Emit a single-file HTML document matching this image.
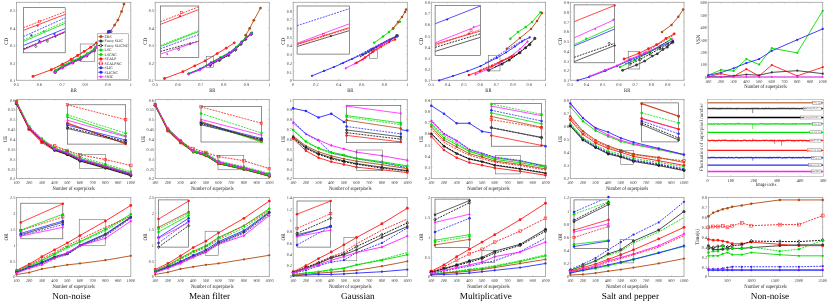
<!DOCTYPE html>
<html><head><meta charset="utf-8"><style>html,body{margin:0;padding:0;background:#fff;width:830px;height:303px;overflow:hidden}svg{display:block;will-change:transform;text-rendering:geometricPrecision}</style></head>
<body><svg width="830" height="303" viewBox="0 0 830 303">
<rect width="830" height="303" fill="#fff"/>
<rect x="16.50" y="2.30" width="114.30" height="78.00" fill="none" stroke="#a4a4a4" stroke-width="0.85"/>
<path d="M16.50 80.30v-1.2M16.50 2.30v1.2" stroke="#a4a4a4" stroke-width="0.5"/>
<text x="16.50" y="86.00" font-size="4.3" text-anchor="middle" font-family="Liberation Serif, serif" fill="#3a3a3a">0.5</text>
<path d="M39.36 80.30v-1.2M39.36 2.30v1.2" stroke="#a4a4a4" stroke-width="0.5"/>
<text x="39.36" y="86.00" font-size="4.3" text-anchor="middle" font-family="Liberation Serif, serif" fill="#3a3a3a">0.6</text>
<path d="M62.22 80.30v-1.2M62.22 2.30v1.2" stroke="#a4a4a4" stroke-width="0.5"/>
<text x="62.22" y="86.00" font-size="4.3" text-anchor="middle" font-family="Liberation Serif, serif" fill="#3a3a3a">0.7</text>
<path d="M85.08 80.30v-1.2M85.08 2.30v1.2" stroke="#a4a4a4" stroke-width="0.5"/>
<text x="85.08" y="86.00" font-size="4.3" text-anchor="middle" font-family="Liberation Serif, serif" fill="#3a3a3a">0.8</text>
<path d="M107.94 80.30v-1.2M107.94 2.30v1.2" stroke="#a4a4a4" stroke-width="0.5"/>
<text x="107.94" y="86.00" font-size="4.3" text-anchor="middle" font-family="Liberation Serif, serif" fill="#3a3a3a">0.9</text>
<path d="M130.80 80.30v-1.2M130.80 2.30v1.2" stroke="#a4a4a4" stroke-width="0.5"/>
<text x="130.80" y="86.00" font-size="4.3" text-anchor="middle" font-family="Liberation Serif, serif" fill="#3a3a3a">1</text>
<path d="M16.50 80.30h1.2M130.80 80.30h-1.2" stroke="#a4a4a4" stroke-width="0.5"/>
<text x="15.30" y="82.20" font-size="4.3" text-anchor="end" font-family="Liberation Serif, serif" fill="#3a3a3a">0.1</text>
<path d="M16.50 62.77h1.2M130.80 62.77h-1.2" stroke="#a4a4a4" stroke-width="0.5"/>
<text x="15.30" y="64.67" font-size="4.3" text-anchor="end" font-family="Liberation Serif, serif" fill="#3a3a3a">0.2</text>
<path d="M16.50 45.25h1.2M130.80 45.25h-1.2" stroke="#a4a4a4" stroke-width="0.5"/>
<text x="15.30" y="47.15" font-size="4.3" text-anchor="end" font-family="Liberation Serif, serif" fill="#3a3a3a">0.3</text>
<path d="M16.50 27.72h1.2M130.80 27.72h-1.2" stroke="#a4a4a4" stroke-width="0.5"/>
<text x="15.30" y="29.62" font-size="4.3" text-anchor="end" font-family="Liberation Serif, serif" fill="#3a3a3a">0.4</text>
<path d="M16.50 10.20h1.2M130.80 10.20h-1.2" stroke="#a4a4a4" stroke-width="0.5"/>
<text x="15.30" y="12.10" font-size="4.3" text-anchor="end" font-family="Liberation Serif, serif" fill="#3a3a3a">0.5</text>
<text x="0" y="0" transform="translate(73.65,91.60) scale(0.86,1)" font-size="5.40" text-anchor="middle" font-family="Liberation Serif, serif" fill="#222">BR</text>
<text x="0" y="0" transform="translate(8.00,41.30) rotate(-90) scale(0.92,1)" font-size="5.40" text-anchor="middle" font-family="Liberation Serif, serif" fill="#222">CD</text>
<path d="M55.20 71.80 L62.30 67.30 L72.70 62.30 L80.20 59.00 L86.80 55.30 L94.30 50.30 L97.10 46.50" fill="none" stroke="#000000" stroke-width="0.9" stroke-dasharray="1.9 1.1" stroke-linejoin="round"/>
<path d="M55.20 70.17L56.50 71.80L55.20 73.43L53.90 71.80Z" fill="none" stroke="#000000" stroke-width="0.6"/>
<path d="M62.30 65.67L63.60 67.30L62.30 68.93L61.00 67.30Z" fill="none" stroke="#000000" stroke-width="0.6"/>
<path d="M72.70 60.67L74.00 62.30L72.70 63.93L71.40 62.30Z" fill="none" stroke="#000000" stroke-width="0.6"/>
<path d="M80.20 57.37L81.50 59.00L80.20 60.63L78.90 59.00Z" fill="none" stroke="#000000" stroke-width="0.6"/>
<path d="M86.80 53.67L88.10 55.30L86.80 56.93L85.50 55.30Z" fill="none" stroke="#000000" stroke-width="0.6"/>
<path d="M94.30 48.67L95.60 50.30L94.30 51.93L93.00 50.30Z" fill="none" stroke="#000000" stroke-width="0.6"/>
<path d="M97.10 44.87L98.40 46.50L97.10 48.13L95.80 46.50Z" fill="none" stroke="#000000" stroke-width="0.6"/>
<path d="M55.08 72.20 L62.18 67.70 L72.58 62.70 L80.08 59.40 L86.68 55.70 L94.18 50.70 L96.98 46.90" fill="none" stroke="#3a3a3a" stroke-width="0.9" stroke-linejoin="round"/>
<circle cx="55.08" cy="72.20" r="1.53" fill="#3a3a3a"/>
<circle cx="62.18" cy="67.70" r="1.53" fill="#3a3a3a"/>
<circle cx="72.58" cy="62.70" r="1.53" fill="#3a3a3a"/>
<circle cx="80.08" cy="59.40" r="1.53" fill="#3a3a3a"/>
<circle cx="86.68" cy="55.70" r="1.53" fill="#3a3a3a"/>
<circle cx="94.18" cy="50.70" r="1.53" fill="#3a3a3a"/>
<circle cx="96.98" cy="46.90" r="1.53" fill="#3a3a3a"/>
<path d="M55.41 71.10 L62.51 66.60 L72.91 61.60 L80.41 58.30 L87.01 54.60 L94.51 49.60 L97.31 45.80" fill="none" stroke="#2a2aff" stroke-width="0.9" stroke-linejoin="round"/>
<circle cx="55.41" cy="71.10" r="1.26" fill="#2a2aff"/>
<circle cx="62.51" cy="66.60" r="1.26" fill="#2a2aff"/>
<circle cx="72.91" cy="61.60" r="1.26" fill="#2a2aff"/>
<circle cx="80.41" cy="58.30" r="1.26" fill="#2a2aff"/>
<circle cx="87.01" cy="54.60" r="1.26" fill="#2a2aff"/>
<circle cx="94.51" cy="49.60" r="1.26" fill="#2a2aff"/>
<circle cx="97.31" cy="45.80" r="1.26" fill="#2a2aff"/>
<path d="M55.50 70.80 L62.60 66.30 L73.00 61.30 L80.50 58.00 L87.10 54.30 L94.60 49.30 L97.40 45.50" fill="none" stroke="#2a2aff" stroke-width="0.9" stroke-dasharray="1.9 1.1" stroke-linejoin="round"/>
<circle cx="55.50" cy="70.80" r="1.12" fill="#2a2aff"/>
<circle cx="62.60" cy="66.30" r="1.12" fill="#2a2aff"/>
<circle cx="73.00" cy="61.30" r="1.12" fill="#2a2aff"/>
<circle cx="80.50" cy="58.00" r="1.12" fill="#2a2aff"/>
<circle cx="87.10" cy="54.30" r="1.12" fill="#2a2aff"/>
<circle cx="94.60" cy="49.30" r="1.12" fill="#2a2aff"/>
<circle cx="97.40" cy="45.50" r="1.12" fill="#2a2aff"/>
<path d="M55.65 70.30 L62.75 65.80 L73.15 60.80 L80.65 57.50 L87.25 53.80 L94.75 48.80 L97.55 45.00" fill="none" stroke="#00e000" stroke-width="0.9" stroke-dasharray="1.9 1.1" stroke-linejoin="round"/>
<circle cx="55.65" cy="70.30" r="1.12" fill="#00e000"/>
<circle cx="62.75" cy="65.80" r="1.12" fill="#00e000"/>
<circle cx="73.15" cy="60.80" r="1.12" fill="#00e000"/>
<circle cx="80.65" cy="57.50" r="1.12" fill="#00e000"/>
<circle cx="87.25" cy="53.80" r="1.12" fill="#00e000"/>
<circle cx="94.75" cy="48.80" r="1.12" fill="#00e000"/>
<circle cx="97.55" cy="45.00" r="1.12" fill="#00e000"/>
<path d="M55.77 69.90 L62.87 65.40 L73.27 60.40 L80.77 57.10 L87.37 53.40 L94.87 48.40 L97.67 44.60" fill="none" stroke="#00e000" stroke-width="0.9" stroke-linejoin="round"/>
<circle cx="55.77" cy="69.90" r="1.26" fill="#00e000"/>
<circle cx="62.87" cy="65.40" r="1.26" fill="#00e000"/>
<circle cx="73.27" cy="60.40" r="1.26" fill="#00e000"/>
<circle cx="80.77" cy="57.10" r="1.26" fill="#00e000"/>
<circle cx="87.37" cy="53.40" r="1.26" fill="#00e000"/>
<circle cx="94.87" cy="48.40" r="1.26" fill="#00e000"/>
<circle cx="97.67" cy="44.60" r="1.26" fill="#00e000"/>
<path d="M55.05 72.30 L62.15 67.80 L72.55 62.80 L80.05 59.50 L86.65 55.80 L94.15 50.80 L96.95 47.00" fill="none" stroke="#ff20ff" stroke-width="0.9" stroke-linejoin="round"/>
<path d="M55.05 70.67L56.35 72.30L55.05 73.93L53.75 72.30Z" fill="#ff20ff"/>
<path d="M62.15 66.17L63.45 67.80L62.15 69.43L60.85 67.80Z" fill="#ff20ff"/>
<path d="M72.55 61.17L73.85 62.80L72.55 64.43L71.25 62.80Z" fill="#ff20ff"/>
<path d="M80.05 57.87L81.35 59.50L80.05 61.13L78.75 59.50Z" fill="#ff20ff"/>
<path d="M86.65 54.17L87.95 55.80L86.65 57.43L85.35 55.80Z" fill="#ff20ff"/>
<path d="M94.15 49.17L95.45 50.80L94.15 52.43L92.85 50.80Z" fill="#ff20ff"/>
<path d="M96.95 45.37L98.25 47.00L96.95 48.63L95.65 47.00Z" fill="#ff20ff"/>
<path d="M51.50 69.50 L62.80 63.90 L71.30 59.20 L77.90 55.20 L84.50 51.10 L91.00 46.90 L96.70 42.60" fill="none" stroke="#ff1a1a" stroke-width="0.9" stroke-dasharray="1.9 1.1" stroke-linejoin="round"/>
<path d="M33.00 76.40 L51.30 69.80 L62.60 64.20 L71.10 59.50 L77.70 55.50 L84.30 51.40 L90.80 47.20 L96.50 42.90" fill="none" stroke="#ff1a1a" stroke-width="0.9" stroke-linejoin="round"/>
<circle cx="33.00" cy="76.40" r="1.46" fill="#ff1a1a"/>
<circle cx="51.30" cy="69.80" r="1.46" fill="#ff1a1a"/>
<circle cx="62.60" cy="64.20" r="1.46" fill="#ff1a1a"/>
<circle cx="71.10" cy="59.50" r="1.46" fill="#ff1a1a"/>
<circle cx="77.70" cy="55.50" r="1.46" fill="#ff1a1a"/>
<circle cx="84.30" cy="51.40" r="1.46" fill="#ff1a1a"/>
<circle cx="90.80" cy="47.20" r="1.46" fill="#ff1a1a"/>
<circle cx="96.50" cy="42.90" r="1.46" fill="#ff1a1a"/>
<path d="M108.00 33.00 L110.40 31.40 L114.60 25.10 L117.90 20.10 L121.60 11.60 L124.00 4.10" fill="none" stroke="#b04c14" stroke-width="0.9" stroke-linejoin="round"/>
<circle cx="108.00" cy="33.00" r="1.40" fill="#b04c14"/>
<circle cx="110.40" cy="31.40" r="1.40" fill="#b04c14"/>
<circle cx="114.60" cy="25.10" r="1.40" fill="#b04c14"/>
<circle cx="117.90" cy="20.10" r="1.40" fill="#b04c14"/>
<circle cx="121.60" cy="11.60" r="1.40" fill="#b04c14"/>
<circle cx="124.00" cy="4.10" r="1.40" fill="#b04c14"/>
<circle cx="108.50" cy="31.50" r="1.40" fill="#2a2aff"/>
<circle cx="109.50" cy="31.50" r="1.40" fill="#2a2aff"/>
<circle cx="110.50" cy="31.50" r="1.40" fill="#3a3a3a"/>
<path d="M111.50 29.87L112.80 31.50L111.50 33.13L110.20 31.50Z" fill="#ff20ff"/>
<rect x="80.20" y="44.00" width="14.60" height="17.40" fill="none" stroke="#555" stroke-width="0.5"/>
<rect x="23.30" y="7.70" width="41.90" height="45.10" fill="#fff" stroke="#444" stroke-width="0.6"/>
<clipPath id="c104"><rect x="23.30" y="7.70" width="41.90" height="45.10"/></clipPath>
<g clip-path="url(#c104)">
<path d="M23.30 27.70 L65.20 11.70" fill="none" stroke="#ff1a1a" stroke-width="0.8" stroke-dasharray="1.9 1.1" stroke-linejoin="round"/>
<rect x="38.35" y="20.45" width="2.11" height="2.11" fill="none" stroke="#ff1a1a" stroke-width="0.55"/>
<path d="M23.30 30.40 L65.20 14.40" fill="none" stroke="#ff1a1a" stroke-width="0.8" stroke-linejoin="round"/>
<circle cx="37.60" cy="25.60" r="1.12" fill="#ff1a1a"/>
<path d="M23.30 36.60 L65.20 17.90" fill="none" stroke="#2a2aff" stroke-width="0.8" stroke-dasharray="1.9 1.1" stroke-linejoin="round"/>
<circle cx="31.40" cy="35.40" r="1.12" fill="#2a2aff"/>
<path d="M23.30 40.20 L65.20 21.50" fill="none" stroke="#00e000" stroke-width="0.8" stroke-dasharray="1.9 1.1" stroke-linejoin="round"/>
<path d="M23.30 41.60 L65.20 23.30" fill="none" stroke="#00e000" stroke-width="0.8" stroke-linejoin="round"/>
<circle cx="43.80" cy="31.30" r="1.12" fill="#00e000"/>
<path d="M23.30 45.50 L65.20 28.60" fill="none" stroke="#2a2aff" stroke-width="0.8" stroke-linejoin="round"/>
<circle cx="54.50" cy="34.00" r="1.12" fill="#2a2aff"/>
<circle cx="39.40" cy="41.10" r="1.12" fill="#2a2aff"/>
<path d="M23.30 48.80 L65.20 32.20" fill="none" stroke="#000000" stroke-width="0.8" stroke-dasharray="1.9 1.1" stroke-linejoin="round"/>
<path d="M35.80 45.10L36.84 46.40L35.80 47.70L34.76 46.40Z" fill="none" stroke="#000000" stroke-width="0.6"/>
<path d="M47.40 39.80L48.44 41.10L47.40 42.40L46.36 41.10Z" fill="none" stroke="#000000" stroke-width="0.6"/>
<path d="M23.30 49.50 L65.20 31.80" fill="none" stroke="#3a3a3a" stroke-width="0.8" stroke-linejoin="round"/>
<circle cx="55.40" cy="36.60" r="1.12" fill="#3a3a3a"/>
<path d="M23.30 50.00 L65.20 31.30" fill="none" stroke="#ff20ff" stroke-width="0.8" stroke-linejoin="round"/>
<path d="M40.30 41.50L41.34 42.80L40.30 44.10L39.26 42.80Z" fill="#ff20ff"/>
</g>
<rect x="97.4" y="33.8" width="31.20" height="45.60" fill="#fff" stroke="#777" stroke-width="0.5"/>
<path d="M98.30 36.60 L103.70 36.60" fill="none" stroke="#b04c14" stroke-width="0.8" stroke-linejoin="round"/>
<circle cx="100.90" cy="36.60" r="1.53" fill="#b04c14"/>
<text x="104.6" y="38.00" font-size="3.8" font-family="Liberation Serif, serif" fill="#222">ERS</text>
<path d="M98.30 41.06 L103.70 41.06" fill="none" stroke="#3a3a3a" stroke-width="0.8" stroke-linejoin="round"/>
<circle cx="100.90" cy="41.06" r="1.53" fill="#3a3a3a"/>
<text x="104.6" y="42.46" font-size="3.8" font-family="Liberation Serif, serif" fill="#222">Fuzzy SLIC</text>
<path d="M98.30 45.52 L103.70 45.52" fill="none" stroke="#000000" stroke-width="0.8" stroke-dasharray="1.9 1.1" stroke-linejoin="round"/>
<path d="M100.90 43.73L102.33 45.52L100.90 47.31L99.47 45.52Z" fill="none" stroke="#000000" stroke-width="0.6"/>
<text x="104.6" y="46.92" font-size="3.8" font-family="Liberation Serif, serif" fill="#222">Fuzzy SLICNC</text>
<path d="M98.30 49.98 L103.70 49.98" fill="none" stroke="#00e000" stroke-width="0.8" stroke-linejoin="round"/>
<circle cx="100.90" cy="49.98" r="1.53" fill="#00e000"/>
<text x="104.6" y="51.38" font-size="3.8" font-family="Liberation Serif, serif" fill="#222">LSC</text>
<path d="M98.30 54.44 L103.70 54.44" fill="none" stroke="#00e000" stroke-width="0.8" stroke-dasharray="1.9 1.1" stroke-linejoin="round"/>
<circle cx="100.90" cy="54.44" r="1.53" fill="#00e000"/>
<text x="104.6" y="55.84" font-size="3.8" font-family="Liberation Serif, serif" fill="#222">LSCNC</text>
<path d="M98.30 58.90 L103.70 58.90" fill="none" stroke="#ff1a1a" stroke-width="0.8" stroke-linejoin="round"/>
<circle cx="100.90" cy="58.90" r="1.53" fill="#ff1a1a"/>
<text x="104.6" y="60.30" font-size="3.8" font-family="Liberation Serif, serif" fill="#222">SCALP</text>
<path d="M98.30 63.36 L103.70 63.36" fill="none" stroke="#ff1a1a" stroke-width="0.8" stroke-dasharray="1.9 1.1" stroke-linejoin="round"/>
<rect x="99.45" y="61.91" width="2.90" height="2.90" fill="none" stroke="#ff1a1a" stroke-width="0.55"/>
<text x="104.6" y="64.76" font-size="3.8" font-family="Liberation Serif, serif" fill="#222">SCALPNC</text>
<path d="M98.30 67.82 L103.70 67.82" fill="none" stroke="#2a2aff" stroke-width="0.8" stroke-linejoin="round"/>
<circle cx="100.90" cy="67.82" r="1.53" fill="#2a2aff"/>
<text x="104.6" y="69.22" font-size="3.8" font-family="Liberation Serif, serif" fill="#222">SLIC</text>
<path d="M98.30 72.28 L103.70 72.28" fill="none" stroke="#2a2aff" stroke-width="0.8" stroke-dasharray="1.9 1.1" stroke-linejoin="round"/>
<circle cx="100.90" cy="72.28" r="1.53" fill="#2a2aff"/>
<text x="104.6" y="73.68" font-size="3.8" font-family="Liberation Serif, serif" fill="#222">SLICNC</text>
<path d="M98.30 76.74 L103.70 76.74" fill="none" stroke="#ff20ff" stroke-width="0.8" stroke-linejoin="round"/>
<path d="M100.90 74.95L102.33 76.74L100.90 78.53L99.47 76.74Z" fill="#ff20ff"/>
<text x="104.6" y="78.14" font-size="3.8" font-family="Liberation Serif, serif" fill="#222">SNIC</text>
<rect x="155.20" y="2.30" width="114.10" height="78.00" fill="none" stroke="#a4a4a4" stroke-width="0.85"/>
<path d="M155.20 80.30v-1.2M155.20 2.30v1.2" stroke="#a4a4a4" stroke-width="0.5"/>
<text x="155.20" y="86.00" font-size="4.3" text-anchor="middle" font-family="Liberation Serif, serif" fill="#3a3a3a">0.5</text>
<path d="M178.02 80.30v-1.2M178.02 2.30v1.2" stroke="#a4a4a4" stroke-width="0.5"/>
<text x="178.02" y="86.00" font-size="4.3" text-anchor="middle" font-family="Liberation Serif, serif" fill="#3a3a3a">0.6</text>
<path d="M200.84 80.30v-1.2M200.84 2.30v1.2" stroke="#a4a4a4" stroke-width="0.5"/>
<text x="200.84" y="86.00" font-size="4.3" text-anchor="middle" font-family="Liberation Serif, serif" fill="#3a3a3a">0.7</text>
<path d="M223.66 80.30v-1.2M223.66 2.30v1.2" stroke="#a4a4a4" stroke-width="0.5"/>
<text x="223.66" y="86.00" font-size="4.3" text-anchor="middle" font-family="Liberation Serif, serif" fill="#3a3a3a">0.8</text>
<path d="M246.48 80.30v-1.2M246.48 2.30v1.2" stroke="#a4a4a4" stroke-width="0.5"/>
<text x="246.48" y="86.00" font-size="4.3" text-anchor="middle" font-family="Liberation Serif, serif" fill="#3a3a3a">0.9</text>
<path d="M269.30 80.30v-1.2M269.30 2.30v1.2" stroke="#a4a4a4" stroke-width="0.5"/>
<text x="269.30" y="86.00" font-size="4.3" text-anchor="middle" font-family="Liberation Serif, serif" fill="#3a3a3a">1</text>
<path d="M155.20 80.30h1.2M269.30 80.30h-1.2" stroke="#a4a4a4" stroke-width="0.5"/>
<text x="154.00" y="82.20" font-size="4.3" text-anchor="end" font-family="Liberation Serif, serif" fill="#3a3a3a">0.1</text>
<path d="M155.20 62.77h1.2M269.30 62.77h-1.2" stroke="#a4a4a4" stroke-width="0.5"/>
<text x="154.00" y="64.67" font-size="4.3" text-anchor="end" font-family="Liberation Serif, serif" fill="#3a3a3a">0.2</text>
<path d="M155.20 45.25h1.2M269.30 45.25h-1.2" stroke="#a4a4a4" stroke-width="0.5"/>
<text x="154.00" y="47.15" font-size="4.3" text-anchor="end" font-family="Liberation Serif, serif" fill="#3a3a3a">0.3</text>
<path d="M155.20 27.72h1.2M269.30 27.72h-1.2" stroke="#a4a4a4" stroke-width="0.5"/>
<text x="154.00" y="29.62" font-size="4.3" text-anchor="end" font-family="Liberation Serif, serif" fill="#3a3a3a">0.4</text>
<path d="M155.20 10.20h1.2M269.30 10.20h-1.2" stroke="#a4a4a4" stroke-width="0.5"/>
<text x="154.00" y="12.10" font-size="4.3" text-anchor="end" font-family="Liberation Serif, serif" fill="#3a3a3a">0.5</text>
<text x="0" y="0" transform="translate(212.25,91.60) scale(0.86,1)" font-size="5.40" text-anchor="middle" font-family="Liberation Serif, serif" fill="#222">BR</text>
<text x="0" y="0" transform="translate(146.70,41.30) rotate(-90) scale(0.92,1)" font-size="5.40" text-anchor="middle" font-family="Liberation Serif, serif" fill="#222">CD</text>
<path d="M164.50 78.50 L182.90 71.70 L194.80 65.80 L205.10 60.90 L217.20 53.60 L226.20 48.20 L234.30 42.80" fill="none" stroke="#ff1a1a" stroke-width="0.9" stroke-linejoin="round"/>
<circle cx="164.50" cy="78.50" r="1.40" fill="#ff1a1a"/>
<circle cx="182.90" cy="71.70" r="1.40" fill="#ff1a1a"/>
<circle cx="194.80" cy="65.80" r="1.40" fill="#ff1a1a"/>
<circle cx="205.10" cy="60.90" r="1.40" fill="#ff1a1a"/>
<circle cx="217.20" cy="53.60" r="1.40" fill="#ff1a1a"/>
<circle cx="226.20" cy="48.20" r="1.40" fill="#ff1a1a"/>
<circle cx="234.30" cy="42.80" r="1.40" fill="#ff1a1a"/>
<path d="M210.19 65.20 L219.49 60.20 L228.59 55.20 L235.49 49.70 L240.89 44.03 L245.49 39.19 L251.09 34.15" fill="none" stroke="#000000" stroke-width="0.9" stroke-dasharray="1.9 1.1" stroke-linejoin="round"/>
<path d="M210.19 63.41L211.62 65.20L210.19 66.99L208.76 65.20Z" fill="none" stroke="#000000" stroke-width="0.6"/>
<path d="M219.49 58.41L220.92 60.20L219.49 61.99L218.06 60.20Z" fill="none" stroke="#000000" stroke-width="0.6"/>
<path d="M228.59 53.41L230.02 55.20L228.59 56.99L227.16 55.20Z" fill="none" stroke="#000000" stroke-width="0.6"/>
<path d="M235.49 47.91L236.92 49.70L235.49 51.49L234.06 49.70Z" fill="none" stroke="#000000" stroke-width="0.6"/>
<path d="M240.89 42.24L242.32 44.03L240.89 45.82L239.46 44.03Z" fill="none" stroke="#000000" stroke-width="0.6"/>
<path d="M245.49 37.40L246.92 39.19L245.49 40.98L244.06 39.19Z" fill="none" stroke="#000000" stroke-width="0.6"/>
<path d="M251.09 32.36L252.52 34.15L251.09 35.94L249.66 34.15Z" fill="none" stroke="#000000" stroke-width="0.6"/>
<path d="M210.31 64.80 L219.61 59.80 L228.71 54.80 L235.61 49.30 L241.01 43.67 L245.61 38.91 L251.21 33.95" fill="none" stroke="#3a3a3a" stroke-width="0.9" stroke-linejoin="round"/>
<circle cx="210.31" cy="64.80" r="1.40" fill="#3a3a3a"/>
<circle cx="219.61" cy="59.80" r="1.40" fill="#3a3a3a"/>
<circle cx="228.71" cy="54.80" r="1.40" fill="#3a3a3a"/>
<circle cx="235.61" cy="49.30" r="1.40" fill="#3a3a3a"/>
<circle cx="241.01" cy="43.67" r="1.40" fill="#3a3a3a"/>
<circle cx="245.61" cy="38.91" r="1.40" fill="#3a3a3a"/>
<circle cx="251.21" cy="33.95" r="1.40" fill="#3a3a3a"/>
<path d="M188.86 73.40 L200.36 68.54 L211.06 62.30 L220.36 57.30 L229.46 52.30 L236.36 46.80 L241.76 41.42 L246.36 37.16 L251.96 32.70" fill="none" stroke="#00e000" stroke-width="0.9" stroke-linejoin="round"/>
<circle cx="188.86" cy="73.40" r="1.12" fill="#00e000"/>
<circle cx="200.36" cy="68.54" r="1.12" fill="#00e000"/>
<circle cx="211.06" cy="62.30" r="1.12" fill="#00e000"/>
<circle cx="220.36" cy="57.30" r="1.12" fill="#00e000"/>
<circle cx="229.46" cy="52.30" r="1.12" fill="#00e000"/>
<circle cx="236.36" cy="46.80" r="1.12" fill="#00e000"/>
<circle cx="241.76" cy="41.42" r="1.12" fill="#00e000"/>
<circle cx="246.36" cy="37.16" r="1.12" fill="#00e000"/>
<circle cx="251.96" cy="32.70" r="1.12" fill="#00e000"/>
<path d="M188.74 73.60 L200.24 68.86 L210.94 62.70 L220.24 57.70 L229.34 52.70 L236.24 47.20 L241.64 41.78 L246.24 37.44 L251.84 32.90" fill="none" stroke="#00e000" stroke-width="0.9" stroke-dasharray="1.9 1.1" stroke-linejoin="round"/>
<circle cx="188.74" cy="73.60" r="1.12" fill="#00e000"/>
<circle cx="200.24" cy="68.86" r="1.12" fill="#00e000"/>
<circle cx="210.94" cy="62.70" r="1.12" fill="#00e000"/>
<circle cx="220.24" cy="57.70" r="1.12" fill="#00e000"/>
<circle cx="229.34" cy="52.70" r="1.12" fill="#00e000"/>
<circle cx="236.24" cy="47.20" r="1.12" fill="#00e000"/>
<circle cx="241.64" cy="41.78" r="1.12" fill="#00e000"/>
<circle cx="246.24" cy="37.44" r="1.12" fill="#00e000"/>
<circle cx="251.84" cy="32.90" r="1.12" fill="#00e000"/>
<path d="M188.59 73.85 L200.09 69.26 L210.79 63.20 L220.09 58.20 L229.19 53.20 L236.09 47.70 L241.49 42.23 L246.09 37.79 L251.69 33.15" fill="none" stroke="#2a2aff" stroke-width="0.9" stroke-dasharray="1.9 1.1" stroke-linejoin="round"/>
<circle cx="188.59" cy="73.85" r="0.98" fill="#2a2aff"/>
<circle cx="200.09" cy="69.26" r="0.98" fill="#2a2aff"/>
<circle cx="210.79" cy="63.20" r="0.98" fill="#2a2aff"/>
<circle cx="220.09" cy="58.20" r="0.98" fill="#2a2aff"/>
<circle cx="229.19" cy="53.20" r="0.98" fill="#2a2aff"/>
<circle cx="236.09" cy="47.70" r="0.98" fill="#2a2aff"/>
<circle cx="241.49" cy="42.23" r="0.98" fill="#2a2aff"/>
<circle cx="246.09" cy="37.79" r="0.98" fill="#2a2aff"/>
<circle cx="251.69" cy="33.15" r="0.98" fill="#2a2aff"/>
<path d="M188.47 74.05 L199.97 69.58 L210.67 63.60 L219.97 58.60 L229.07 53.60 L235.97 48.10 L241.37 42.59 L245.97 38.07 L251.57 33.35" fill="none" stroke="#2a2aff" stroke-width="0.9" stroke-linejoin="round"/>
<circle cx="188.47" cy="74.05" r="1.12" fill="#2a2aff"/>
<circle cx="199.97" cy="69.58" r="1.12" fill="#2a2aff"/>
<circle cx="210.67" cy="63.60" r="1.12" fill="#2a2aff"/>
<circle cx="219.97" cy="58.60" r="1.12" fill="#2a2aff"/>
<circle cx="229.07" cy="53.60" r="1.12" fill="#2a2aff"/>
<circle cx="235.97" cy="48.10" r="1.12" fill="#2a2aff"/>
<circle cx="241.37" cy="42.59" r="1.12" fill="#2a2aff"/>
<circle cx="245.97" cy="38.07" r="1.12" fill="#2a2aff"/>
<circle cx="251.57" cy="33.35" r="1.12" fill="#2a2aff"/>
<path d="M188.35 74.25 L199.85 69.90 L210.55 64.00 L219.85 59.00 L228.95 54.00 L235.85 48.50 L241.25 42.95 L245.85 38.35 L251.45 33.55" fill="none" stroke="#ff20ff" stroke-width="0.9" stroke-linejoin="round"/>
<path d="M188.35 72.79L189.52 74.25L188.35 75.71L187.18 74.25Z" fill="#ff20ff"/>
<path d="M199.85 68.44L201.02 69.90L199.85 71.36L198.68 69.90Z" fill="#ff20ff"/>
<path d="M210.55 62.54L211.72 64.00L210.55 65.46L209.38 64.00Z" fill="#ff20ff"/>
<path d="M219.85 57.54L221.02 59.00L219.85 60.46L218.68 59.00Z" fill="#ff20ff"/>
<path d="M228.95 52.54L230.12 54.00L228.95 55.46L227.78 54.00Z" fill="#ff20ff"/>
<path d="M235.85 47.04L237.02 48.50L235.85 49.96L234.68 48.50Z" fill="#ff20ff"/>
<path d="M241.25 41.49L242.42 42.95L241.25 44.41L240.08 42.95Z" fill="#ff20ff"/>
<path d="M245.85 36.89L247.02 38.35L245.85 39.81L244.68 38.35Z" fill="#ff20ff"/>
<path d="M251.45 32.09L252.62 33.55L251.45 35.01L250.28 33.55Z" fill="#ff20ff"/>
<path d="M245.70 35.20 L249.70 28.40 L253.80 20.30 L260.50 8.10" fill="none" stroke="#b04c14" stroke-width="0.9" stroke-linejoin="round"/>
<circle cx="245.70" cy="35.20" r="1.40" fill="#b04c14"/>
<circle cx="249.70" cy="28.40" r="1.40" fill="#b04c14"/>
<circle cx="253.80" cy="20.30" r="1.40" fill="#b04c14"/>
<circle cx="260.50" cy="8.10" r="1.40" fill="#b04c14"/>
<rect x="206.40" y="56.30" width="7.10" height="11.40" fill="none" stroke="#555" stroke-width="0.5"/>
<rect x="160.40" y="6.00" width="38.40" height="51.40" fill="#fff" stroke="#444" stroke-width="0.6"/>
<clipPath id="c263"><rect x="160.40" y="6.00" width="38.40" height="51.40"/></clipPath>
<g clip-path="url(#c263)">
<path d="M160.40 21.70 L198.80 6.80" fill="none" stroke="#ff1a1a" stroke-width="0.8" stroke-dasharray="1.9 1.1" stroke-linejoin="round"/>
<rect x="180.25" y="11.65" width="2.11" height="2.11" fill="none" stroke="#ff1a1a" stroke-width="0.55"/>
<path d="M160.40 24.40 L198.80 9.50" fill="none" stroke="#ff1a1a" stroke-width="0.8" stroke-linejoin="round"/>
<circle cx="179.90" cy="16.20" r="1.12" fill="#ff1a1a"/>
<path d="M160.40 45.50 L198.80 30.50" fill="none" stroke="#00e000" stroke-width="0.8" stroke-dasharray="1.9 1.1" stroke-linejoin="round"/>
<path d="M160.40 46.50 L198.80 31.50" fill="none" stroke="#00e000" stroke-width="0.8" stroke-linejoin="round"/>
<path d="M160.40 48.70 L198.80 34.60" fill="none" stroke="#2a2aff" stroke-width="0.8" stroke-dasharray="1.9 1.1" stroke-linejoin="round"/>
<path d="M160.40 51.40 L198.80 41.10" fill="none" stroke="#000000" stroke-width="0.8" stroke-dasharray="1.9 1.1" stroke-linejoin="round"/>
<path d="M178.80 48.00L179.84 49.30L178.80 50.60L177.76 49.30Z" fill="none" stroke="#000000" stroke-width="0.6"/>
<path d="M190.20 42.50L191.24 43.80L190.20 45.10L189.16 43.80Z" fill="none" stroke="#000000" stroke-width="0.6"/>
<path d="M160.40 54.10 L198.80 41.10" fill="none" stroke="#ff20ff" stroke-width="0.8" stroke-linejoin="round"/>
<path d="M167.20 52.80L168.24 54.10L167.20 55.40L166.16 54.10Z" fill="#ff20ff"/>
</g>
<rect x="293.20" y="2.30" width="114.10" height="78.00" fill="none" stroke="#a4a4a4" stroke-width="0.85"/>
<path d="M293.20 80.30v-1.2M293.20 2.30v1.2" stroke="#a4a4a4" stroke-width="0.5"/>
<text x="293.20" y="86.00" font-size="4.3" text-anchor="middle" font-family="Liberation Serif, serif" fill="#3a3a3a">0</text>
<path d="M316.02 80.30v-1.2M316.02 2.30v1.2" stroke="#a4a4a4" stroke-width="0.5"/>
<text x="316.02" y="86.00" font-size="4.3" text-anchor="middle" font-family="Liberation Serif, serif" fill="#3a3a3a">0.2</text>
<path d="M338.84 80.30v-1.2M338.84 2.30v1.2" stroke="#a4a4a4" stroke-width="0.5"/>
<text x="338.84" y="86.00" font-size="4.3" text-anchor="middle" font-family="Liberation Serif, serif" fill="#3a3a3a">0.4</text>
<path d="M361.66 80.30v-1.2M361.66 2.30v1.2" stroke="#a4a4a4" stroke-width="0.5"/>
<text x="361.66" y="86.00" font-size="4.3" text-anchor="middle" font-family="Liberation Serif, serif" fill="#3a3a3a">0.6</text>
<path d="M384.48 80.30v-1.2M384.48 2.30v1.2" stroke="#a4a4a4" stroke-width="0.5"/>
<text x="384.48" y="86.00" font-size="4.3" text-anchor="middle" font-family="Liberation Serif, serif" fill="#3a3a3a">0.8</text>
<path d="M407.30 80.30v-1.2M407.30 2.30v1.2" stroke="#a4a4a4" stroke-width="0.5"/>
<text x="407.30" y="86.00" font-size="4.3" text-anchor="middle" font-family="Liberation Serif, serif" fill="#3a3a3a">1</text>
<path d="M293.20 80.30h1.2M407.30 80.30h-1.2" stroke="#a4a4a4" stroke-width="0.5"/>
<text x="292.00" y="82.20" font-size="4.3" text-anchor="end" font-family="Liberation Serif, serif" fill="#3a3a3a">0</text>
<path d="M293.20 71.61h1.2M407.30 71.61h-1.2" stroke="#a4a4a4" stroke-width="0.5"/>
<text x="292.00" y="73.51" font-size="4.3" text-anchor="end" font-family="Liberation Serif, serif" fill="#3a3a3a">0.1</text>
<path d="M293.20 62.93h1.2M407.30 62.93h-1.2" stroke="#a4a4a4" stroke-width="0.5"/>
<text x="292.00" y="64.83" font-size="4.3" text-anchor="end" font-family="Liberation Serif, serif" fill="#3a3a3a">0.2</text>
<path d="M293.20 54.24h1.2M407.30 54.24h-1.2" stroke="#a4a4a4" stroke-width="0.5"/>
<text x="292.00" y="56.14" font-size="4.3" text-anchor="end" font-family="Liberation Serif, serif" fill="#3a3a3a">0.3</text>
<path d="M293.20 45.56h1.2M407.30 45.56h-1.2" stroke="#a4a4a4" stroke-width="0.5"/>
<text x="292.00" y="47.46" font-size="4.3" text-anchor="end" font-family="Liberation Serif, serif" fill="#3a3a3a">0.4</text>
<path d="M293.20 36.87h1.2M407.30 36.87h-1.2" stroke="#a4a4a4" stroke-width="0.5"/>
<text x="292.00" y="38.77" font-size="4.3" text-anchor="end" font-family="Liberation Serif, serif" fill="#3a3a3a">0.5</text>
<path d="M293.20 28.18h1.2M407.30 28.18h-1.2" stroke="#a4a4a4" stroke-width="0.5"/>
<text x="292.00" y="30.08" font-size="4.3" text-anchor="end" font-family="Liberation Serif, serif" fill="#3a3a3a">0.6</text>
<path d="M293.20 19.50h1.2M407.30 19.50h-1.2" stroke="#a4a4a4" stroke-width="0.5"/>
<text x="292.00" y="21.40" font-size="4.3" text-anchor="end" font-family="Liberation Serif, serif" fill="#3a3a3a">0.7</text>
<path d="M293.20 10.81h1.2M407.30 10.81h-1.2" stroke="#a4a4a4" stroke-width="0.5"/>
<text x="292.00" y="12.71" font-size="4.3" text-anchor="end" font-family="Liberation Serif, serif" fill="#3a3a3a">0.8</text>
<text x="0" y="0" transform="translate(350.25,91.60) scale(0.86,1)" font-size="5.40" text-anchor="middle" font-family="Liberation Serif, serif" fill="#222">BR</text>
<text x="0" y="0" transform="translate(284.70,41.30) rotate(-90) scale(0.92,1)" font-size="5.40" text-anchor="middle" font-family="Liberation Serif, serif" fill="#222">CD</text>
<path d="M362.00 55.50 L371.00 50.00 L380.00 44.50 L389.00 39.50 L397.00 35.80" fill="none" stroke="#3a3a3a" stroke-width="0.9" stroke-linejoin="round"/>
<path d="M360.00 57.00 L369.00 52.00 L378.00 46.50 L387.00 41.50 L397.00 36.50" fill="none" stroke="#000000" stroke-width="0.9" stroke-dasharray="1.9 1.1" stroke-linejoin="round"/>
<circle cx="397.00" cy="35.80" r="1.81" fill="#3a3a3a"/>
<path d="M312.00 75.80 L324.10 70.90 L334.00 67.00 L343.00 63.00 L352.00 59.00 L362.00 54.50 L372.00 49.00 L382.00 44.00 L390.00 40.00 L397.20 36.50" fill="none" stroke="#2a2aff" stroke-width="0.9" stroke-linejoin="round"/>
<circle cx="312.00" cy="75.80" r="1.12" fill="#2a2aff"/>
<circle cx="324.10" cy="70.90" r="1.12" fill="#2a2aff"/>
<circle cx="334.00" cy="67.00" r="1.12" fill="#2a2aff"/>
<circle cx="343.00" cy="63.00" r="1.12" fill="#2a2aff"/>
<circle cx="352.00" cy="59.00" r="1.12" fill="#2a2aff"/>
<circle cx="362.00" cy="54.50" r="1.12" fill="#2a2aff"/>
<circle cx="372.00" cy="49.00" r="1.12" fill="#2a2aff"/>
<circle cx="382.00" cy="44.00" r="1.12" fill="#2a2aff"/>
<circle cx="390.00" cy="40.00" r="1.12" fill="#2a2aff"/>
<circle cx="397.20" cy="36.50" r="1.12" fill="#2a2aff"/>
<path d="M340.00 64.00 L352.00 58.50 L362.00 53.50 L372.00 48.00 L382.00 43.00 L391.00 38.50" fill="none" stroke="#2a2aff" stroke-width="0.9" stroke-dasharray="1.9 1.1" stroke-linejoin="round"/>
<path d="M345.80 68.20 L355.00 63.50 L363.00 59.50 L372.00 52.00 L380.00 45.50 L388.00 41.00" fill="none" stroke="#ff20ff" stroke-width="0.9" stroke-linejoin="round"/>
<path d="M345.80 66.74L346.97 68.20L345.80 69.66L344.63 68.20Z" fill="#ff20ff"/>
<path d="M355.00 62.04L356.17 63.50L355.00 64.96L353.83 63.50Z" fill="#ff20ff"/>
<path d="M363.00 58.04L364.17 59.50L363.00 60.96L361.83 59.50Z" fill="#ff20ff"/>
<path d="M372.00 50.54L373.17 52.00L372.00 53.46L370.83 52.00Z" fill="#ff20ff"/>
<path d="M380.00 44.04L381.17 45.50L380.00 46.96L378.83 45.50Z" fill="#ff20ff"/>
<path d="M388.00 39.54L389.17 41.00L388.00 42.46L386.83 41.00Z" fill="#ff20ff"/>
<path d="M358.00 62.00 L367.00 56.50 L375.00 51.00 L383.00 46.00 L391.00 41.50" fill="none" stroke="#ff1a1a" stroke-width="0.9" stroke-dasharray="1.9 1.1" stroke-linejoin="round"/>
<path d="M356.60 62.80 L365.00 57.50 L373.00 51.50 L381.00 46.50 L389.00 42.00 L395.00 39.50" fill="none" stroke="#ff1a1a" stroke-width="0.9" stroke-linejoin="round"/>
<circle cx="356.60" cy="62.80" r="1.26" fill="#ff1a1a"/>
<circle cx="365.00" cy="57.50" r="1.26" fill="#ff1a1a"/>
<circle cx="373.00" cy="51.50" r="1.26" fill="#ff1a1a"/>
<circle cx="381.00" cy="46.50" r="1.26" fill="#ff1a1a"/>
<circle cx="389.00" cy="42.00" r="1.26" fill="#ff1a1a"/>
<circle cx="395.00" cy="39.50" r="1.26" fill="#ff1a1a"/>
<path d="M374.20 42.80 L383.00 36.50 L389.00 32.00 L393.10 28.40 L399.90 21.70" fill="none" stroke="#00e000" stroke-width="0.9" stroke-linejoin="round"/>
<circle cx="374.20" cy="42.80" r="1.26" fill="#00e000"/>
<circle cx="383.00" cy="36.50" r="1.26" fill="#00e000"/>
<circle cx="389.00" cy="32.00" r="1.26" fill="#00e000"/>
<circle cx="393.10" cy="28.40" r="1.26" fill="#00e000"/>
<circle cx="399.90" cy="21.70" r="1.26" fill="#00e000"/>
<path d="M393.10 28.40 L398.00 22.00 L402.00 17.00 L405.00 12.00 L406.10 9.50" fill="none" stroke="#b04c14" stroke-width="0.9" stroke-linejoin="round"/>
<circle cx="393.10" cy="28.40" r="1.26" fill="#b04c14"/>
<circle cx="398.00" cy="22.00" r="1.26" fill="#b04c14"/>
<circle cx="402.00" cy="17.00" r="1.26" fill="#b04c14"/>
<circle cx="405.00" cy="12.00" r="1.26" fill="#b04c14"/>
<circle cx="406.10" cy="9.50" r="1.26" fill="#b04c14"/>
<rect x="369.60" y="49.50" width="7.80" height="9.20" fill="none" stroke="#555" stroke-width="0.5"/>
<rect x="297.10" y="6.00" width="52.20" height="48.10" fill="#fff" stroke="#444" stroke-width="0.6"/>
<clipPath id="c355"><rect x="297.10" y="6.00" width="52.20" height="48.10"/></clipPath>
<g clip-path="url(#c355)">
<path d="M297.10 25.70 L349.30 8.70" fill="none" stroke="#2a2aff" stroke-width="0.8" stroke-dasharray="1.9 1.1" stroke-linejoin="round"/>
<path d="M297.10 43.30 L349.30 23.80" fill="none" stroke="#ff20ff" stroke-width="0.8" stroke-linejoin="round"/>
<path d="M297.10 44.10 L349.30 27.60" fill="none" stroke="#ff1a1a" stroke-width="0.8" stroke-linejoin="round"/>
<path d="M297.10 44.70 L349.30 28.40" fill="none" stroke="#ff1a1a" stroke-width="0.8" stroke-dasharray="1.9 1.1" stroke-linejoin="round"/>
<rect x="322.55" y="33.55" width="2.11" height="2.11" fill="none" stroke="#ff1a1a" stroke-width="0.55"/>
<path d="M297.10 46.50 L349.30 30.60" fill="none" stroke="#3a3a3a" stroke-width="0.8" stroke-linejoin="round"/>
<circle cx="330.90" cy="36.00" r="1.12" fill="#3a3a3a"/>
</g>
<rect x="431.30" y="2.30" width="114.20" height="78.00" fill="none" stroke="#a4a4a4" stroke-width="0.85"/>
<path d="M431.30 80.30v-1.2M431.30 2.30v1.2" stroke="#a4a4a4" stroke-width="0.5"/>
<text x="431.30" y="86.00" font-size="4.3" text-anchor="middle" font-family="Liberation Serif, serif" fill="#3a3a3a">0.3</text>
<path d="M447.61 80.30v-1.2M447.61 2.30v1.2" stroke="#a4a4a4" stroke-width="0.5"/>
<text x="447.61" y="86.00" font-size="4.3" text-anchor="middle" font-family="Liberation Serif, serif" fill="#3a3a3a">0.4</text>
<path d="M463.93 80.30v-1.2M463.93 2.30v1.2" stroke="#a4a4a4" stroke-width="0.5"/>
<text x="463.93" y="86.00" font-size="4.3" text-anchor="middle" font-family="Liberation Serif, serif" fill="#3a3a3a">0.5</text>
<path d="M480.24 80.30v-1.2M480.24 2.30v1.2" stroke="#a4a4a4" stroke-width="0.5"/>
<text x="480.24" y="86.00" font-size="4.3" text-anchor="middle" font-family="Liberation Serif, serif" fill="#3a3a3a">0.6</text>
<path d="M496.56 80.30v-1.2M496.56 2.30v1.2" stroke="#a4a4a4" stroke-width="0.5"/>
<text x="496.56" y="86.00" font-size="4.3" text-anchor="middle" font-family="Liberation Serif, serif" fill="#3a3a3a">0.7</text>
<path d="M512.87 80.30v-1.2M512.87 2.30v1.2" stroke="#a4a4a4" stroke-width="0.5"/>
<text x="512.87" y="86.00" font-size="4.3" text-anchor="middle" font-family="Liberation Serif, serif" fill="#3a3a3a">0.8</text>
<path d="M529.19 80.30v-1.2M529.19 2.30v1.2" stroke="#a4a4a4" stroke-width="0.5"/>
<text x="529.19" y="86.00" font-size="4.3" text-anchor="middle" font-family="Liberation Serif, serif" fill="#3a3a3a">0.9</text>
<path d="M545.50 80.30v-1.2M545.50 2.30v1.2" stroke="#a4a4a4" stroke-width="0.5"/>
<text x="545.50" y="86.00" font-size="4.3" text-anchor="middle" font-family="Liberation Serif, serif" fill="#3a3a3a">1</text>
<path d="M431.30 80.30h1.2M545.50 80.30h-1.2" stroke="#a4a4a4" stroke-width="0.5"/>
<text x="430.10" y="82.20" font-size="4.3" text-anchor="end" font-family="Liberation Serif, serif" fill="#3a3a3a">0.1</text>
<path d="M431.30 69.16h1.2M545.50 69.16h-1.2" stroke="#a4a4a4" stroke-width="0.5"/>
<text x="430.10" y="71.06" font-size="4.3" text-anchor="end" font-family="Liberation Serif, serif" fill="#3a3a3a">0.2</text>
<path d="M431.30 58.01h1.2M545.50 58.01h-1.2" stroke="#a4a4a4" stroke-width="0.5"/>
<text x="430.10" y="59.91" font-size="4.3" text-anchor="end" font-family="Liberation Serif, serif" fill="#3a3a3a">0.3</text>
<path d="M431.30 46.87h1.2M545.50 46.87h-1.2" stroke="#a4a4a4" stroke-width="0.5"/>
<text x="430.10" y="48.77" font-size="4.3" text-anchor="end" font-family="Liberation Serif, serif" fill="#3a3a3a">0.4</text>
<path d="M431.30 35.73h1.2M545.50 35.73h-1.2" stroke="#a4a4a4" stroke-width="0.5"/>
<text x="430.10" y="37.63" font-size="4.3" text-anchor="end" font-family="Liberation Serif, serif" fill="#3a3a3a">0.5</text>
<path d="M431.30 24.59h1.2M545.50 24.59h-1.2" stroke="#a4a4a4" stroke-width="0.5"/>
<text x="430.10" y="26.49" font-size="4.3" text-anchor="end" font-family="Liberation Serif, serif" fill="#3a3a3a">0.6</text>
<path d="M431.30 13.44h1.2M545.50 13.44h-1.2" stroke="#a4a4a4" stroke-width="0.5"/>
<text x="430.10" y="15.34" font-size="4.3" text-anchor="end" font-family="Liberation Serif, serif" fill="#3a3a3a">0.7</text>
<path d="M431.30 2.30h1.2M545.50 2.30h-1.2" stroke="#a4a4a4" stroke-width="0.5"/>
<text x="430.10" y="4.20" font-size="4.3" text-anchor="end" font-family="Liberation Serif, serif" fill="#3a3a3a">0.8</text>
<text x="0" y="0" transform="translate(488.40,91.60) scale(0.86,1)" font-size="5.40" text-anchor="middle" font-family="Liberation Serif, serif" fill="#222">BR</text>
<text x="0" y="0" transform="translate(422.80,41.30) rotate(-90) scale(0.92,1)" font-size="5.40" text-anchor="middle" font-family="Liberation Serif, serif" fill="#222">CD</text>
<path d="M439.10 80.40 L453.00 76.00 L467.50 71.20 L480.50 66.10 L496.90 57.90 L506.00 52.50 L515.00 46.50 L522.00 41.50 L529.70 37.40" fill="none" stroke="#2a2aff" stroke-width="0.9" stroke-linejoin="round"/>
<circle cx="439.10" cy="80.40" r="1.12" fill="#2a2aff"/>
<circle cx="453.00" cy="76.00" r="1.12" fill="#2a2aff"/>
<circle cx="467.50" cy="71.20" r="1.12" fill="#2a2aff"/>
<circle cx="480.50" cy="66.10" r="1.12" fill="#2a2aff"/>
<circle cx="496.90" cy="57.90" r="1.12" fill="#2a2aff"/>
<circle cx="506.00" cy="52.50" r="1.12" fill="#2a2aff"/>
<circle cx="515.00" cy="46.50" r="1.12" fill="#2a2aff"/>
<circle cx="522.00" cy="41.50" r="1.12" fill="#2a2aff"/>
<circle cx="529.70" cy="37.40" r="1.12" fill="#2a2aff"/>
<path d="M485.00 63.00 L495.00 57.50 L505.00 51.00 L515.00 45.00 L525.00 39.00" fill="none" stroke="#2a2aff" stroke-width="0.9" stroke-dasharray="1.9 1.1" stroke-linejoin="round"/>
<path d="M475.40 74.30 L487.00 69.50 L498.90 63.00 L510.00 57.00 L520.00 49.00 L527.60 41.50" fill="none" stroke="#ff20ff" stroke-width="0.9" stroke-linejoin="round"/>
<path d="M475.40 72.84L476.57 74.30L475.40 75.76L474.23 74.30Z" fill="#ff20ff"/>
<path d="M487.00 68.04L488.17 69.50L487.00 70.96L485.83 69.50Z" fill="#ff20ff"/>
<path d="M498.90 61.54L500.07 63.00L498.90 64.46L497.73 63.00Z" fill="#ff20ff"/>
<path d="M510.00 55.54L511.17 57.00L510.00 58.46L508.83 57.00Z" fill="#ff20ff"/>
<path d="M520.00 47.54L521.17 49.00L520.00 50.46L518.83 49.00Z" fill="#ff20ff"/>
<path d="M527.60 40.04L528.77 41.50L527.60 42.96L526.43 41.50Z" fill="#ff20ff"/>
<path d="M468.90 75.00 L480.00 71.00 L492.00 66.00 L502.00 61.00 L512.00 56.50 L520.30 52.80" fill="none" stroke="#ff1a1a" stroke-width="0.9" stroke-linejoin="round"/>
<circle cx="468.90" cy="75.00" r="1.26" fill="#ff1a1a"/>
<circle cx="480.00" cy="71.00" r="1.26" fill="#ff1a1a"/>
<circle cx="492.00" cy="66.00" r="1.26" fill="#ff1a1a"/>
<circle cx="502.00" cy="61.00" r="1.26" fill="#ff1a1a"/>
<circle cx="512.00" cy="56.50" r="1.26" fill="#ff1a1a"/>
<circle cx="520.30" cy="52.80" r="1.26" fill="#ff1a1a"/>
<path d="M480.00 70.00 L492.00 65.00 L503.00 60.00 L515.00 54.00" fill="none" stroke="#ff1a1a" stroke-width="0.9" stroke-dasharray="1.9 1.1" stroke-linejoin="round"/>
<path d="M488.70 70.20 L502.00 64.00 L509.20 60.00 L519.40 52.80 L525.60 47.70 L529.70 44.60 L534.80 38.40" fill="none" stroke="#3a3a3a" stroke-width="0.9" stroke-linejoin="round"/>
<circle cx="488.70" cy="70.20" r="1.53" fill="#3a3a3a"/>
<circle cx="502.00" cy="64.00" r="1.53" fill="#3a3a3a"/>
<circle cx="509.20" cy="60.00" r="1.53" fill="#3a3a3a"/>
<circle cx="519.40" cy="52.80" r="1.53" fill="#3a3a3a"/>
<circle cx="525.60" cy="47.70" r="1.53" fill="#3a3a3a"/>
<circle cx="529.70" cy="44.60" r="1.53" fill="#3a3a3a"/>
<circle cx="534.80" cy="38.40" r="1.53" fill="#3a3a3a"/>
<path d="M495.00 67.00 L505.00 62.00 L515.00 56.00 L525.00 48.00 L532.00 41.00" fill="none" stroke="#000000" stroke-width="0.9" stroke-dasharray="1.9 1.1" stroke-linejoin="round"/>
<path d="M510.30 38.70 L518.00 32.00 L525.70 27.10 L532.00 22.00 L540.60 12.20" fill="none" stroke="#00e000" stroke-width="0.9" stroke-linejoin="round"/>
<circle cx="510.30" cy="38.70" r="1.26" fill="#00e000"/>
<circle cx="518.00" cy="32.00" r="1.26" fill="#00e000"/>
<circle cx="525.70" cy="27.10" r="1.26" fill="#00e000"/>
<circle cx="532.00" cy="22.00" r="1.26" fill="#00e000"/>
<circle cx="540.60" cy="12.20" r="1.26" fill="#00e000"/>
<path d="M506.80 48.70 L520.00 38.00 L531.00 29.00 L537.00 21.00 L542.00 13.00" fill="none" stroke="#b04c14" stroke-width="0.9" stroke-linejoin="round"/>
<circle cx="506.80" cy="48.70" r="1.26" fill="#b04c14"/>
<circle cx="520.00" cy="38.00" r="1.26" fill="#b04c14"/>
<circle cx="531.00" cy="29.00" r="1.26" fill="#b04c14"/>
<circle cx="537.00" cy="21.00" r="1.26" fill="#b04c14"/>
<circle cx="542.00" cy="13.00" r="1.26" fill="#b04c14"/>
<rect x="488.60" y="55.50" width="11.40" height="15.40" fill="none" stroke="#555" stroke-width="0.5"/>
<rect x="435.10" y="5.40" width="45.20" height="50.10" fill="#fff" stroke="#444" stroke-width="0.6"/>
<clipPath id="c449"><rect x="435.10" y="5.40" width="45.20" height="50.10"/></clipPath>
<g clip-path="url(#c449)">
<path d="M435.10 23.80 L480.30 6.00" fill="none" stroke="#2a2aff" stroke-width="0.8" stroke-linejoin="round"/>
<circle cx="447.20" cy="19.50" r="1.12" fill="#2a2aff"/>
<path d="M435.10 42.80 L480.30 24.90" fill="none" stroke="#ff20ff" stroke-width="0.8" stroke-linejoin="round"/>
<path d="M473.80 25.80L474.84 27.10L473.80 28.40L472.76 27.10Z" fill="#ff20ff"/>
<path d="M435.10 44.10 L480.30 31.10" fill="none" stroke="#ff1a1a" stroke-width="0.8" stroke-linejoin="round"/>
<circle cx="469.00" cy="33.50" r="1.12" fill="#ff1a1a"/>
<path d="M435.10 45.50 L480.30 29.50" fill="none" stroke="#ff1a1a" stroke-width="0.8" stroke-dasharray="1.9 1.1" stroke-linejoin="round"/>
<rect x="469.95" y="29.45" width="2.11" height="2.11" fill="none" stroke="#ff1a1a" stroke-width="0.55"/>
<path d="M435.10 47.40 L480.30 33.80" fill="none" stroke="#000000" stroke-width="0.8" stroke-dasharray="1.9 1.1" stroke-linejoin="round"/>
<path d="M435.10 51.40 L480.30 37.30" fill="none" stroke="#3a3a3a" stroke-width="0.8" stroke-linejoin="round"/>
</g>
<rect x="570.30" y="2.30" width="113.70" height="78.00" fill="none" stroke="#a4a4a4" stroke-width="0.85"/>
<path d="M570.30 80.30v-1.2M570.30 2.30v1.2" stroke="#a4a4a4" stroke-width="0.5"/>
<text x="570.30" y="86.00" font-size="4.3" text-anchor="middle" font-family="Liberation Serif, serif" fill="#3a3a3a">0.3</text>
<path d="M586.54 80.30v-1.2M586.54 2.30v1.2" stroke="#a4a4a4" stroke-width="0.5"/>
<text x="586.54" y="86.00" font-size="4.3" text-anchor="middle" font-family="Liberation Serif, serif" fill="#3a3a3a">0.4</text>
<path d="M602.79 80.30v-1.2M602.79 2.30v1.2" stroke="#a4a4a4" stroke-width="0.5"/>
<text x="602.79" y="86.00" font-size="4.3" text-anchor="middle" font-family="Liberation Serif, serif" fill="#3a3a3a">0.5</text>
<path d="M619.03 80.30v-1.2M619.03 2.30v1.2" stroke="#a4a4a4" stroke-width="0.5"/>
<text x="619.03" y="86.00" font-size="4.3" text-anchor="middle" font-family="Liberation Serif, serif" fill="#3a3a3a">0.6</text>
<path d="M635.27 80.30v-1.2M635.27 2.30v1.2" stroke="#a4a4a4" stroke-width="0.5"/>
<text x="635.27" y="86.00" font-size="4.3" text-anchor="middle" font-family="Liberation Serif, serif" fill="#3a3a3a">0.7</text>
<path d="M651.51 80.30v-1.2M651.51 2.30v1.2" stroke="#a4a4a4" stroke-width="0.5"/>
<text x="651.51" y="86.00" font-size="4.3" text-anchor="middle" font-family="Liberation Serif, serif" fill="#3a3a3a">0.8</text>
<path d="M667.76 80.30v-1.2M667.76 2.30v1.2" stroke="#a4a4a4" stroke-width="0.5"/>
<text x="667.76" y="86.00" font-size="4.3" text-anchor="middle" font-family="Liberation Serif, serif" fill="#3a3a3a">0.9</text>
<path d="M684.00 80.30v-1.2M684.00 2.30v1.2" stroke="#a4a4a4" stroke-width="0.5"/>
<text x="684.00" y="86.00" font-size="4.3" text-anchor="middle" font-family="Liberation Serif, serif" fill="#3a3a3a">1</text>
<path d="M570.30 80.30h1.2M684.00 80.30h-1.2" stroke="#a4a4a4" stroke-width="0.5"/>
<text x="569.10" y="82.20" font-size="4.3" text-anchor="end" font-family="Liberation Serif, serif" fill="#3a3a3a">0.1</text>
<path d="M570.30 70.55h1.2M684.00 70.55h-1.2" stroke="#a4a4a4" stroke-width="0.5"/>
<text x="569.10" y="72.45" font-size="4.3" text-anchor="end" font-family="Liberation Serif, serif" fill="#3a3a3a">0.2</text>
<path d="M570.30 60.80h1.2M684.00 60.80h-1.2" stroke="#a4a4a4" stroke-width="0.5"/>
<text x="569.10" y="62.70" font-size="4.3" text-anchor="end" font-family="Liberation Serif, serif" fill="#3a3a3a">0.3</text>
<path d="M570.30 51.05h1.2M684.00 51.05h-1.2" stroke="#a4a4a4" stroke-width="0.5"/>
<text x="569.10" y="52.95" font-size="4.3" text-anchor="end" font-family="Liberation Serif, serif" fill="#3a3a3a">0.4</text>
<path d="M570.30 41.30h1.2M684.00 41.30h-1.2" stroke="#a4a4a4" stroke-width="0.5"/>
<text x="569.10" y="43.20" font-size="4.3" text-anchor="end" font-family="Liberation Serif, serif" fill="#3a3a3a">0.5</text>
<path d="M570.30 31.55h1.2M684.00 31.55h-1.2" stroke="#a4a4a4" stroke-width="0.5"/>
<text x="569.10" y="33.45" font-size="4.3" text-anchor="end" font-family="Liberation Serif, serif" fill="#3a3a3a">0.6</text>
<path d="M570.30 21.80h1.2M684.00 21.80h-1.2" stroke="#a4a4a4" stroke-width="0.5"/>
<text x="569.10" y="23.70" font-size="4.3" text-anchor="end" font-family="Liberation Serif, serif" fill="#3a3a3a">0.7</text>
<path d="M570.30 12.05h1.2M684.00 12.05h-1.2" stroke="#a4a4a4" stroke-width="0.5"/>
<text x="569.10" y="13.95" font-size="4.3" text-anchor="end" font-family="Liberation Serif, serif" fill="#3a3a3a">0.8</text>
<path d="M570.30 2.30h1.2M684.00 2.30h-1.2" stroke="#a4a4a4" stroke-width="0.5"/>
<text x="569.10" y="4.20" font-size="4.3" text-anchor="end" font-family="Liberation Serif, serif" fill="#3a3a3a">0.9</text>
<text x="0" y="0" transform="translate(627.15,91.60) scale(0.86,1)" font-size="5.40" text-anchor="middle" font-family="Liberation Serif, serif" fill="#222">BR</text>
<text x="0" y="0" transform="translate(561.80,41.30) rotate(-90) scale(0.92,1)" font-size="5.40" text-anchor="middle" font-family="Liberation Serif, serif" fill="#222">CD</text>
<path d="M577.60 80.40 L589.00 77.00 L605.20 70.90 L617.00 66.00 L630.00 60.00 L645.00 54.00 L660.00 47.00 L672.80 40.60" fill="none" stroke="#2a2aff" stroke-width="0.9" stroke-linejoin="round"/>
<circle cx="577.60" cy="80.40" r="1.12" fill="#2a2aff"/>
<circle cx="589.00" cy="77.00" r="1.12" fill="#2a2aff"/>
<circle cx="605.20" cy="70.90" r="1.12" fill="#2a2aff"/>
<circle cx="617.00" cy="66.00" r="1.12" fill="#2a2aff"/>
<circle cx="630.00" cy="60.00" r="1.12" fill="#2a2aff"/>
<circle cx="645.00" cy="54.00" r="1.12" fill="#2a2aff"/>
<circle cx="660.00" cy="47.00" r="1.12" fill="#2a2aff"/>
<circle cx="672.80" cy="40.60" r="1.12" fill="#2a2aff"/>
<path d="M590.00 76.00 L605.00 70.00 L617.00 65.50 L630.00 59.00 L645.00 53.00 L660.00 46.00 L672.00 39.00" fill="none" stroke="#ff20ff" stroke-width="0.9" stroke-linejoin="round"/>
<path d="M590.00 74.54L591.17 76.00L590.00 77.46L588.83 76.00Z" fill="#ff20ff"/>
<path d="M605.00 68.54L606.17 70.00L605.00 71.46L603.83 70.00Z" fill="#ff20ff"/>
<path d="M617.00 64.04L618.17 65.50L617.00 66.96L615.83 65.50Z" fill="#ff20ff"/>
<path d="M630.00 57.54L631.17 59.00L630.00 60.46L628.83 59.00Z" fill="#ff20ff"/>
<path d="M645.00 51.54L646.17 53.00L645.00 54.46L643.83 53.00Z" fill="#ff20ff"/>
<path d="M660.00 44.54L661.17 46.00L660.00 47.46L658.83 46.00Z" fill="#ff20ff"/>
<path d="M672.00 37.54L673.17 39.00L672.00 40.46L670.83 39.00Z" fill="#ff20ff"/>
<path d="M620.00 67.00 L635.00 60.00 L650.00 52.00 L662.00 45.00 L671.00 39.00" fill="none" stroke="#00e000" stroke-width="0.9" stroke-linejoin="round"/>
<circle cx="620.00" cy="67.00" r="1.26" fill="#00e000"/>
<circle cx="635.00" cy="60.00" r="1.26" fill="#00e000"/>
<circle cx="650.00" cy="52.00" r="1.26" fill="#00e000"/>
<circle cx="662.00" cy="45.00" r="1.26" fill="#00e000"/>
<circle cx="671.00" cy="39.00" r="1.26" fill="#00e000"/>
<path d="M625.00 64.00 L640.00 57.00 L655.00 49.00 L668.00 41.00" fill="none" stroke="#2a2aff" stroke-width="0.9" stroke-dasharray="1.9 1.1" stroke-linejoin="round"/>
<path d="M624.10 59.00 L639.00 53.30 L648.50 48.70 L656.60 44.70 L666.00 38.40 L674.20 33.80" fill="none" stroke="#ff1a1a" stroke-width="0.9" stroke-linejoin="round"/>
<circle cx="624.10" cy="59.00" r="1.40" fill="#ff1a1a"/>
<circle cx="639.00" cy="53.30" r="1.40" fill="#ff1a1a"/>
<circle cx="648.50" cy="48.70" r="1.40" fill="#ff1a1a"/>
<circle cx="656.60" cy="44.70" r="1.40" fill="#ff1a1a"/>
<circle cx="666.00" cy="38.40" r="1.40" fill="#ff1a1a"/>
<circle cx="674.20" cy="33.80" r="1.40" fill="#ff1a1a"/>
<path d="M640.00 55.00 L652.00 48.00 L664.00 41.00 L674.00 35.00" fill="none" stroke="#ff1a1a" stroke-width="0.9" stroke-dasharray="1.9 1.1" stroke-linejoin="round"/>
<path d="M622.60 70.30 L636.50 65.00 L644.70 61.10 L652.30 56.10 L657.30 53.80 L662.90 49.50 L667.20 47.20 L672.80 41.90" fill="none" stroke="#3a3a3a" stroke-width="0.9" stroke-linejoin="round"/>
<circle cx="622.60" cy="70.30" r="1.40" fill="#3a3a3a"/>
<circle cx="636.50" cy="65.00" r="1.40" fill="#3a3a3a"/>
<circle cx="644.70" cy="61.10" r="1.40" fill="#3a3a3a"/>
<circle cx="652.30" cy="56.10" r="1.40" fill="#3a3a3a"/>
<circle cx="657.30" cy="53.80" r="1.40" fill="#3a3a3a"/>
<circle cx="662.90" cy="49.50" r="1.40" fill="#3a3a3a"/>
<circle cx="667.20" cy="47.20" r="1.40" fill="#3a3a3a"/>
<circle cx="672.80" cy="41.90" r="1.40" fill="#3a3a3a"/>
<path d="M630.00 64.00 L640.00 59.50 L650.00 54.00 L660.00 48.50 L668.00 44.50 L672.50 42.50" fill="none" stroke="#000000" stroke-width="0.9" stroke-dasharray="1.9 1.1" stroke-linejoin="round"/>
<path d="M630.00 62.37L631.30 64.00L630.00 65.63L628.70 64.00Z" fill="none" stroke="#000000" stroke-width="0.6"/>
<path d="M640.00 57.87L641.30 59.50L640.00 61.13L638.70 59.50Z" fill="none" stroke="#000000" stroke-width="0.6"/>
<path d="M650.00 52.37L651.30 54.00L650.00 55.63L648.70 54.00Z" fill="none" stroke="#000000" stroke-width="0.6"/>
<path d="M660.00 46.87L661.30 48.50L660.00 50.13L658.70 48.50Z" fill="none" stroke="#000000" stroke-width="0.6"/>
<path d="M668.00 42.87L669.30 44.50L668.00 46.13L666.70 44.50Z" fill="none" stroke="#000000" stroke-width="0.6"/>
<path d="M672.50 40.87L673.80 42.50L672.50 44.13L671.20 42.50Z" fill="none" stroke="#000000" stroke-width="0.6"/>
<path d="M662.00 31.90 L671.50 24.90 L678.30 16.80 L683.10 9.50" fill="none" stroke="#b04c14" stroke-width="0.9" stroke-linejoin="round"/>
<circle cx="662.00" cy="31.90" r="1.26" fill="#b04c14"/>
<circle cx="671.50" cy="24.90" r="1.26" fill="#b04c14"/>
<circle cx="678.30" cy="16.80" r="1.26" fill="#b04c14"/>
<circle cx="683.10" cy="9.50" r="1.26" fill="#b04c14"/>
<rect x="628.20" y="51.40" width="11.60" height="17.60" fill="none" stroke="#555" stroke-width="0.5"/>
<rect x="574.10" y="4.90" width="40.60" height="57.90" fill="#fff" stroke="#444" stroke-width="0.6"/>
<clipPath id="c554"><rect x="574.10" y="4.90" width="40.60" height="57.90"/></clipPath>
<g clip-path="url(#c554)">
<path d="M574.10 21.70 L614.70 5.40" fill="none" stroke="#ff1a1a" stroke-width="0.8" stroke-linejoin="round"/>
<path d="M574.10 37.90 L614.70 19.50" fill="none" stroke="#ff20ff" stroke-width="0.8" stroke-linejoin="round"/>
<path d="M595.20 27.70L596.24 29.00L595.20 30.30L594.16 29.00Z" fill="#ff20ff"/>
<path d="M574.10 44.70 L614.70 26.30" fill="none" stroke="#00e000" stroke-width="0.8" stroke-linejoin="round"/>
<circle cx="586.20" cy="38.70" r="1.12" fill="#00e000"/>
<path d="M574.10 46.00 L614.70 29.00" fill="none" stroke="#2a2aff" stroke-width="0.8" stroke-linejoin="round"/>
<path d="M574.10 57.40 L614.70 43.30" fill="none" stroke="#000000" stroke-width="0.8" stroke-dasharray="1.9 1.1" stroke-linejoin="round"/>
<path d="M609.20 42.00L610.24 43.30L609.20 44.60L608.16 43.30Z" fill="none" stroke="#000000" stroke-width="0.6"/>
<path d="M574.10 61.70 L614.70 45.50" fill="none" stroke="#3a3a3a" stroke-width="0.8" stroke-linejoin="round"/>
</g>
<circle cx="614.70" cy="5.40" r="1.12" fill="#ff1a1a"/>
<path d="M613.30 18.20L614.34 19.50L613.30 20.80L612.26 19.50Z" fill="#ff20ff"/>
<circle cx="614.70" cy="45.50" r="1.12" fill="#3a3a3a"/>
<rect x="708.20" y="2.30" width="114.50" height="74.70" fill="none" stroke="#a4a4a4" stroke-width="0.85"/>
<path d="M708.20 77.00v-1.2M708.20 2.30v1.2" stroke="#a4a4a4" stroke-width="0.5"/>
<text x="708.20" y="82.70" font-size="4.3" text-anchor="middle" font-family="Liberation Serif, serif" fill="#3a3a3a">100</text>
<path d="M720.92 77.00v-1.2M720.92 2.30v1.2" stroke="#a4a4a4" stroke-width="0.5"/>
<text x="720.92" y="82.70" font-size="4.3" text-anchor="middle" font-family="Liberation Serif, serif" fill="#3a3a3a">200</text>
<path d="M733.64 77.00v-1.2M733.64 2.30v1.2" stroke="#a4a4a4" stroke-width="0.5"/>
<text x="733.64" y="82.70" font-size="4.3" text-anchor="middle" font-family="Liberation Serif, serif" fill="#3a3a3a">300</text>
<path d="M746.37 77.00v-1.2M746.37 2.30v1.2" stroke="#a4a4a4" stroke-width="0.5"/>
<text x="746.37" y="82.70" font-size="4.3" text-anchor="middle" font-family="Liberation Serif, serif" fill="#3a3a3a">400</text>
<path d="M759.09 77.00v-1.2M759.09 2.30v1.2" stroke="#a4a4a4" stroke-width="0.5"/>
<text x="759.09" y="82.70" font-size="4.3" text-anchor="middle" font-family="Liberation Serif, serif" fill="#3a3a3a">500</text>
<path d="M771.81 77.00v-1.2M771.81 2.30v1.2" stroke="#a4a4a4" stroke-width="0.5"/>
<text x="771.81" y="82.70" font-size="4.3" text-anchor="middle" font-family="Liberation Serif, serif" fill="#3a3a3a">600</text>
<path d="M784.53 77.00v-1.2M784.53 2.30v1.2" stroke="#a4a4a4" stroke-width="0.5"/>
<text x="784.53" y="82.70" font-size="4.3" text-anchor="middle" font-family="Liberation Serif, serif" fill="#3a3a3a">700</text>
<path d="M797.26 77.00v-1.2M797.26 2.30v1.2" stroke="#a4a4a4" stroke-width="0.5"/>
<text x="797.26" y="82.70" font-size="4.3" text-anchor="middle" font-family="Liberation Serif, serif" fill="#3a3a3a">800</text>
<path d="M809.98 77.00v-1.2M809.98 2.30v1.2" stroke="#a4a4a4" stroke-width="0.5"/>
<text x="809.98" y="82.70" font-size="4.3" text-anchor="middle" font-family="Liberation Serif, serif" fill="#3a3a3a">900</text>
<path d="M822.70 77.00v-1.2M822.70 2.30v1.2" stroke="#a4a4a4" stroke-width="0.5"/>
<text x="822.70" y="82.70" font-size="4.3" text-anchor="middle" font-family="Liberation Serif, serif" fill="#3a3a3a">1000</text>
<path d="M708.20 77.00h1.2M822.70 77.00h-1.2" stroke="#a4a4a4" stroke-width="0.5"/>
<text x="707.00" y="78.90" font-size="4.3" text-anchor="end" font-family="Liberation Serif, serif" fill="#3a3a3a">0</text>
<path d="M708.20 64.55h1.2M822.70 64.55h-1.2" stroke="#a4a4a4" stroke-width="0.5"/>
<text x="707.00" y="66.45" font-size="4.3" text-anchor="end" font-family="Liberation Serif, serif" fill="#3a3a3a">100</text>
<path d="M708.20 52.10h1.2M822.70 52.10h-1.2" stroke="#a4a4a4" stroke-width="0.5"/>
<text x="707.00" y="54.00" font-size="4.3" text-anchor="end" font-family="Liberation Serif, serif" fill="#3a3a3a">200</text>
<path d="M708.20 39.65h1.2M822.70 39.65h-1.2" stroke="#a4a4a4" stroke-width="0.5"/>
<text x="707.00" y="41.55" font-size="4.3" text-anchor="end" font-family="Liberation Serif, serif" fill="#3a3a3a">300</text>
<path d="M708.20 27.20h1.2M822.70 27.20h-1.2" stroke="#a4a4a4" stroke-width="0.5"/>
<text x="707.00" y="29.10" font-size="4.3" text-anchor="end" font-family="Liberation Serif, serif" fill="#3a3a3a">400</text>
<path d="M708.20 14.75h1.2M822.70 14.75h-1.2" stroke="#a4a4a4" stroke-width="0.5"/>
<text x="707.00" y="16.65" font-size="4.3" text-anchor="end" font-family="Liberation Serif, serif" fill="#3a3a3a">500</text>
<path d="M708.20 2.30h1.2M822.70 2.30h-1.2" stroke="#a4a4a4" stroke-width="0.5"/>
<text x="707.00" y="4.20" font-size="4.3" text-anchor="end" font-family="Liberation Serif, serif" fill="#3a3a3a">600</text>
<text x="0" y="0" transform="translate(765.45,88.30) scale(0.86,1)" font-size="5.40" text-anchor="middle" font-family="Liberation Serif, serif" fill="#222">Number of superpixels</text>
<text x="0" y="0" transform="translate(700.40,39.65) rotate(-90) scale(0.92,1)" font-size="5.40" text-anchor="middle" font-family="Liberation Serif, serif" fill="#222">VSN</text>
<path d="M708.20 75.26 L720.92 69.90 L733.64 71.02 L746.37 59.07 L759.09 64.55 L771.81 48.24 L797.26 52.85 L822.70 10.77" fill="none" stroke="#00e000" stroke-width="0.9" stroke-linejoin="round"/>
<circle cx="708.20" cy="75.26" r="1.12" fill="#00e000"/>
<circle cx="720.92" cy="69.90" r="1.12" fill="#00e000"/>
<circle cx="733.64" cy="71.02" r="1.12" fill="#00e000"/>
<circle cx="746.37" cy="59.07" r="1.12" fill="#00e000"/>
<circle cx="759.09" cy="64.55" r="1.12" fill="#00e000"/>
<circle cx="771.81" cy="48.24" r="1.12" fill="#00e000"/>
<circle cx="797.26" cy="52.85" r="1.12" fill="#00e000"/>
<circle cx="822.70" cy="10.77" r="1.12" fill="#00e000"/>
<path d="M708.20 75.26 L720.92 72.64 L733.64 68.28 L746.37 63.06 L759.09 59.07 L771.81 50.86 L797.26 39.77 L822.70 28.94" fill="none" stroke="#2a2aff" stroke-width="0.9" stroke-linejoin="round"/>
<circle cx="708.20" cy="75.26" r="1.12" fill="#2a2aff"/>
<circle cx="720.92" cy="72.64" r="1.12" fill="#2a2aff"/>
<circle cx="733.64" cy="68.28" r="1.12" fill="#2a2aff"/>
<circle cx="746.37" cy="63.06" r="1.12" fill="#2a2aff"/>
<circle cx="759.09" cy="59.07" r="1.12" fill="#2a2aff"/>
<circle cx="771.81" cy="50.86" r="1.12" fill="#2a2aff"/>
<circle cx="797.26" cy="39.77" r="1.12" fill="#2a2aff"/>
<circle cx="822.70" cy="28.94" r="1.12" fill="#2a2aff"/>
<path d="M708.20 76.75 L720.92 73.64 L733.64 76.38 L746.37 69.16 L759.09 75.88 L771.81 65.05 L797.26 75.88 L822.70 67.16" fill="none" stroke="#ff1a1a" stroke-width="0.9" stroke-linejoin="round"/>
<circle cx="708.20" cy="76.75" r="1.12" fill="#ff1a1a"/>
<circle cx="720.92" cy="73.64" r="1.12" fill="#ff1a1a"/>
<circle cx="733.64" cy="76.38" r="1.12" fill="#ff1a1a"/>
<circle cx="746.37" cy="69.16" r="1.12" fill="#ff1a1a"/>
<circle cx="759.09" cy="75.88" r="1.12" fill="#ff1a1a"/>
<circle cx="771.81" cy="65.05" r="1.12" fill="#ff1a1a"/>
<circle cx="797.26" cy="75.88" r="1.12" fill="#ff1a1a"/>
<circle cx="822.70" cy="67.16" r="1.12" fill="#ff1a1a"/>
<path d="M708.20 76.75 L720.92 77.00 L733.64 75.88 L746.37 74.51 L759.09 75.26 L771.81 72.39 L797.26 70.65 L822.70 73.64" fill="none" stroke="#3a3a3a" stroke-width="0.9" stroke-linejoin="round"/>
<circle cx="708.20" cy="76.75" r="1.12" fill="#3a3a3a"/>
<circle cx="720.92" cy="77.00" r="1.12" fill="#3a3a3a"/>
<circle cx="733.64" cy="75.88" r="1.12" fill="#3a3a3a"/>
<circle cx="746.37" cy="74.51" r="1.12" fill="#3a3a3a"/>
<circle cx="759.09" cy="75.26" r="1.12" fill="#3a3a3a"/>
<circle cx="771.81" cy="72.39" r="1.12" fill="#3a3a3a"/>
<circle cx="797.26" cy="70.65" r="1.12" fill="#3a3a3a"/>
<circle cx="822.70" cy="73.64" r="1.12" fill="#3a3a3a"/>
<path d="M708.20 77.00 L720.92 77.00 L733.64 77.00 L746.37 77.00 L759.09 77.00 L771.81 77.00 L797.26 77.00 L822.70 77.00" fill="none" stroke="#ff20ff" stroke-width="0.9" stroke-linejoin="round"/>
<path d="M708.20 75.70L709.24 77.00L708.20 78.30L707.16 77.00Z" fill="#ff20ff"/>
<path d="M720.92 75.70L721.96 77.00L720.92 78.30L719.88 77.00Z" fill="#ff20ff"/>
<path d="M733.64 75.70L734.69 77.00L733.64 78.30L732.60 77.00Z" fill="#ff20ff"/>
<path d="M746.37 75.70L747.41 77.00L746.37 78.30L745.33 77.00Z" fill="#ff20ff"/>
<path d="M759.09 75.70L760.13 77.00L759.09 78.30L758.05 77.00Z" fill="#ff20ff"/>
<path d="M771.81 75.70L772.85 77.00L771.81 78.30L770.77 77.00Z" fill="#ff20ff"/>
<path d="M797.26 75.70L798.30 77.00L797.26 78.30L796.21 77.00Z" fill="#ff20ff"/>
<path d="M822.70 75.70L823.74 77.00L822.70 78.30L821.66 77.00Z" fill="#ff20ff"/>
<rect x="16.50" y="99.60" width="114.30" height="78.90" fill="none" stroke="#a4a4a4" stroke-width="0.85"/>
<path d="M16.50 178.50v-1.2M16.50 99.60v1.2" stroke="#a4a4a4" stroke-width="0.5"/>
<text x="16.50" y="184.20" font-size="4.3" text-anchor="middle" font-family="Liberation Serif, serif" fill="#3a3a3a">100</text>
<path d="M29.20 178.50v-1.2M29.20 99.60v1.2" stroke="#a4a4a4" stroke-width="0.5"/>
<text x="29.20" y="184.20" font-size="4.3" text-anchor="middle" font-family="Liberation Serif, serif" fill="#3a3a3a">200</text>
<path d="M41.90 178.50v-1.2M41.90 99.60v1.2" stroke="#a4a4a4" stroke-width="0.5"/>
<text x="41.90" y="184.20" font-size="4.3" text-anchor="middle" font-family="Liberation Serif, serif" fill="#3a3a3a">300</text>
<path d="M54.60 178.50v-1.2M54.60 99.60v1.2" stroke="#a4a4a4" stroke-width="0.5"/>
<text x="54.60" y="184.20" font-size="4.3" text-anchor="middle" font-family="Liberation Serif, serif" fill="#3a3a3a">400</text>
<path d="M67.30 178.50v-1.2M67.30 99.60v1.2" stroke="#a4a4a4" stroke-width="0.5"/>
<text x="67.30" y="184.20" font-size="4.3" text-anchor="middle" font-family="Liberation Serif, serif" fill="#3a3a3a">500</text>
<path d="M80.00 178.50v-1.2M80.00 99.60v1.2" stroke="#a4a4a4" stroke-width="0.5"/>
<text x="80.00" y="184.20" font-size="4.3" text-anchor="middle" font-family="Liberation Serif, serif" fill="#3a3a3a">600</text>
<path d="M92.70 178.50v-1.2M92.70 99.60v1.2" stroke="#a4a4a4" stroke-width="0.5"/>
<text x="92.70" y="184.20" font-size="4.3" text-anchor="middle" font-family="Liberation Serif, serif" fill="#3a3a3a">700</text>
<path d="M105.40 178.50v-1.2M105.40 99.60v1.2" stroke="#a4a4a4" stroke-width="0.5"/>
<text x="105.40" y="184.20" font-size="4.3" text-anchor="middle" font-family="Liberation Serif, serif" fill="#3a3a3a">800</text>
<path d="M118.10 178.50v-1.2M118.10 99.60v1.2" stroke="#a4a4a4" stroke-width="0.5"/>
<text x="118.10" y="184.20" font-size="4.3" text-anchor="middle" font-family="Liberation Serif, serif" fill="#3a3a3a">900</text>
<path d="M130.80 178.50v-1.2M130.80 99.60v1.2" stroke="#a4a4a4" stroke-width="0.5"/>
<text x="130.80" y="184.20" font-size="4.3" text-anchor="middle" font-family="Liberation Serif, serif" fill="#3a3a3a">1000</text>
<path d="M16.50 178.50h1.2M130.80 178.50h-1.2" stroke="#a4a4a4" stroke-width="0.5"/>
<text x="15.30" y="180.40" font-size="4.3" text-anchor="end" font-family="Liberation Serif, serif" fill="#3a3a3a">0.2</text>
<path d="M16.50 168.64h1.2M130.80 168.64h-1.2" stroke="#a4a4a4" stroke-width="0.5"/>
<text x="15.30" y="170.54" font-size="4.3" text-anchor="end" font-family="Liberation Serif, serif" fill="#3a3a3a">0.25</text>
<path d="M16.50 158.78h1.2M130.80 158.78h-1.2" stroke="#a4a4a4" stroke-width="0.5"/>
<text x="15.30" y="160.68" font-size="4.3" text-anchor="end" font-family="Liberation Serif, serif" fill="#3a3a3a">0.3</text>
<path d="M16.50 148.91h1.2M130.80 148.91h-1.2" stroke="#a4a4a4" stroke-width="0.5"/>
<text x="15.30" y="150.81" font-size="4.3" text-anchor="end" font-family="Liberation Serif, serif" fill="#3a3a3a">0.35</text>
<path d="M16.50 139.05h1.2M130.80 139.05h-1.2" stroke="#a4a4a4" stroke-width="0.5"/>
<text x="15.30" y="140.95" font-size="4.3" text-anchor="end" font-family="Liberation Serif, serif" fill="#3a3a3a">0.4</text>
<path d="M16.50 129.19h1.2M130.80 129.19h-1.2" stroke="#a4a4a4" stroke-width="0.5"/>
<text x="15.30" y="131.09" font-size="4.3" text-anchor="end" font-family="Liberation Serif, serif" fill="#3a3a3a">0.45</text>
<path d="M16.50 119.32h1.2M130.80 119.32h-1.2" stroke="#a4a4a4" stroke-width="0.5"/>
<text x="15.30" y="121.22" font-size="4.3" text-anchor="end" font-family="Liberation Serif, serif" fill="#3a3a3a">0.5</text>
<path d="M16.50 109.46h1.2M130.80 109.46h-1.2" stroke="#a4a4a4" stroke-width="0.5"/>
<text x="15.30" y="111.36" font-size="4.3" text-anchor="end" font-family="Liberation Serif, serif" fill="#3a3a3a">0.55</text>
<path d="M16.50 99.60h1.2M130.80 99.60h-1.2" stroke="#a4a4a4" stroke-width="0.5"/>
<text x="15.30" y="101.50" font-size="4.3" text-anchor="end" font-family="Liberation Serif, serif" fill="#3a3a3a">0.6</text>
<text x="0" y="0" transform="translate(73.65,189.80) scale(0.86,1)" font-size="5.40" text-anchor="middle" font-family="Liberation Serif, serif" fill="#222">Number of superpixels</text>
<text x="0" y="0" transform="translate(6.70,139.05) rotate(-90) scale(0.92,1)" font-size="5.40" text-anchor="middle" font-family="Liberation Serif, serif" fill="#222">UE</text>
<path d="M16.50 103.94 L29.20 129.58 L41.90 142.60 L54.60 150.49 L67.30 154.44 L80.00 160.35 L105.40 167.85 L130.80 174.56" fill="none" stroke="#ff1a1a" stroke-width="0.9" stroke-linejoin="round"/>
<circle cx="16.50" cy="103.94" r="1.40" fill="#ff1a1a"/>
<circle cx="29.20" cy="129.58" r="1.40" fill="#ff1a1a"/>
<circle cx="41.90" cy="142.60" r="1.40" fill="#ff1a1a"/>
<circle cx="54.60" cy="150.49" r="1.40" fill="#ff1a1a"/>
<circle cx="67.30" cy="154.44" r="1.40" fill="#ff1a1a"/>
<circle cx="80.00" cy="160.35" r="1.40" fill="#ff1a1a"/>
<circle cx="105.40" cy="167.85" r="1.40" fill="#ff1a1a"/>
<circle cx="130.80" cy="174.56" r="1.40" fill="#ff1a1a"/>
<path d="M16.50 103.74 L29.20 128.79 L41.90 141.02 L54.60 150.10 L67.30 154.83 L80.00 161.14 L105.40 168.24 L130.80 175.74" fill="none" stroke="#3a3a3a" stroke-width="0.9" stroke-linejoin="round"/>
<circle cx="16.50" cy="103.74" r="1.26" fill="#3a3a3a"/>
<circle cx="29.20" cy="128.79" r="1.26" fill="#3a3a3a"/>
<circle cx="41.90" cy="141.02" r="1.26" fill="#3a3a3a"/>
<circle cx="54.60" cy="150.10" r="1.26" fill="#3a3a3a"/>
<circle cx="67.30" cy="154.83" r="1.26" fill="#3a3a3a"/>
<circle cx="80.00" cy="161.14" r="1.26" fill="#3a3a3a"/>
<circle cx="105.40" cy="168.24" r="1.26" fill="#3a3a3a"/>
<circle cx="130.80" cy="175.74" r="1.26" fill="#3a3a3a"/>
<path d="M16.50 103.51 L29.20 128.56 L41.90 140.79 L54.60 149.86 L67.30 154.44 L80.00 160.75 L105.40 167.85 L130.80 175.34" fill="none" stroke="#000000" stroke-width="0.9" stroke-dasharray="1.9 1.1" stroke-linejoin="round"/>
<path d="M16.50 102.04L17.67 103.51L16.50 104.97L15.33 103.51Z" fill="none" stroke="#000000" stroke-width="0.6"/>
<path d="M29.20 127.09L30.37 128.56L29.20 130.02L28.03 128.56Z" fill="none" stroke="#000000" stroke-width="0.6"/>
<path d="M41.90 139.32L43.07 140.79L41.90 142.25L40.73 140.79Z" fill="none" stroke="#000000" stroke-width="0.6"/>
<path d="M54.60 148.39L55.77 149.86L54.60 151.32L53.43 149.86Z" fill="none" stroke="#000000" stroke-width="0.6"/>
<path d="M67.30 152.97L68.47 154.44L67.30 155.90L66.13 154.44Z" fill="none" stroke="#000000" stroke-width="0.6"/>
<path d="M80.00 159.28L81.17 160.75L80.00 162.21L78.83 160.75Z" fill="none" stroke="#000000" stroke-width="0.6"/>
<path d="M105.40 166.38L106.57 167.85L105.40 169.31L104.23 167.85Z" fill="none" stroke="#000000" stroke-width="0.6"/>
<path d="M130.80 173.88L131.97 175.34L130.80 176.81L129.63 175.34Z" fill="none" stroke="#000000" stroke-width="0.6"/>
<path d="M16.50 103.03 L29.20 128.08 L41.90 140.31 L54.60 149.39 L67.30 153.65 L80.00 159.96 L105.40 167.06 L130.80 174.56" fill="none" stroke="#b04c14" stroke-width="0.9" stroke-linejoin="round"/>
<circle cx="16.50" cy="103.03" r="1.26" fill="#b04c14"/>
<circle cx="29.20" cy="128.08" r="1.26" fill="#b04c14"/>
<circle cx="41.90" cy="140.31" r="1.26" fill="#b04c14"/>
<circle cx="54.60" cy="149.39" r="1.26" fill="#b04c14"/>
<circle cx="67.30" cy="153.65" r="1.26" fill="#b04c14"/>
<circle cx="80.00" cy="159.96" r="1.26" fill="#b04c14"/>
<circle cx="105.40" cy="167.06" r="1.26" fill="#b04c14"/>
<circle cx="130.80" cy="174.56" r="1.26" fill="#b04c14"/>
<path d="M16.50 102.80 L29.20 127.85 L41.90 140.08 L54.60 149.15 L67.30 153.25 L80.00 159.56 L105.40 166.66 L130.80 174.16" fill="none" stroke="#2a2aff" stroke-width="0.9" stroke-linejoin="round"/>
<circle cx="16.50" cy="102.80" r="1.26" fill="#2a2aff"/>
<circle cx="29.20" cy="127.85" r="1.26" fill="#2a2aff"/>
<circle cx="41.90" cy="140.08" r="1.26" fill="#2a2aff"/>
<circle cx="54.60" cy="149.15" r="1.26" fill="#2a2aff"/>
<circle cx="67.30" cy="153.25" r="1.26" fill="#2a2aff"/>
<circle cx="80.00" cy="159.56" r="1.26" fill="#2a2aff"/>
<circle cx="105.40" cy="166.66" r="1.26" fill="#2a2aff"/>
<circle cx="130.80" cy="174.16" r="1.26" fill="#2a2aff"/>
<path d="M16.50 102.56 L29.20 127.61 L41.90 139.84 L54.60 148.91 L67.30 152.86 L80.00 159.17 L105.40 166.27 L130.80 173.77" fill="none" stroke="#2a2aff" stroke-width="0.9" stroke-dasharray="1.9 1.1" stroke-linejoin="round"/>
<circle cx="16.50" cy="102.56" r="1.26" fill="#2a2aff"/>
<circle cx="29.20" cy="127.61" r="1.26" fill="#2a2aff"/>
<circle cx="41.90" cy="139.84" r="1.26" fill="#2a2aff"/>
<circle cx="54.60" cy="148.91" r="1.26" fill="#2a2aff"/>
<circle cx="67.30" cy="152.86" r="1.26" fill="#2a2aff"/>
<circle cx="80.00" cy="159.17" r="1.26" fill="#2a2aff"/>
<circle cx="105.40" cy="166.27" r="1.26" fill="#2a2aff"/>
<circle cx="130.80" cy="173.77" r="1.26" fill="#2a2aff"/>
<path d="M16.50 102.09 L29.20 127.14 L41.90 139.37 L54.60 148.44 L67.30 152.07 L80.00 158.38 L105.40 165.48 L130.80 172.98" fill="none" stroke="#00e000" stroke-width="0.9" stroke-linejoin="round"/>
<circle cx="16.50" cy="102.09" r="1.26" fill="#00e000"/>
<circle cx="29.20" cy="127.14" r="1.26" fill="#00e000"/>
<circle cx="41.90" cy="139.37" r="1.26" fill="#00e000"/>
<circle cx="54.60" cy="148.44" r="1.26" fill="#00e000"/>
<circle cx="67.30" cy="152.07" r="1.26" fill="#00e000"/>
<circle cx="80.00" cy="158.38" r="1.26" fill="#00e000"/>
<circle cx="105.40" cy="165.48" r="1.26" fill="#00e000"/>
<circle cx="130.80" cy="172.98" r="1.26" fill="#00e000"/>
<path d="M16.50 101.26 L29.20 126.31 L41.90 138.54 L54.60 147.61 L67.30 150.69 L80.00 157.00 L105.40 164.10 L130.80 171.60" fill="none" stroke="#00e000" stroke-width="0.9" stroke-dasharray="1.9 1.1" stroke-linejoin="round"/>
<circle cx="16.50" cy="101.26" r="1.26" fill="#00e000"/>
<circle cx="29.20" cy="126.31" r="1.26" fill="#00e000"/>
<circle cx="41.90" cy="138.54" r="1.26" fill="#00e000"/>
<circle cx="54.60" cy="147.61" r="1.26" fill="#00e000"/>
<circle cx="67.30" cy="150.69" r="1.26" fill="#00e000"/>
<circle cx="80.00" cy="157.00" r="1.26" fill="#00e000"/>
<circle cx="105.40" cy="164.10" r="1.26" fill="#00e000"/>
<circle cx="130.80" cy="171.60" r="1.26" fill="#00e000"/>
<path d="M16.50 102.44 L29.20 127.49 L41.90 139.72 L54.60 148.79 L67.30 152.66 L80.00 158.97 L105.40 166.07 L130.80 173.57" fill="none" stroke="#ff20ff" stroke-width="0.9" stroke-linejoin="round"/>
<path d="M16.50 100.98L17.67 102.44L16.50 103.91L15.33 102.44Z" fill="#ff20ff"/>
<path d="M29.20 126.03L30.37 127.49L29.20 128.96L28.03 127.49Z" fill="#ff20ff"/>
<path d="M41.90 138.26L43.07 139.72L41.90 141.19L40.73 139.72Z" fill="#ff20ff"/>
<path d="M54.60 147.33L55.77 148.79L54.60 150.26L53.43 148.79Z" fill="#ff20ff"/>
<path d="M67.30 151.20L68.47 152.66L67.30 154.12L66.13 152.66Z" fill="#ff20ff"/>
<path d="M80.00 157.51L81.17 158.97L80.00 160.44L78.83 158.97Z" fill="#ff20ff"/>
<path d="M105.40 164.61L106.57 166.07L105.40 167.54L104.23 166.07Z" fill="#ff20ff"/>
<path d="M130.80 172.10L131.97 173.57L130.80 175.03L129.63 173.57Z" fill="#ff20ff"/>
<path d="M16.50 101.57 L29.20 129.19 L41.90 142.01 L54.60 145.95 L67.30 150.49 L80.00 154.83 L105.40 159.56 L130.80 165.48" fill="none" stroke="#ff1a1a" stroke-width="0.9" stroke-dasharray="1.9 1.1" stroke-linejoin="round"/>
<rect x="15.18" y="100.25" width="2.63" height="2.63" fill="none" stroke="#ff1a1a" stroke-width="0.55"/>
<rect x="27.88" y="127.87" width="2.63" height="2.63" fill="none" stroke="#ff1a1a" stroke-width="0.55"/>
<rect x="40.58" y="140.69" width="2.63" height="2.63" fill="none" stroke="#ff1a1a" stroke-width="0.55"/>
<rect x="53.28" y="144.64" width="2.63" height="2.63" fill="none" stroke="#ff1a1a" stroke-width="0.55"/>
<rect x="65.98" y="149.17" width="2.63" height="2.63" fill="none" stroke="#ff1a1a" stroke-width="0.55"/>
<rect x="78.68" y="153.51" width="2.63" height="2.63" fill="none" stroke="#ff1a1a" stroke-width="0.55"/>
<rect x="104.08" y="158.25" width="2.63" height="2.63" fill="none" stroke="#ff1a1a" stroke-width="0.55"/>
<rect x="129.48" y="164.16" width="2.63" height="2.63" fill="none" stroke="#ff1a1a" stroke-width="0.55"/>
<rect x="79.60" y="154.40" width="25.70" height="14.10" fill="none" stroke="#555" stroke-width="0.5"/>
<rect x="67.40" y="104.80" width="58.30" height="39.30" fill="#fff" stroke="#444" stroke-width="0.6"/>
<clipPath id="c784"><rect x="67.40" y="104.80" width="58.30" height="39.30"/></clipPath>
<g clip-path="url(#c784)">
<path d="M67.40 104.80 L125.70 119.70" fill="none" stroke="#ff1a1a" stroke-width="0.8" stroke-dasharray="1.9 1.1" stroke-linejoin="round"/>
<path d="M67.40 114.80 L125.70 133.20" fill="none" stroke="#00e000" stroke-width="0.8" stroke-dasharray="1.9 1.1" stroke-linejoin="round"/>
<path d="M67.40 117.00 L125.70 136.00" fill="none" stroke="#00e000" stroke-width="0.8" stroke-linejoin="round"/>
<path d="M67.40 120.20 L125.70 136.80" fill="none" stroke="#ff20ff" stroke-width="0.8" stroke-linejoin="round"/>
<path d="M67.40 122.90 L125.70 144.10" fill="none" stroke="#b04c14" stroke-width="0.8" stroke-linejoin="round"/>
<path d="M67.40 123.50 L125.70 143.50" fill="none" stroke="#ff1a1a" stroke-width="0.8" stroke-linejoin="round"/>
<path d="M67.40 125.10 L125.70 140.00" fill="none" stroke="#2a2aff" stroke-width="0.8" stroke-linejoin="round"/>
<path d="M67.40 127.30 L125.70 141.40" fill="none" stroke="#000000" stroke-width="0.8" stroke-dasharray="1.9 1.1" stroke-linejoin="round"/>
<path d="M67.40 128.40 L125.70 142.70" fill="none" stroke="#3a3a3a" stroke-width="0.8" stroke-linejoin="round"/>
</g>
<rect x="66.21" y="103.61" width="2.37" height="2.37" fill="none" stroke="#ff1a1a" stroke-width="0.55"/>
<rect x="124.51" y="118.51" width="2.37" height="2.37" fill="none" stroke="#ff1a1a" stroke-width="0.55"/>
<circle cx="67.40" cy="114.80" r="1.26" fill="#00e000"/>
<circle cx="125.70" cy="133.20" r="1.26" fill="#00e000"/>
<circle cx="67.40" cy="117.00" r="1.26" fill="#00e000"/>
<circle cx="125.70" cy="136.00" r="1.26" fill="#00e000"/>
<path d="M67.40 118.74L68.57 120.20L67.40 121.66L66.23 120.20Z" fill="#ff20ff"/>
<path d="M125.70 135.34L126.87 136.80L125.70 138.26L124.53 136.80Z" fill="#ff20ff"/>
<circle cx="67.40" cy="122.90" r="1.26" fill="#b04c14"/>
<circle cx="125.70" cy="144.10" r="1.26" fill="#b04c14"/>
<circle cx="67.40" cy="123.50" r="1.26" fill="#ff1a1a"/>
<circle cx="125.70" cy="143.50" r="1.26" fill="#ff1a1a"/>
<circle cx="67.40" cy="125.10" r="1.26" fill="#2a2aff"/>
<circle cx="125.70" cy="140.00" r="1.26" fill="#2a2aff"/>
<path d="M67.40 125.84L68.57 127.30L67.40 128.76L66.23 127.30Z" fill="none" stroke="#000000" stroke-width="0.6"/>
<path d="M125.70 139.94L126.87 141.40L125.70 142.86L124.53 141.40Z" fill="none" stroke="#000000" stroke-width="0.6"/>
<circle cx="67.40" cy="128.40" r="1.26" fill="#3a3a3a"/>
<circle cx="125.70" cy="142.70" r="1.26" fill="#3a3a3a"/>
<rect x="155.20" y="99.60" width="114.10" height="78.90" fill="none" stroke="#a4a4a4" stroke-width="0.85"/>
<path d="M155.20 178.50v-1.2M155.20 99.60v1.2" stroke="#a4a4a4" stroke-width="0.5"/>
<text x="155.20" y="184.20" font-size="4.3" text-anchor="middle" font-family="Liberation Serif, serif" fill="#3a3a3a">100</text>
<path d="M167.88 178.50v-1.2M167.88 99.60v1.2" stroke="#a4a4a4" stroke-width="0.5"/>
<text x="167.88" y="184.20" font-size="4.3" text-anchor="middle" font-family="Liberation Serif, serif" fill="#3a3a3a">200</text>
<path d="M180.56 178.50v-1.2M180.56 99.60v1.2" stroke="#a4a4a4" stroke-width="0.5"/>
<text x="180.56" y="184.20" font-size="4.3" text-anchor="middle" font-family="Liberation Serif, serif" fill="#3a3a3a">300</text>
<path d="M193.23 178.50v-1.2M193.23 99.60v1.2" stroke="#a4a4a4" stroke-width="0.5"/>
<text x="193.23" y="184.20" font-size="4.3" text-anchor="middle" font-family="Liberation Serif, serif" fill="#3a3a3a">400</text>
<path d="M205.91 178.50v-1.2M205.91 99.60v1.2" stroke="#a4a4a4" stroke-width="0.5"/>
<text x="205.91" y="184.20" font-size="4.3" text-anchor="middle" font-family="Liberation Serif, serif" fill="#3a3a3a">500</text>
<path d="M218.59 178.50v-1.2M218.59 99.60v1.2" stroke="#a4a4a4" stroke-width="0.5"/>
<text x="218.59" y="184.20" font-size="4.3" text-anchor="middle" font-family="Liberation Serif, serif" fill="#3a3a3a">600</text>
<path d="M231.27 178.50v-1.2M231.27 99.60v1.2" stroke="#a4a4a4" stroke-width="0.5"/>
<text x="231.27" y="184.20" font-size="4.3" text-anchor="middle" font-family="Liberation Serif, serif" fill="#3a3a3a">700</text>
<path d="M243.94 178.50v-1.2M243.94 99.60v1.2" stroke="#a4a4a4" stroke-width="0.5"/>
<text x="243.94" y="184.20" font-size="4.3" text-anchor="middle" font-family="Liberation Serif, serif" fill="#3a3a3a">800</text>
<path d="M256.62 178.50v-1.2M256.62 99.60v1.2" stroke="#a4a4a4" stroke-width="0.5"/>
<text x="256.62" y="184.20" font-size="4.3" text-anchor="middle" font-family="Liberation Serif, serif" fill="#3a3a3a">900</text>
<path d="M269.30 178.50v-1.2M269.30 99.60v1.2" stroke="#a4a4a4" stroke-width="0.5"/>
<text x="269.30" y="184.20" font-size="4.3" text-anchor="middle" font-family="Liberation Serif, serif" fill="#3a3a3a">1000</text>
<path d="M155.20 178.50h1.2M269.30 178.50h-1.2" stroke="#a4a4a4" stroke-width="0.5"/>
<text x="154.00" y="180.40" font-size="4.3" text-anchor="end" font-family="Liberation Serif, serif" fill="#3a3a3a">0.2</text>
<path d="M155.20 168.64h1.2M269.30 168.64h-1.2" stroke="#a4a4a4" stroke-width="0.5"/>
<text x="154.00" y="170.54" font-size="4.3" text-anchor="end" font-family="Liberation Serif, serif" fill="#3a3a3a">0.25</text>
<path d="M155.20 158.78h1.2M269.30 158.78h-1.2" stroke="#a4a4a4" stroke-width="0.5"/>
<text x="154.00" y="160.68" font-size="4.3" text-anchor="end" font-family="Liberation Serif, serif" fill="#3a3a3a">0.3</text>
<path d="M155.20 148.91h1.2M269.30 148.91h-1.2" stroke="#a4a4a4" stroke-width="0.5"/>
<text x="154.00" y="150.81" font-size="4.3" text-anchor="end" font-family="Liberation Serif, serif" fill="#3a3a3a">0.35</text>
<path d="M155.20 139.05h1.2M269.30 139.05h-1.2" stroke="#a4a4a4" stroke-width="0.5"/>
<text x="154.00" y="140.95" font-size="4.3" text-anchor="end" font-family="Liberation Serif, serif" fill="#3a3a3a">0.4</text>
<path d="M155.20 129.19h1.2M269.30 129.19h-1.2" stroke="#a4a4a4" stroke-width="0.5"/>
<text x="154.00" y="131.09" font-size="4.3" text-anchor="end" font-family="Liberation Serif, serif" fill="#3a3a3a">0.45</text>
<path d="M155.20 119.32h1.2M269.30 119.32h-1.2" stroke="#a4a4a4" stroke-width="0.5"/>
<text x="154.00" y="121.22" font-size="4.3" text-anchor="end" font-family="Liberation Serif, serif" fill="#3a3a3a">0.5</text>
<path d="M155.20 109.46h1.2M269.30 109.46h-1.2" stroke="#a4a4a4" stroke-width="0.5"/>
<text x="154.00" y="111.36" font-size="4.3" text-anchor="end" font-family="Liberation Serif, serif" fill="#3a3a3a">0.55</text>
<path d="M155.20 99.60h1.2M269.30 99.60h-1.2" stroke="#a4a4a4" stroke-width="0.5"/>
<text x="154.00" y="101.50" font-size="4.3" text-anchor="end" font-family="Liberation Serif, serif" fill="#3a3a3a">0.6</text>
<text x="0" y="0" transform="translate(212.25,189.80) scale(0.86,1)" font-size="5.40" text-anchor="middle" font-family="Liberation Serif, serif" fill="#222">Number of superpixels</text>
<text x="0" y="0" transform="translate(145.40,139.05) rotate(-90) scale(0.92,1)" font-size="5.40" text-anchor="middle" font-family="Liberation Serif, serif" fill="#222">UE</text>
<path d="M155.20 105.52 L167.88 131.16 L180.56 143.00 L193.23 151.87 L205.91 155.82 L218.59 163.51 L243.94 169.23 L269.30 176.13" fill="none" stroke="#ff1a1a" stroke-width="0.9" stroke-linejoin="round"/>
<circle cx="155.20" cy="105.52" r="1.40" fill="#ff1a1a"/>
<circle cx="167.88" cy="131.16" r="1.40" fill="#ff1a1a"/>
<circle cx="180.56" cy="143.00" r="1.40" fill="#ff1a1a"/>
<circle cx="193.23" cy="151.87" r="1.40" fill="#ff1a1a"/>
<circle cx="205.91" cy="155.82" r="1.40" fill="#ff1a1a"/>
<circle cx="218.59" cy="163.51" r="1.40" fill="#ff1a1a"/>
<circle cx="243.94" cy="169.23" r="1.40" fill="#ff1a1a"/>
<circle cx="269.30" cy="176.13" r="1.40" fill="#ff1a1a"/>
<path d="M155.20 105.64 L167.88 129.90 L180.56 141.73 L193.23 151.99 L205.91 155.62 L218.59 163.71 L243.94 169.43 L269.30 176.13" fill="none" stroke="#3a3a3a" stroke-width="0.9" stroke-linejoin="round"/>
<circle cx="155.20" cy="105.64" r="1.26" fill="#3a3a3a"/>
<circle cx="167.88" cy="129.90" r="1.26" fill="#3a3a3a"/>
<circle cx="180.56" cy="141.73" r="1.26" fill="#3a3a3a"/>
<circle cx="193.23" cy="151.99" r="1.26" fill="#3a3a3a"/>
<circle cx="205.91" cy="155.62" r="1.26" fill="#3a3a3a"/>
<circle cx="218.59" cy="163.71" r="1.26" fill="#3a3a3a"/>
<circle cx="243.94" cy="169.43" r="1.26" fill="#3a3a3a"/>
<circle cx="269.30" cy="176.13" r="1.26" fill="#3a3a3a"/>
<path d="M155.20 105.40 L167.88 129.66 L180.56 141.50 L193.23 151.75 L205.91 155.22 L218.59 163.31 L243.94 169.03 L269.30 175.74" fill="none" stroke="#000000" stroke-width="0.9" stroke-dasharray="1.9 1.1" stroke-linejoin="round"/>
<path d="M155.20 103.93L156.37 105.40L155.20 106.86L154.03 105.40Z" fill="none" stroke="#000000" stroke-width="0.6"/>
<path d="M167.88 128.20L169.05 129.66L167.88 131.13L166.71 129.66Z" fill="none" stroke="#000000" stroke-width="0.6"/>
<path d="M180.56 140.03L181.73 141.50L180.56 142.96L179.38 141.50Z" fill="none" stroke="#000000" stroke-width="0.6"/>
<path d="M193.23 150.29L194.41 151.75L193.23 153.22L192.06 151.75Z" fill="none" stroke="#000000" stroke-width="0.6"/>
<path d="M205.91 153.76L207.08 155.22L205.91 156.69L204.74 155.22Z" fill="none" stroke="#000000" stroke-width="0.6"/>
<path d="M218.59 161.85L219.76 163.31L218.59 164.78L217.42 163.31Z" fill="none" stroke="#000000" stroke-width="0.6"/>
<path d="M243.94 167.57L245.12 169.03L243.94 170.50L242.77 169.03Z" fill="none" stroke="#000000" stroke-width="0.6"/>
<path d="M269.30 174.27L270.47 175.74L269.30 177.20L268.13 175.74Z" fill="none" stroke="#000000" stroke-width="0.6"/>
<path d="M155.20 105.64 L167.88 129.90 L180.56 141.73 L193.23 151.99 L205.91 155.62 L218.59 163.71 L243.94 169.43 L269.30 176.13" fill="none" stroke="#b04c14" stroke-width="0.9" stroke-linejoin="round"/>
<circle cx="155.20" cy="105.64" r="1.26" fill="#b04c14"/>
<circle cx="167.88" cy="129.90" r="1.26" fill="#b04c14"/>
<circle cx="180.56" cy="141.73" r="1.26" fill="#b04c14"/>
<circle cx="193.23" cy="151.99" r="1.26" fill="#b04c14"/>
<circle cx="205.91" cy="155.62" r="1.26" fill="#b04c14"/>
<circle cx="218.59" cy="163.71" r="1.26" fill="#b04c14"/>
<circle cx="243.94" cy="169.43" r="1.26" fill="#b04c14"/>
<circle cx="269.30" cy="176.13" r="1.26" fill="#b04c14"/>
<path d="M155.20 104.69 L167.88 128.95 L180.56 140.79 L193.23 151.04 L205.91 154.04 L218.59 162.13 L243.94 167.85 L269.30 174.56" fill="none" stroke="#2a2aff" stroke-width="0.9" stroke-linejoin="round"/>
<circle cx="155.20" cy="104.69" r="1.26" fill="#2a2aff"/>
<circle cx="167.88" cy="128.95" r="1.26" fill="#2a2aff"/>
<circle cx="180.56" cy="140.79" r="1.26" fill="#2a2aff"/>
<circle cx="193.23" cy="151.04" r="1.26" fill="#2a2aff"/>
<circle cx="205.91" cy="154.04" r="1.26" fill="#2a2aff"/>
<circle cx="218.59" cy="162.13" r="1.26" fill="#2a2aff"/>
<circle cx="243.94" cy="167.85" r="1.26" fill="#2a2aff"/>
<circle cx="269.30" cy="174.56" r="1.26" fill="#2a2aff"/>
<path d="M155.20 104.93 L167.88 129.19 L180.56 141.02 L193.23 151.28 L205.91 154.44 L218.59 162.52 L243.94 168.24 L269.30 174.95" fill="none" stroke="#2a2aff" stroke-width="0.9" stroke-dasharray="1.9 1.1" stroke-linejoin="round"/>
<circle cx="155.20" cy="104.93" r="1.26" fill="#2a2aff"/>
<circle cx="167.88" cy="129.19" r="1.26" fill="#2a2aff"/>
<circle cx="180.56" cy="141.02" r="1.26" fill="#2a2aff"/>
<circle cx="193.23" cy="151.28" r="1.26" fill="#2a2aff"/>
<circle cx="205.91" cy="154.44" r="1.26" fill="#2a2aff"/>
<circle cx="218.59" cy="162.52" r="1.26" fill="#2a2aff"/>
<circle cx="243.94" cy="168.24" r="1.26" fill="#2a2aff"/>
<circle cx="269.30" cy="174.95" r="1.26" fill="#2a2aff"/>
<path d="M155.20 105.16 L167.88 129.42 L180.56 141.26 L193.23 151.52 L205.91 154.83 L218.59 162.92 L243.94 168.64 L269.30 175.34" fill="none" stroke="#00e000" stroke-width="0.9" stroke-linejoin="round"/>
<circle cx="155.20" cy="105.16" r="1.26" fill="#00e000"/>
<circle cx="167.88" cy="129.42" r="1.26" fill="#00e000"/>
<circle cx="180.56" cy="141.26" r="1.26" fill="#00e000"/>
<circle cx="193.23" cy="151.52" r="1.26" fill="#00e000"/>
<circle cx="205.91" cy="154.83" r="1.26" fill="#00e000"/>
<circle cx="218.59" cy="162.92" r="1.26" fill="#00e000"/>
<circle cx="243.94" cy="168.64" r="1.26" fill="#00e000"/>
<circle cx="269.30" cy="175.34" r="1.26" fill="#00e000"/>
<path d="M155.20 103.98 L167.88 128.24 L180.56 140.08 L193.23 150.33 L205.91 152.86 L218.59 160.94 L243.94 166.66 L269.30 173.37" fill="none" stroke="#00e000" stroke-width="0.9" stroke-dasharray="1.9 1.1" stroke-linejoin="round"/>
<circle cx="155.20" cy="103.98" r="1.26" fill="#00e000"/>
<circle cx="167.88" cy="128.24" r="1.26" fill="#00e000"/>
<circle cx="180.56" cy="140.08" r="1.26" fill="#00e000"/>
<circle cx="193.23" cy="150.33" r="1.26" fill="#00e000"/>
<circle cx="205.91" cy="152.86" r="1.26" fill="#00e000"/>
<circle cx="218.59" cy="160.94" r="1.26" fill="#00e000"/>
<circle cx="243.94" cy="166.66" r="1.26" fill="#00e000"/>
<circle cx="269.30" cy="173.37" r="1.26" fill="#00e000"/>
<path d="M155.20 104.45 L167.88 128.71 L180.56 140.55 L193.23 150.81 L205.91 153.65 L218.59 161.73 L243.94 167.45 L269.30 174.16" fill="none" stroke="#ff20ff" stroke-width="0.9" stroke-linejoin="round"/>
<path d="M155.20 102.99L156.37 104.45L155.20 105.92L154.03 104.45Z" fill="#ff20ff"/>
<path d="M167.88 127.25L169.05 128.71L167.88 130.18L166.71 128.71Z" fill="#ff20ff"/>
<path d="M180.56 139.08L181.73 140.55L180.56 142.01L179.38 140.55Z" fill="#ff20ff"/>
<path d="M193.23 149.34L194.41 150.81L193.23 152.27L192.06 150.81Z" fill="#ff20ff"/>
<path d="M205.91 152.18L207.08 153.65L205.91 155.11L204.74 153.65Z" fill="#ff20ff"/>
<path d="M218.59 160.27L219.76 161.73L218.59 163.20L217.42 161.73Z" fill="#ff20ff"/>
<path d="M243.94 165.99L245.12 167.45L243.94 168.92L242.77 167.45Z" fill="#ff20ff"/>
<path d="M269.30 172.70L270.47 174.16L269.30 175.63L268.13 174.16Z" fill="#ff20ff"/>
<path d="M155.20 104.53 L167.88 130.17 L180.56 142.01 L193.23 148.52 L205.91 152.46 L218.59 156.61 L243.94 160.75 L269.30 168.64" fill="none" stroke="#ff1a1a" stroke-width="0.9" stroke-dasharray="1.9 1.1" stroke-linejoin="round"/>
<rect x="153.88" y="103.21" width="2.63" height="2.63" fill="none" stroke="#ff1a1a" stroke-width="0.55"/>
<rect x="166.56" y="128.86" width="2.63" height="2.63" fill="none" stroke="#ff1a1a" stroke-width="0.55"/>
<rect x="179.24" y="140.69" width="2.63" height="2.63" fill="none" stroke="#ff1a1a" stroke-width="0.55"/>
<rect x="191.92" y="147.20" width="2.63" height="2.63" fill="none" stroke="#ff1a1a" stroke-width="0.55"/>
<rect x="204.59" y="151.15" width="2.63" height="2.63" fill="none" stroke="#ff1a1a" stroke-width="0.55"/>
<rect x="217.27" y="155.29" width="2.63" height="2.63" fill="none" stroke="#ff1a1a" stroke-width="0.55"/>
<rect x="242.63" y="159.43" width="2.63" height="2.63" fill="none" stroke="#ff1a1a" stroke-width="0.55"/>
<rect x="267.98" y="167.32" width="2.63" height="2.63" fill="none" stroke="#ff1a1a" stroke-width="0.55"/>
<rect x="218.00" y="155.50" width="25.80" height="14.30" fill="none" stroke="#555" stroke-width="0.5"/>
<rect x="201.00" y="106.30" width="60.50" height="35.70" fill="#fff" stroke="#444" stroke-width="0.6"/>
<clipPath id="c947"><rect x="201.00" y="106.30" width="60.50" height="35.70"/></clipPath>
<g clip-path="url(#c947)">
<path d="M201.00 106.90 L261.50 123.20" fill="none" stroke="#ff1a1a" stroke-width="0.8" stroke-dasharray="1.9 1.1" stroke-linejoin="round"/>
<path d="M201.00 113.40 L261.50 133.00" fill="none" stroke="#00e000" stroke-width="0.8" stroke-dasharray="1.9 1.1" stroke-linejoin="round"/>
<path d="M201.00 121.50 L261.50 141.40" fill="none" stroke="#b04c14" stroke-width="0.8" stroke-linejoin="round"/>
<path d="M201.00 122.00 L261.50 141.00" fill="none" stroke="#ff1a1a" stroke-width="0.8" stroke-linejoin="round"/>
<path d="M201.00 122.30 L261.50 141.90" fill="none" stroke="#00e000" stroke-width="0.8" stroke-linejoin="round"/>
<path d="M201.00 123.00 L261.50 138.50" fill="none" stroke="#2a2aff" stroke-width="0.8" stroke-linejoin="round"/>
<path d="M201.00 123.80 L261.50 139.50" fill="none" stroke="#000000" stroke-width="0.8" stroke-dasharray="1.9 1.1" stroke-linejoin="round"/>
<path d="M201.00 124.70 L261.50 139.80" fill="none" stroke="#3a3a3a" stroke-width="0.8" stroke-linejoin="round"/>
<path d="M201.00 119.40 L261.50 135.10" fill="none" stroke="#ff20ff" stroke-width="0.8" stroke-linejoin="round"/>
</g>
<rect x="199.81" y="105.71" width="2.37" height="2.37" fill="none" stroke="#ff1a1a" stroke-width="0.55"/>
<rect x="260.31" y="122.01" width="2.37" height="2.37" fill="none" stroke="#ff1a1a" stroke-width="0.55"/>
<circle cx="201.00" cy="113.40" r="1.26" fill="#00e000"/>
<circle cx="261.50" cy="133.00" r="1.26" fill="#00e000"/>
<circle cx="201.00" cy="121.50" r="1.26" fill="#b04c14"/>
<circle cx="261.50" cy="141.40" r="1.26" fill="#b04c14"/>
<circle cx="201.00" cy="122.00" r="1.26" fill="#ff1a1a"/>
<circle cx="261.50" cy="141.00" r="1.26" fill="#ff1a1a"/>
<circle cx="201.00" cy="122.30" r="1.26" fill="#00e000"/>
<circle cx="261.50" cy="141.90" r="1.26" fill="#00e000"/>
<circle cx="201.00" cy="123.00" r="1.26" fill="#2a2aff"/>
<circle cx="261.50" cy="138.50" r="1.26" fill="#2a2aff"/>
<path d="M201.00 122.34L202.17 123.80L201.00 125.26L199.83 123.80Z" fill="none" stroke="#000000" stroke-width="0.6"/>
<path d="M261.50 138.04L262.67 139.50L261.50 140.96L260.33 139.50Z" fill="none" stroke="#000000" stroke-width="0.6"/>
<circle cx="201.00" cy="124.70" r="1.26" fill="#3a3a3a"/>
<circle cx="261.50" cy="139.80" r="1.26" fill="#3a3a3a"/>
<path d="M201.00 117.94L202.17 119.40L201.00 120.86L199.83 119.40Z" fill="#ff20ff"/>
<path d="M261.50 133.64L262.67 135.10L261.50 136.56L260.33 135.10Z" fill="#ff20ff"/>
<rect x="293.20" y="99.60" width="114.10" height="78.90" fill="none" stroke="#a4a4a4" stroke-width="0.85"/>
<path d="M293.20 178.50v-1.2M293.20 99.60v1.2" stroke="#a4a4a4" stroke-width="0.5"/>
<text x="293.20" y="184.20" font-size="4.3" text-anchor="middle" font-family="Liberation Serif, serif" fill="#3a3a3a">100</text>
<path d="M305.88 178.50v-1.2M305.88 99.60v1.2" stroke="#a4a4a4" stroke-width="0.5"/>
<text x="305.88" y="184.20" font-size="4.3" text-anchor="middle" font-family="Liberation Serif, serif" fill="#3a3a3a">200</text>
<path d="M318.56 178.50v-1.2M318.56 99.60v1.2" stroke="#a4a4a4" stroke-width="0.5"/>
<text x="318.56" y="184.20" font-size="4.3" text-anchor="middle" font-family="Liberation Serif, serif" fill="#3a3a3a">300</text>
<path d="M331.23 178.50v-1.2M331.23 99.60v1.2" stroke="#a4a4a4" stroke-width="0.5"/>
<text x="331.23" y="184.20" font-size="4.3" text-anchor="middle" font-family="Liberation Serif, serif" fill="#3a3a3a">400</text>
<path d="M343.91 178.50v-1.2M343.91 99.60v1.2" stroke="#a4a4a4" stroke-width="0.5"/>
<text x="343.91" y="184.20" font-size="4.3" text-anchor="middle" font-family="Liberation Serif, serif" fill="#3a3a3a">500</text>
<path d="M356.59 178.50v-1.2M356.59 99.60v1.2" stroke="#a4a4a4" stroke-width="0.5"/>
<text x="356.59" y="184.20" font-size="4.3" text-anchor="middle" font-family="Liberation Serif, serif" fill="#3a3a3a">600</text>
<path d="M369.27 178.50v-1.2M369.27 99.60v1.2" stroke="#a4a4a4" stroke-width="0.5"/>
<text x="369.27" y="184.20" font-size="4.3" text-anchor="middle" font-family="Liberation Serif, serif" fill="#3a3a3a">700</text>
<path d="M381.94 178.50v-1.2M381.94 99.60v1.2" stroke="#a4a4a4" stroke-width="0.5"/>
<text x="381.94" y="184.20" font-size="4.3" text-anchor="middle" font-family="Liberation Serif, serif" fill="#3a3a3a">800</text>
<path d="M394.62 178.50v-1.2M394.62 99.60v1.2" stroke="#a4a4a4" stroke-width="0.5"/>
<text x="394.62" y="184.20" font-size="4.3" text-anchor="middle" font-family="Liberation Serif, serif" fill="#3a3a3a">900</text>
<path d="M407.30 178.50v-1.2M407.30 99.60v1.2" stroke="#a4a4a4" stroke-width="0.5"/>
<text x="407.30" y="184.20" font-size="4.3" text-anchor="middle" font-family="Liberation Serif, serif" fill="#3a3a3a">1000</text>
<path d="M293.20 178.50h1.2M407.30 178.50h-1.2" stroke="#a4a4a4" stroke-width="0.5"/>
<text x="292.00" y="180.40" font-size="4.3" text-anchor="end" font-family="Liberation Serif, serif" fill="#3a3a3a">0.2</text>
<path d="M293.20 168.64h1.2M407.30 168.64h-1.2" stroke="#a4a4a4" stroke-width="0.5"/>
<text x="292.00" y="170.54" font-size="4.3" text-anchor="end" font-family="Liberation Serif, serif" fill="#3a3a3a">0.3</text>
<path d="M293.20 158.78h1.2M407.30 158.78h-1.2" stroke="#a4a4a4" stroke-width="0.5"/>
<text x="292.00" y="160.68" font-size="4.3" text-anchor="end" font-family="Liberation Serif, serif" fill="#3a3a3a">0.4</text>
<path d="M293.20 148.91h1.2M407.30 148.91h-1.2" stroke="#a4a4a4" stroke-width="0.5"/>
<text x="292.00" y="150.81" font-size="4.3" text-anchor="end" font-family="Liberation Serif, serif" fill="#3a3a3a">0.5</text>
<path d="M293.20 139.05h1.2M407.30 139.05h-1.2" stroke="#a4a4a4" stroke-width="0.5"/>
<text x="292.00" y="140.95" font-size="4.3" text-anchor="end" font-family="Liberation Serif, serif" fill="#3a3a3a">0.6</text>
<path d="M293.20 129.19h1.2M407.30 129.19h-1.2" stroke="#a4a4a4" stroke-width="0.5"/>
<text x="292.00" y="131.09" font-size="4.3" text-anchor="end" font-family="Liberation Serif, serif" fill="#3a3a3a">0.7</text>
<path d="M293.20 119.32h1.2M407.30 119.32h-1.2" stroke="#a4a4a4" stroke-width="0.5"/>
<text x="292.00" y="121.22" font-size="4.3" text-anchor="end" font-family="Liberation Serif, serif" fill="#3a3a3a">0.8</text>
<path d="M293.20 109.46h1.2M407.30 109.46h-1.2" stroke="#a4a4a4" stroke-width="0.5"/>
<text x="292.00" y="111.36" font-size="4.3" text-anchor="end" font-family="Liberation Serif, serif" fill="#3a3a3a">0.9</text>
<path d="M293.20 99.60h1.2M407.30 99.60h-1.2" stroke="#a4a4a4" stroke-width="0.5"/>
<text x="292.00" y="101.50" font-size="4.3" text-anchor="end" font-family="Liberation Serif, serif" fill="#3a3a3a">1</text>
<text x="0" y="0" transform="translate(350.25,189.80) scale(0.86,1)" font-size="5.40" text-anchor="middle" font-family="Liberation Serif, serif" fill="#222">Number of superpixels</text>
<text x="0" y="0" transform="translate(285.20,139.05) rotate(-90) scale(0.92,1)" font-size="5.40" text-anchor="middle" font-family="Liberation Serif, serif" fill="#222">UE</text>
<path d="M293.20 108.38 L305.88 111.04 L318.56 117.55 L331.23 113.70 L343.91 121.89 L356.59 124.26 L381.94 127.22 L407.30 130.57" fill="none" stroke="#2a2aff" stroke-width="0.9" stroke-linejoin="round"/>
<circle cx="293.20" cy="108.38" r="1.26" fill="#2a2aff"/>
<circle cx="305.88" cy="111.04" r="1.26" fill="#2a2aff"/>
<circle cx="318.56" cy="117.55" r="1.26" fill="#2a2aff"/>
<circle cx="331.23" cy="113.70" r="1.26" fill="#2a2aff"/>
<circle cx="343.91" cy="121.89" r="1.26" fill="#2a2aff"/>
<circle cx="356.59" cy="124.26" r="1.26" fill="#2a2aff"/>
<circle cx="381.94" cy="127.22" r="1.26" fill="#2a2aff"/>
<circle cx="407.30" cy="130.57" r="1.26" fill="#2a2aff"/>
<path d="M293.20 122.97 L305.88 133.82 L318.56 140.04 L331.23 145.46 L343.91 148.91 L356.59 152.17 L381.94 155.72 L407.30 160.25" fill="none" stroke="#ff20ff" stroke-width="0.9" stroke-linejoin="round"/>
<path d="M293.20 121.35L294.50 122.97L293.20 124.60L291.90 122.97Z" fill="#ff20ff"/>
<path d="M305.88 132.20L307.18 133.82L305.88 135.45L304.58 133.82Z" fill="#ff20ff"/>
<path d="M318.56 138.41L319.86 140.04L318.56 141.66L317.25 140.04Z" fill="#ff20ff"/>
<path d="M331.23 143.83L332.54 145.46L331.23 147.09L329.93 145.46Z" fill="#ff20ff"/>
<path d="M343.91 147.28L345.21 148.91L343.91 150.54L342.61 148.91Z" fill="#ff20ff"/>
<path d="M356.59 150.54L357.89 152.17L356.59 153.79L355.29 152.17Z" fill="#ff20ff"/>
<path d="M381.94 154.09L383.25 155.72L381.94 157.35L380.64 155.72Z" fill="#ff20ff"/>
<path d="M407.30 158.63L408.60 160.25L407.30 161.88L406.00 160.25Z" fill="#ff20ff"/>
<path d="M293.20 121.30 L305.88 134.12 L318.56 141.02 L331.23 152.86 L343.91 155.82 L356.59 158.78 L381.94 162.72 L407.30 167.65" fill="none" stroke="#2a2aff" stroke-width="0.9" stroke-dasharray="1.9 1.1" stroke-linejoin="round"/>
<path d="M293.20 130.08 L305.88 141.42 L318.56 148.12 L331.23 152.17 L343.91 154.93 L356.59 158.18 L381.94 161.73 L407.30 165.88" fill="none" stroke="#00e000" stroke-width="0.9" stroke-linejoin="round"/>
<circle cx="293.20" cy="130.08" r="1.26" fill="#00e000"/>
<circle cx="305.88" cy="141.42" r="1.26" fill="#00e000"/>
<circle cx="318.56" cy="148.12" r="1.26" fill="#00e000"/>
<circle cx="331.23" cy="152.17" r="1.26" fill="#00e000"/>
<circle cx="343.91" cy="154.93" r="1.26" fill="#00e000"/>
<circle cx="356.59" cy="158.18" r="1.26" fill="#00e000"/>
<circle cx="381.94" cy="161.73" r="1.26" fill="#00e000"/>
<circle cx="407.30" cy="165.88" r="1.26" fill="#00e000"/>
<path d="M293.20 130.17 L305.88 142.01 L318.56 148.91 L331.23 153.35 L343.91 155.82 L356.59 158.78 L381.94 162.72 L407.30 166.66" fill="none" stroke="#00e000" stroke-width="0.9" stroke-dasharray="1.9 1.1" stroke-linejoin="round"/>
<path d="M293.20 136.09 L305.88 145.95 L318.56 151.87 L331.23 155.82 L343.91 158.78 L356.59 161.24 L381.94 164.69 L407.30 168.64" fill="none" stroke="#b04c14" stroke-width="0.9" stroke-linejoin="round"/>
<circle cx="293.20" cy="136.09" r="1.12" fill="#b04c14"/>
<circle cx="305.88" cy="145.95" r="1.12" fill="#b04c14"/>
<circle cx="318.56" cy="151.87" r="1.12" fill="#b04c14"/>
<circle cx="331.23" cy="155.82" r="1.12" fill="#b04c14"/>
<circle cx="343.91" cy="158.78" r="1.12" fill="#b04c14"/>
<circle cx="356.59" cy="161.24" r="1.12" fill="#b04c14"/>
<circle cx="381.94" cy="164.69" r="1.12" fill="#b04c14"/>
<circle cx="407.30" cy="168.64" r="1.12" fill="#b04c14"/>
<path d="M293.20 137.37 L305.88 147.33 L318.56 153.65 L331.23 157.69 L343.91 160.94 L356.59 163.61 L381.94 167.16 L407.30 170.61" fill="none" stroke="#3a3a3a" stroke-width="0.9" stroke-linejoin="round"/>
<circle cx="293.20" cy="137.37" r="1.26" fill="#3a3a3a"/>
<circle cx="305.88" cy="147.33" r="1.26" fill="#3a3a3a"/>
<circle cx="318.56" cy="153.65" r="1.26" fill="#3a3a3a"/>
<circle cx="331.23" cy="157.69" r="1.26" fill="#3a3a3a"/>
<circle cx="343.91" cy="160.94" r="1.26" fill="#3a3a3a"/>
<circle cx="356.59" cy="163.61" r="1.26" fill="#3a3a3a"/>
<circle cx="381.94" cy="167.16" r="1.26" fill="#3a3a3a"/>
<circle cx="407.30" cy="170.61" r="1.26" fill="#3a3a3a"/>
<path d="M293.20 138.06 L305.88 148.42 L318.56 154.34 L331.23 158.78 L343.91 161.73 L356.59 164.20 L381.94 168.14 L407.30 171.10" fill="none" stroke="#000000" stroke-width="0.9" stroke-dasharray="1.9 1.1" stroke-linejoin="round"/>
<path d="M293.20 136.60L294.37 138.06L293.20 139.53L292.03 138.06Z" fill="none" stroke="#000000" stroke-width="0.6"/>
<path d="M305.88 146.95L307.05 148.42L305.88 149.88L304.71 148.42Z" fill="none" stroke="#000000" stroke-width="0.6"/>
<path d="M318.56 152.87L319.73 154.34L318.56 155.80L317.38 154.34Z" fill="none" stroke="#000000" stroke-width="0.6"/>
<path d="M331.23 157.31L332.41 158.78L331.23 160.24L330.06 158.78Z" fill="none" stroke="#000000" stroke-width="0.6"/>
<path d="M343.91 160.27L345.08 161.73L343.91 163.20L342.74 161.73Z" fill="none" stroke="#000000" stroke-width="0.6"/>
<path d="M356.59 162.73L357.76 164.20L356.59 165.66L355.42 164.20Z" fill="none" stroke="#000000" stroke-width="0.6"/>
<path d="M381.94 166.68L383.12 168.14L381.94 169.61L380.77 168.14Z" fill="none" stroke="#000000" stroke-width="0.6"/>
<path d="M407.30 169.64L408.47 171.10L407.30 172.57L406.13 171.10Z" fill="none" stroke="#000000" stroke-width="0.6"/>
<path d="M293.20 138.75 L305.88 150.79 L318.56 157.69 L331.23 161.73 L343.91 164.40 L356.59 167.16 L381.94 169.82 L407.30 172.58" fill="none" stroke="#ff1a1a" stroke-width="0.9" stroke-linejoin="round"/>
<circle cx="293.20" cy="138.75" r="1.26" fill="#ff1a1a"/>
<circle cx="305.88" cy="150.79" r="1.26" fill="#ff1a1a"/>
<circle cx="318.56" cy="157.69" r="1.26" fill="#ff1a1a"/>
<circle cx="331.23" cy="161.73" r="1.26" fill="#ff1a1a"/>
<circle cx="343.91" cy="164.40" r="1.26" fill="#ff1a1a"/>
<circle cx="356.59" cy="167.16" r="1.26" fill="#ff1a1a"/>
<circle cx="381.94" cy="169.82" r="1.26" fill="#ff1a1a"/>
<circle cx="407.30" cy="172.58" r="1.26" fill="#ff1a1a"/>
<rect x="356.60" y="150.00" width="25.70" height="20.60" fill="none" stroke="#555" stroke-width="0.5"/>
<rect x="346.60" y="105.60" width="54.20" height="37.10" fill="#fff" stroke="#444" stroke-width="0.6"/>
<clipPath id="c1085"><rect x="346.60" y="105.60" width="54.20" height="37.10"/></clipPath>
<g clip-path="url(#c1085)">
<path d="M346.60 106.10 L400.80 113.40" fill="none" stroke="#ff20ff" stroke-width="0.8" stroke-linejoin="round"/>
<path d="M346.60 115.60 L400.80 122.90" fill="none" stroke="#00e000" stroke-width="0.8" stroke-linejoin="round"/>
<path d="M346.60 117.00 L400.80 124.60" fill="none" stroke="#00e000" stroke-width="0.8" stroke-dasharray="1.9 1.1" stroke-linejoin="round"/>
<path d="M346.60 120.20 L400.80 128.40" fill="none" stroke="#b04c14" stroke-width="0.8" stroke-linejoin="round"/>
<path d="M346.60 126.50 L400.80 133.80" fill="none" stroke="#2a2aff" stroke-width="0.8" stroke-dasharray="1.9 1.1" stroke-linejoin="round"/>
<path d="M346.60 130.00 L400.80 136.80" fill="none" stroke="#3a3a3a" stroke-width="0.8" stroke-linejoin="round"/>
<path d="M346.60 132.70 L400.80 139.20" fill="none" stroke="#000000" stroke-width="0.8" stroke-dasharray="1.9 1.1" stroke-linejoin="round"/>
<path d="M346.60 135.40 L400.80 141.90" fill="none" stroke="#ff1a1a" stroke-width="0.8" stroke-linejoin="round"/>
</g>
<path d="M346.60 104.64L347.77 106.10L346.60 107.56L345.43 106.10Z" fill="#ff20ff"/>
<path d="M400.80 111.94L401.97 113.40L400.80 114.86L399.63 113.40Z" fill="#ff20ff"/>
<circle cx="346.60" cy="115.60" r="1.26" fill="#00e000"/>
<circle cx="400.80" cy="122.90" r="1.26" fill="#00e000"/>
<circle cx="346.60" cy="117.00" r="1.26" fill="#00e000"/>
<circle cx="400.80" cy="124.60" r="1.26" fill="#00e000"/>
<circle cx="346.60" cy="120.20" r="1.26" fill="#b04c14"/>
<circle cx="400.80" cy="128.40" r="1.26" fill="#b04c14"/>
<circle cx="346.60" cy="126.50" r="1.26" fill="#2a2aff"/>
<circle cx="400.80" cy="133.80" r="1.26" fill="#2a2aff"/>
<circle cx="346.60" cy="130.00" r="1.26" fill="#3a3a3a"/>
<circle cx="400.80" cy="136.80" r="1.26" fill="#3a3a3a"/>
<path d="M346.60 131.24L347.77 132.70L346.60 134.16L345.43 132.70Z" fill="none" stroke="#000000" stroke-width="0.6"/>
<path d="M400.80 137.74L401.97 139.20L400.80 140.66L399.63 139.20Z" fill="none" stroke="#000000" stroke-width="0.6"/>
<circle cx="346.60" cy="135.40" r="1.26" fill="#ff1a1a"/>
<circle cx="400.80" cy="141.90" r="1.26" fill="#ff1a1a"/>
<rect x="431.30" y="99.60" width="114.20" height="78.90" fill="none" stroke="#a4a4a4" stroke-width="0.85"/>
<path d="M431.30 178.50v-1.2M431.30 99.60v1.2" stroke="#a4a4a4" stroke-width="0.5"/>
<text x="431.30" y="184.20" font-size="4.3" text-anchor="middle" font-family="Liberation Serif, serif" fill="#3a3a3a">100</text>
<path d="M443.99 178.50v-1.2M443.99 99.60v1.2" stroke="#a4a4a4" stroke-width="0.5"/>
<text x="443.99" y="184.20" font-size="4.3" text-anchor="middle" font-family="Liberation Serif, serif" fill="#3a3a3a">200</text>
<path d="M456.68 178.50v-1.2M456.68 99.60v1.2" stroke="#a4a4a4" stroke-width="0.5"/>
<text x="456.68" y="184.20" font-size="4.3" text-anchor="middle" font-family="Liberation Serif, serif" fill="#3a3a3a">300</text>
<path d="M469.37 178.50v-1.2M469.37 99.60v1.2" stroke="#a4a4a4" stroke-width="0.5"/>
<text x="469.37" y="184.20" font-size="4.3" text-anchor="middle" font-family="Liberation Serif, serif" fill="#3a3a3a">400</text>
<path d="M482.06 178.50v-1.2M482.06 99.60v1.2" stroke="#a4a4a4" stroke-width="0.5"/>
<text x="482.06" y="184.20" font-size="4.3" text-anchor="middle" font-family="Liberation Serif, serif" fill="#3a3a3a">500</text>
<path d="M494.74 178.50v-1.2M494.74 99.60v1.2" stroke="#a4a4a4" stroke-width="0.5"/>
<text x="494.74" y="184.20" font-size="4.3" text-anchor="middle" font-family="Liberation Serif, serif" fill="#3a3a3a">600</text>
<path d="M507.43 178.50v-1.2M507.43 99.60v1.2" stroke="#a4a4a4" stroke-width="0.5"/>
<text x="507.43" y="184.20" font-size="4.3" text-anchor="middle" font-family="Liberation Serif, serif" fill="#3a3a3a">700</text>
<path d="M520.12 178.50v-1.2M520.12 99.60v1.2" stroke="#a4a4a4" stroke-width="0.5"/>
<text x="520.12" y="184.20" font-size="4.3" text-anchor="middle" font-family="Liberation Serif, serif" fill="#3a3a3a">800</text>
<path d="M532.81 178.50v-1.2M532.81 99.60v1.2" stroke="#a4a4a4" stroke-width="0.5"/>
<text x="532.81" y="184.20" font-size="4.3" text-anchor="middle" font-family="Liberation Serif, serif" fill="#3a3a3a">900</text>
<path d="M545.50 178.50v-1.2M545.50 99.60v1.2" stroke="#a4a4a4" stroke-width="0.5"/>
<text x="545.50" y="184.20" font-size="4.3" text-anchor="middle" font-family="Liberation Serif, serif" fill="#3a3a3a">1000</text>
<path d="M431.30 178.50h1.2M545.50 178.50h-1.2" stroke="#a4a4a4" stroke-width="0.5"/>
<text x="430.10" y="180.40" font-size="4.3" text-anchor="end" font-family="Liberation Serif, serif" fill="#3a3a3a">0.2</text>
<path d="M431.30 167.23h1.2M545.50 167.23h-1.2" stroke="#a4a4a4" stroke-width="0.5"/>
<text x="430.10" y="169.13" font-size="4.3" text-anchor="end" font-family="Liberation Serif, serif" fill="#3a3a3a">0.3</text>
<path d="M431.30 155.96h1.2M545.50 155.96h-1.2" stroke="#a4a4a4" stroke-width="0.5"/>
<text x="430.10" y="157.86" font-size="4.3" text-anchor="end" font-family="Liberation Serif, serif" fill="#3a3a3a">0.4</text>
<path d="M431.30 144.69h1.2M545.50 144.69h-1.2" stroke="#a4a4a4" stroke-width="0.5"/>
<text x="430.10" y="146.59" font-size="4.3" text-anchor="end" font-family="Liberation Serif, serif" fill="#3a3a3a">0.5</text>
<path d="M431.30 133.41h1.2M545.50 133.41h-1.2" stroke="#a4a4a4" stroke-width="0.5"/>
<text x="430.10" y="135.31" font-size="4.3" text-anchor="end" font-family="Liberation Serif, serif" fill="#3a3a3a">0.6</text>
<path d="M431.30 122.14h1.2M545.50 122.14h-1.2" stroke="#a4a4a4" stroke-width="0.5"/>
<text x="430.10" y="124.04" font-size="4.3" text-anchor="end" font-family="Liberation Serif, serif" fill="#3a3a3a">0.7</text>
<path d="M431.30 110.87h1.2M545.50 110.87h-1.2" stroke="#a4a4a4" stroke-width="0.5"/>
<text x="430.10" y="112.77" font-size="4.3" text-anchor="end" font-family="Liberation Serif, serif" fill="#3a3a3a">0.8</text>
<path d="M431.30 99.60h1.2M545.50 99.60h-1.2" stroke="#a4a4a4" stroke-width="0.5"/>
<text x="430.10" y="101.50" font-size="4.3" text-anchor="end" font-family="Liberation Serif, serif" fill="#3a3a3a">0.9</text>
<text x="0" y="0" transform="translate(488.40,189.80) scale(0.86,1)" font-size="5.40" text-anchor="middle" font-family="Liberation Serif, serif" fill="#222">Number of superpixels</text>
<text x="0" y="0" transform="translate(423.30,139.05) rotate(-90) scale(0.92,1)" font-size="5.40" text-anchor="middle" font-family="Liberation Serif, serif" fill="#222">UE</text>
<path d="M431.30 105.69 L443.99 113.80 L456.68 123.27 L469.37 123.27 L482.06 131.39 L494.74 133.41 L520.12 139.05 L545.50 146.26" fill="none" stroke="#2a2aff" stroke-width="0.9" stroke-linejoin="round"/>
<circle cx="431.30" cy="105.69" r="1.26" fill="#2a2aff"/>
<circle cx="443.99" cy="113.80" r="1.26" fill="#2a2aff"/>
<circle cx="456.68" cy="123.27" r="1.26" fill="#2a2aff"/>
<circle cx="469.37" cy="123.27" r="1.26" fill="#2a2aff"/>
<circle cx="482.06" cy="131.39" r="1.26" fill="#2a2aff"/>
<circle cx="494.74" cy="133.41" r="1.26" fill="#2a2aff"/>
<circle cx="520.12" cy="139.05" r="1.26" fill="#2a2aff"/>
<circle cx="545.50" cy="146.26" r="1.26" fill="#2a2aff"/>
<path d="M431.30 121.35 L443.99 134.09 L456.68 141.08 L469.37 149.76 L482.06 153.82 L494.74 157.87 L520.12 161.14 L545.50 165.99" fill="none" stroke="#ff20ff" stroke-width="0.9" stroke-linejoin="round"/>
<path d="M431.30 119.73L432.60 121.35L431.30 122.98L430.00 121.35Z" fill="#ff20ff"/>
<path d="M443.99 132.46L445.29 134.09L443.99 135.72L442.69 134.09Z" fill="#ff20ff"/>
<path d="M456.68 139.45L457.98 141.08L456.68 142.71L455.38 141.08Z" fill="#ff20ff"/>
<path d="M469.37 148.13L470.67 149.76L469.37 151.39L468.06 149.76Z" fill="#ff20ff"/>
<path d="M482.06 152.19L483.36 153.82L482.06 155.44L480.75 153.82Z" fill="#ff20ff"/>
<path d="M494.74 156.25L496.05 157.87L494.74 159.50L493.44 157.87Z" fill="#ff20ff"/>
<path d="M520.12 159.51L521.42 161.14L520.12 162.77L518.82 161.14Z" fill="#ff20ff"/>
<path d="M545.50 164.36L546.80 165.99L545.50 167.62L544.20 165.99Z" fill="#ff20ff"/>
<path d="M431.30 119.89 L443.99 133.41 L456.68 140.18 L469.37 149.19 L482.06 153.14 L494.74 157.08 L520.12 160.47 L545.50 166.66" fill="none" stroke="#2a2aff" stroke-width="0.9" stroke-dasharray="1.9 1.1" stroke-linejoin="round"/>
<path d="M431.30 123.27 L443.99 135.67 L456.68 143.00 L469.37 150.88 L482.06 154.83 L494.74 157.65 L520.12 161.03 L545.50 165.54" fill="none" stroke="#00e000" stroke-width="0.9" stroke-dasharray="1.9 1.1" stroke-linejoin="round"/>
<path d="M431.30 124.40 L443.99 137.92 L456.68 144.69 L469.37 151.45 L482.06 155.39 L494.74 159.34 L520.12 162.72 L545.50 167.23" fill="none" stroke="#00e000" stroke-width="0.9" stroke-linejoin="round"/>
<circle cx="431.30" cy="124.40" r="1.26" fill="#00e000"/>
<circle cx="443.99" cy="137.92" r="1.26" fill="#00e000"/>
<circle cx="456.68" cy="144.69" r="1.26" fill="#00e000"/>
<circle cx="469.37" cy="151.45" r="1.26" fill="#00e000"/>
<circle cx="482.06" cy="155.39" r="1.26" fill="#00e000"/>
<circle cx="494.74" cy="159.34" r="1.26" fill="#00e000"/>
<circle cx="520.12" cy="162.72" r="1.26" fill="#00e000"/>
<circle cx="545.50" cy="167.23" r="1.26" fill="#00e000"/>
<path d="M431.30 126.65 L443.99 140.18 L456.68 146.94 L469.37 153.70 L482.06 157.08 L494.74 161.03 L520.12 164.41 L545.50 168.92" fill="none" stroke="#b04c14" stroke-width="0.9" stroke-linejoin="round"/>
<circle cx="431.30" cy="126.65" r="1.12" fill="#b04c14"/>
<circle cx="443.99" cy="140.18" r="1.12" fill="#b04c14"/>
<circle cx="456.68" cy="146.94" r="1.12" fill="#b04c14"/>
<circle cx="469.37" cy="153.70" r="1.12" fill="#b04c14"/>
<circle cx="482.06" cy="157.08" r="1.12" fill="#b04c14"/>
<circle cx="494.74" cy="161.03" r="1.12" fill="#b04c14"/>
<circle cx="520.12" cy="164.41" r="1.12" fill="#b04c14"/>
<circle cx="545.50" cy="168.92" r="1.12" fill="#b04c14"/>
<path d="M431.30 128.91 L443.99 142.43 L456.68 149.19 L469.37 155.39 L482.06 158.78 L494.74 162.16 L520.12 165.54 L545.50 170.05" fill="none" stroke="#ff1a1a" stroke-width="0.9" stroke-dasharray="1.9 1.1" stroke-linejoin="round"/>
<path d="M431.30 133.87 L443.99 146.26 L456.68 153.70 L469.37 159.11 L482.06 161.82 L494.74 165.31 L520.12 169.03 L545.50 173.32" fill="none" stroke="#3a3a3a" stroke-width="0.9" stroke-linejoin="round"/>
<circle cx="431.30" cy="133.87" r="1.40" fill="#3a3a3a"/>
<circle cx="443.99" cy="146.26" r="1.40" fill="#3a3a3a"/>
<circle cx="456.68" cy="153.70" r="1.40" fill="#3a3a3a"/>
<circle cx="469.37" cy="159.11" r="1.40" fill="#3a3a3a"/>
<circle cx="482.06" cy="161.82" r="1.40" fill="#3a3a3a"/>
<circle cx="494.74" cy="165.31" r="1.40" fill="#3a3a3a"/>
<circle cx="520.12" cy="169.03" r="1.40" fill="#3a3a3a"/>
<circle cx="545.50" cy="173.32" r="1.40" fill="#3a3a3a"/>
<path d="M431.30 133.41 L443.99 145.81 L456.68 153.14 L469.37 158.78 L482.06 161.37 L494.74 164.97 L520.12 168.58 L545.50 172.86" fill="none" stroke="#000000" stroke-width="0.9" stroke-dasharray="1.9 1.1" stroke-linejoin="round"/>
<path d="M431.30 136.57 L443.99 150.10 L456.68 157.65 L469.37 162.61 L482.06 165.31 L494.74 167.90 L520.12 171.29 L545.50 175.23" fill="none" stroke="#ff1a1a" stroke-width="0.9" stroke-linejoin="round"/>
<circle cx="431.30" cy="136.57" r="1.26" fill="#ff1a1a"/>
<circle cx="443.99" cy="150.10" r="1.26" fill="#ff1a1a"/>
<circle cx="456.68" cy="157.65" r="1.26" fill="#ff1a1a"/>
<circle cx="469.37" cy="162.61" r="1.26" fill="#ff1a1a"/>
<circle cx="482.06" cy="165.31" r="1.26" fill="#ff1a1a"/>
<circle cx="494.74" cy="167.90" r="1.26" fill="#ff1a1a"/>
<circle cx="520.12" cy="171.29" r="1.26" fill="#ff1a1a"/>
<circle cx="545.50" cy="175.23" r="1.26" fill="#ff1a1a"/>
<rect x="495.40" y="155.50" width="25.20" height="18.40" fill="none" stroke="#555" stroke-width="0.5"/>
<rect x="491.30" y="103.40" width="50.20" height="42.80" fill="#fff" stroke="#444" stroke-width="0.6"/>
<clipPath id="c1211"><rect x="491.30" y="103.40" width="50.20" height="42.80"/></clipPath>
<g clip-path="url(#c1211)">
<path d="M491.30 104.00 L541.50 114.30" fill="none" stroke="#00e000" stroke-width="0.8" stroke-dasharray="1.9 1.1" stroke-linejoin="round"/>
<path d="M491.30 106.10 L541.50 115.60" fill="none" stroke="#ff20ff" stroke-width="0.8" stroke-linejoin="round"/>
<path d="M491.30 110.20 L541.50 121.00" fill="none" stroke="#2a2aff" stroke-width="0.8" stroke-dasharray="1.9 1.1" stroke-linejoin="round"/>
<path d="M491.30 112.90 L541.50 123.70" fill="none" stroke="#00e000" stroke-width="0.8" stroke-linejoin="round"/>
<path d="M491.30 116.40 L541.50 127.30" fill="none" stroke="#b04c14" stroke-width="0.8" stroke-linejoin="round"/>
<path d="M491.30 119.70 L541.50 127.80" fill="none" stroke="#ff1a1a" stroke-width="0.8" stroke-dasharray="1.9 1.1" stroke-linejoin="round"/>
<path d="M491.30 127.50 L541.50 137.80" fill="none" stroke="#000000" stroke-width="0.8" stroke-dasharray="1.9 1.1" stroke-linejoin="round"/>
<path d="M491.30 127.80 L541.50 137.30" fill="none" stroke="#3a3a3a" stroke-width="0.8" stroke-linejoin="round"/>
<path d="M491.30 135.40 L541.50 145.40" fill="none" stroke="#ff1a1a" stroke-width="0.8" stroke-linejoin="round"/>
</g>
<circle cx="491.30" cy="104.00" r="1.26" fill="#00e000"/>
<circle cx="541.50" cy="114.30" r="1.26" fill="#00e000"/>
<path d="M491.30 104.64L492.47 106.10L491.30 107.56L490.13 106.10Z" fill="#ff20ff"/>
<path d="M541.50 114.14L542.67 115.60L541.50 117.06L540.33 115.60Z" fill="#ff20ff"/>
<circle cx="491.30" cy="110.20" r="1.26" fill="#2a2aff"/>
<circle cx="541.50" cy="121.00" r="1.26" fill="#2a2aff"/>
<circle cx="491.30" cy="112.90" r="1.26" fill="#00e000"/>
<circle cx="541.50" cy="123.70" r="1.26" fill="#00e000"/>
<circle cx="491.30" cy="116.40" r="1.26" fill="#b04c14"/>
<circle cx="541.50" cy="127.30" r="1.26" fill="#b04c14"/>
<rect x="490.11" y="118.51" width="2.37" height="2.37" fill="none" stroke="#ff1a1a" stroke-width="0.55"/>
<rect x="540.31" y="126.61" width="2.37" height="2.37" fill="none" stroke="#ff1a1a" stroke-width="0.55"/>
<path d="M491.30 126.04L492.47 127.50L491.30 128.96L490.13 127.50Z" fill="none" stroke="#000000" stroke-width="0.6"/>
<path d="M541.50 136.34L542.67 137.80L541.50 139.26L540.33 137.80Z" fill="none" stroke="#000000" stroke-width="0.6"/>
<circle cx="491.30" cy="127.80" r="1.26" fill="#3a3a3a"/>
<circle cx="541.50" cy="137.30" r="1.26" fill="#3a3a3a"/>
<circle cx="491.30" cy="135.40" r="1.26" fill="#ff1a1a"/>
<circle cx="541.50" cy="145.40" r="1.26" fill="#ff1a1a"/>
<rect x="570.30" y="99.60" width="113.70" height="78.90" fill="none" stroke="#a4a4a4" stroke-width="0.85"/>
<path d="M570.30 178.50v-1.2M570.30 99.60v1.2" stroke="#a4a4a4" stroke-width="0.5"/>
<text x="570.30" y="184.20" font-size="4.3" text-anchor="middle" font-family="Liberation Serif, serif" fill="#3a3a3a">100</text>
<path d="M582.93 178.50v-1.2M582.93 99.60v1.2" stroke="#a4a4a4" stroke-width="0.5"/>
<text x="582.93" y="184.20" font-size="4.3" text-anchor="middle" font-family="Liberation Serif, serif" fill="#3a3a3a">200</text>
<path d="M595.57 178.50v-1.2M595.57 99.60v1.2" stroke="#a4a4a4" stroke-width="0.5"/>
<text x="595.57" y="184.20" font-size="4.3" text-anchor="middle" font-family="Liberation Serif, serif" fill="#3a3a3a">300</text>
<path d="M608.20 178.50v-1.2M608.20 99.60v1.2" stroke="#a4a4a4" stroke-width="0.5"/>
<text x="608.20" y="184.20" font-size="4.3" text-anchor="middle" font-family="Liberation Serif, serif" fill="#3a3a3a">400</text>
<path d="M620.83 178.50v-1.2M620.83 99.60v1.2" stroke="#a4a4a4" stroke-width="0.5"/>
<text x="620.83" y="184.20" font-size="4.3" text-anchor="middle" font-family="Liberation Serif, serif" fill="#3a3a3a">500</text>
<path d="M633.47 178.50v-1.2M633.47 99.60v1.2" stroke="#a4a4a4" stroke-width="0.5"/>
<text x="633.47" y="184.20" font-size="4.3" text-anchor="middle" font-family="Liberation Serif, serif" fill="#3a3a3a">600</text>
<path d="M646.10 178.50v-1.2M646.10 99.60v1.2" stroke="#a4a4a4" stroke-width="0.5"/>
<text x="646.10" y="184.20" font-size="4.3" text-anchor="middle" font-family="Liberation Serif, serif" fill="#3a3a3a">700</text>
<path d="M658.73 178.50v-1.2M658.73 99.60v1.2" stroke="#a4a4a4" stroke-width="0.5"/>
<text x="658.73" y="184.20" font-size="4.3" text-anchor="middle" font-family="Liberation Serif, serif" fill="#3a3a3a">800</text>
<path d="M671.37 178.50v-1.2M671.37 99.60v1.2" stroke="#a4a4a4" stroke-width="0.5"/>
<text x="671.37" y="184.20" font-size="4.3" text-anchor="middle" font-family="Liberation Serif, serif" fill="#3a3a3a">900</text>
<path d="M684.00 178.50v-1.2M684.00 99.60v1.2" stroke="#a4a4a4" stroke-width="0.5"/>
<text x="684.00" y="184.20" font-size="4.3" text-anchor="middle" font-family="Liberation Serif, serif" fill="#3a3a3a">1000</text>
<path d="M570.30 178.50h1.2M684.00 178.50h-1.2" stroke="#a4a4a4" stroke-width="0.5"/>
<text x="569.10" y="180.40" font-size="4.3" text-anchor="end" font-family="Liberation Serif, serif" fill="#3a3a3a">0.2</text>
<path d="M570.30 165.35h1.2M684.00 165.35h-1.2" stroke="#a4a4a4" stroke-width="0.5"/>
<text x="569.10" y="167.25" font-size="4.3" text-anchor="end" font-family="Liberation Serif, serif" fill="#3a3a3a">0.3</text>
<path d="M570.30 152.20h1.2M684.00 152.20h-1.2" stroke="#a4a4a4" stroke-width="0.5"/>
<text x="569.10" y="154.10" font-size="4.3" text-anchor="end" font-family="Liberation Serif, serif" fill="#3a3a3a">0.4</text>
<path d="M570.30 139.05h1.2M684.00 139.05h-1.2" stroke="#a4a4a4" stroke-width="0.5"/>
<text x="569.10" y="140.95" font-size="4.3" text-anchor="end" font-family="Liberation Serif, serif" fill="#3a3a3a">0.5</text>
<path d="M570.30 125.90h1.2M684.00 125.90h-1.2" stroke="#a4a4a4" stroke-width="0.5"/>
<text x="569.10" y="127.80" font-size="4.3" text-anchor="end" font-family="Liberation Serif, serif" fill="#3a3a3a">0.6</text>
<path d="M570.30 112.75h1.2M684.00 112.75h-1.2" stroke="#a4a4a4" stroke-width="0.5"/>
<text x="569.10" y="114.65" font-size="4.3" text-anchor="end" font-family="Liberation Serif, serif" fill="#3a3a3a">0.7</text>
<path d="M570.30 99.60h1.2M684.00 99.60h-1.2" stroke="#a4a4a4" stroke-width="0.5"/>
<text x="569.10" y="101.50" font-size="4.3" text-anchor="end" font-family="Liberation Serif, serif" fill="#3a3a3a">0.8</text>
<text x="0" y="0" transform="translate(627.15,189.80) scale(0.86,1)" font-size="5.40" text-anchor="middle" font-family="Liberation Serif, serif" fill="#222">Number of superpixels</text>
<text x="0" y="0" transform="translate(562.30,139.05) rotate(-90) scale(0.92,1)" font-size="5.40" text-anchor="middle" font-family="Liberation Serif, serif" fill="#222">UE</text>
<path d="M570.30 126.03 L582.93 140.10 L595.57 147.60 L608.20 154.04 L620.83 157.07 L633.47 161.41 L658.73 165.61 L684.00 170.61" fill="none" stroke="#3a3a3a" stroke-width="0.9" stroke-linejoin="round"/>
<circle cx="570.30" cy="126.03" r="1.40" fill="#3a3a3a"/>
<circle cx="582.93" cy="140.10" r="1.40" fill="#3a3a3a"/>
<circle cx="595.57" cy="147.60" r="1.40" fill="#3a3a3a"/>
<circle cx="608.20" cy="154.04" r="1.40" fill="#3a3a3a"/>
<circle cx="620.83" cy="157.07" r="1.40" fill="#3a3a3a"/>
<circle cx="633.47" cy="161.41" r="1.40" fill="#3a3a3a"/>
<circle cx="658.73" cy="165.61" r="1.40" fill="#3a3a3a"/>
<circle cx="684.00" cy="170.61" r="1.40" fill="#3a3a3a"/>
<path d="M570.30 125.51 L582.93 139.31 L595.57 146.94 L608.20 153.25 L620.83 156.41 L633.47 160.62 L658.73 164.82 L684.00 169.82" fill="none" stroke="#000000" stroke-width="0.9" stroke-dasharray="1.9 1.1" stroke-linejoin="round"/>
<path d="M570.30 123.88L571.60 125.51L570.30 127.13L569.00 125.51Z" fill="none" stroke="#000000" stroke-width="0.6"/>
<path d="M582.93 137.69L584.24 139.31L582.93 140.94L581.63 139.31Z" fill="none" stroke="#000000" stroke-width="0.6"/>
<path d="M595.57 145.31L596.87 146.94L595.57 148.57L594.26 146.94Z" fill="none" stroke="#000000" stroke-width="0.6"/>
<path d="M608.20 151.62L609.50 153.25L608.20 154.88L606.90 153.25Z" fill="none" stroke="#000000" stroke-width="0.6"/>
<path d="M620.83 154.78L622.14 156.41L620.83 158.04L619.53 156.41Z" fill="none" stroke="#000000" stroke-width="0.6"/>
<path d="M633.47 158.99L634.77 160.62L633.47 162.24L632.16 160.62Z" fill="none" stroke="#000000" stroke-width="0.6"/>
<path d="M658.73 163.20L660.04 164.82L658.73 166.45L657.43 164.82Z" fill="none" stroke="#000000" stroke-width="0.6"/>
<path d="M684.00 168.19L685.30 169.82L684.00 171.45L682.70 169.82Z" fill="none" stroke="#000000" stroke-width="0.6"/>
<path d="M570.30 124.59 L582.93 138.39 L595.57 146.28 L608.20 152.46 L620.83 155.88 L633.47 160.09 L658.73 164.03 L684.00 168.64" fill="none" stroke="#2a2aff" stroke-width="0.9" stroke-dasharray="1.9 1.1" stroke-linejoin="round"/>
<path d="M570.30 123.27 L582.93 137.74 L595.57 144.97 L608.20 151.15 L620.83 154.17 L633.47 158.51 L658.73 162.46 L684.00 166.66" fill="none" stroke="#00e000" stroke-width="0.9" stroke-dasharray="1.9 1.1" stroke-linejoin="round"/>
<circle cx="570.30" cy="123.27" r="0.98" fill="#00e000"/>
<circle cx="582.93" cy="137.74" r="0.98" fill="#00e000"/>
<circle cx="595.57" cy="144.97" r="0.98" fill="#00e000"/>
<circle cx="608.20" cy="151.15" r="0.98" fill="#00e000"/>
<circle cx="620.83" cy="154.17" r="0.98" fill="#00e000"/>
<circle cx="633.47" cy="158.51" r="0.98" fill="#00e000"/>
<circle cx="658.73" cy="162.46" r="0.98" fill="#00e000"/>
<circle cx="684.00" cy="166.66" r="0.98" fill="#00e000"/>
<path d="M570.30 119.98 L582.93 134.32 L595.57 143.00 L608.20 148.52 L620.83 152.20 L633.47 156.41 L658.73 160.75 L684.00 165.35" fill="none" stroke="#ff1a1a" stroke-width="0.9" stroke-linejoin="round"/>
<circle cx="570.30" cy="119.98" r="1.26" fill="#ff1a1a"/>
<circle cx="582.93" cy="134.32" r="1.26" fill="#ff1a1a"/>
<circle cx="595.57" cy="143.00" r="1.26" fill="#ff1a1a"/>
<circle cx="608.20" cy="148.52" r="1.26" fill="#ff1a1a"/>
<circle cx="620.83" cy="152.20" r="1.26" fill="#ff1a1a"/>
<circle cx="633.47" cy="156.41" r="1.26" fill="#ff1a1a"/>
<circle cx="658.73" cy="160.75" r="1.26" fill="#ff1a1a"/>
<circle cx="684.00" cy="165.35" r="1.26" fill="#ff1a1a"/>
<path d="M570.30 118.01 L582.93 132.47 L595.57 141.42 L608.20 146.94 L620.83 150.89 L633.47 154.57 L658.73 158.25 L684.00 160.75" fill="none" stroke="#ff1a1a" stroke-width="0.9" stroke-dasharray="1.9 1.1" stroke-linejoin="round"/>
<rect x="569.11" y="116.82" width="2.37" height="2.37" fill="none" stroke="#ff1a1a" stroke-width="0.55"/>
<rect x="581.75" y="131.29" width="2.37" height="2.37" fill="none" stroke="#ff1a1a" stroke-width="0.55"/>
<rect x="594.38" y="140.23" width="2.37" height="2.37" fill="none" stroke="#ff1a1a" stroke-width="0.55"/>
<rect x="607.01" y="145.75" width="2.37" height="2.37" fill="none" stroke="#ff1a1a" stroke-width="0.55"/>
<rect x="619.65" y="149.70" width="2.37" height="2.37" fill="none" stroke="#ff1a1a" stroke-width="0.55"/>
<rect x="632.28" y="153.38" width="2.37" height="2.37" fill="none" stroke="#ff1a1a" stroke-width="0.55"/>
<rect x="657.55" y="157.06" width="2.37" height="2.37" fill="none" stroke="#ff1a1a" stroke-width="0.55"/>
<rect x="682.81" y="159.56" width="2.37" height="2.37" fill="none" stroke="#ff1a1a" stroke-width="0.55"/>
<path d="M570.30 116.17 L582.93 131.03 L595.57 140.10 L608.20 145.89 L620.83 150.36 L633.47 154.04 L658.73 157.46 L684.00 162.46" fill="none" stroke="#b04c14" stroke-width="0.9" stroke-linejoin="round"/>
<circle cx="570.30" cy="116.17" r="1.12" fill="#b04c14"/>
<circle cx="582.93" cy="131.03" r="1.12" fill="#b04c14"/>
<circle cx="595.57" cy="140.10" r="1.12" fill="#b04c14"/>
<circle cx="608.20" cy="145.89" r="1.12" fill="#b04c14"/>
<circle cx="620.83" cy="150.36" r="1.12" fill="#b04c14"/>
<circle cx="633.47" cy="154.04" r="1.12" fill="#b04c14"/>
<circle cx="658.73" cy="157.46" r="1.12" fill="#b04c14"/>
<circle cx="684.00" cy="162.46" r="1.12" fill="#b04c14"/>
<path d="M570.30 106.83 L582.93 121.17 L595.57 130.63 L608.20 136.42 L620.83 141.42 L633.47 144.57 L658.73 149.57 L684.00 155.09" fill="none" stroke="#00e000" stroke-width="0.9" stroke-linejoin="round"/>
<circle cx="570.30" cy="106.83" r="1.26" fill="#00e000"/>
<circle cx="582.93" cy="121.17" r="1.26" fill="#00e000"/>
<circle cx="595.57" cy="130.63" r="1.26" fill="#00e000"/>
<circle cx="608.20" cy="136.42" r="1.26" fill="#00e000"/>
<circle cx="620.83" cy="141.42" r="1.26" fill="#00e000"/>
<circle cx="633.47" cy="144.57" r="1.26" fill="#00e000"/>
<circle cx="658.73" cy="149.57" r="1.26" fill="#00e000"/>
<circle cx="684.00" cy="155.09" r="1.26" fill="#00e000"/>
<path d="M570.30 103.55 L582.93 118.01 L595.57 128.53 L608.20 135.11 L620.83 140.37 L633.47 143.65 L658.73 148.91 L684.00 154.57" fill="none" stroke="#ff20ff" stroke-width="0.9" stroke-linejoin="round"/>
<path d="M570.30 101.92L571.60 103.55L570.30 105.17L569.00 103.55Z" fill="#ff20ff"/>
<path d="M582.93 116.38L584.24 118.01L582.93 119.64L581.63 118.01Z" fill="#ff20ff"/>
<path d="M595.57 126.90L596.87 128.53L595.57 130.16L594.26 128.53Z" fill="#ff20ff"/>
<path d="M608.20 133.48L609.50 135.11L608.20 136.73L606.90 135.11Z" fill="#ff20ff"/>
<path d="M620.83 138.74L622.14 140.37L620.83 141.99L619.53 140.37Z" fill="#ff20ff"/>
<path d="M633.47 142.03L634.77 143.65L633.47 145.28L632.16 143.65Z" fill="#ff20ff"/>
<path d="M658.73 147.28L660.04 148.91L658.73 150.54L657.43 148.91Z" fill="#ff20ff"/>
<path d="M684.00 152.94L685.30 154.57L684.00 156.19L682.70 154.57Z" fill="#ff20ff"/>
<path d="M570.30 103.28 L582.93 118.01 L595.57 127.87 L608.20 132.21 L620.83 138.00 L633.47 142.21 L658.73 148.39 L684.00 154.57" fill="none" stroke="#2a2aff" stroke-width="0.9" stroke-linejoin="round"/>
<circle cx="570.30" cy="103.28" r="1.12" fill="#2a2aff"/>
<circle cx="582.93" cy="118.01" r="1.12" fill="#2a2aff"/>
<circle cx="595.57" cy="127.87" r="1.12" fill="#2a2aff"/>
<circle cx="608.20" cy="132.21" r="1.12" fill="#2a2aff"/>
<circle cx="620.83" cy="138.00" r="1.12" fill="#2a2aff"/>
<circle cx="633.47" cy="142.21" r="1.12" fill="#2a2aff"/>
<circle cx="658.73" cy="148.39" r="1.12" fill="#2a2aff"/>
<circle cx="684.00" cy="154.57" r="1.12" fill="#2a2aff"/>
<rect x="620.80" y="150.30" width="12.80" height="14.10" fill="none" stroke="#555" stroke-width="0.5"/>
<rect x="641.70" y="102.90" width="36.90" height="39.00" fill="#fff" stroke="#444" stroke-width="0.6"/>
<clipPath id="c1362"><rect x="641.70" y="102.90" width="36.90" height="39.00"/></clipPath>
<g clip-path="url(#c1362)">
<path d="M641.70 103.80 L678.60 116.00" fill="none" stroke="#ff1a1a" stroke-width="0.8" stroke-linejoin="round"/>
<path d="M641.70 103.40 L678.60 116.40" fill="none" stroke="#b04c14" stroke-width="0.8" stroke-linejoin="round"/>
<path d="M641.70 112.90 L678.60 122.90" fill="none" stroke="#00e000" stroke-width="0.8" stroke-dasharray="1.9 1.1" stroke-linejoin="round"/>
<path d="M641.70 118.80 L678.60 129.00" fill="none" stroke="#ff20ff" stroke-width="0.8" stroke-linejoin="round"/>
<path d="M641.70 118.30 L678.60 129.20" fill="none" stroke="#ff1a1a" stroke-width="0.8" stroke-linejoin="round"/>
<path d="M641.70 121.00 L678.60 133.80" fill="none" stroke="#2a2aff" stroke-width="0.8" stroke-dasharray="1.9 1.1" stroke-linejoin="round"/>
<path d="M641.70 122.90 L678.60 138.10" fill="none" stroke="#000000" stroke-width="0.8" stroke-dasharray="1.9 1.1" stroke-linejoin="round"/>
<path d="M641.70 124.60 L678.60 140.00" fill="none" stroke="#3a3a3a" stroke-width="0.8" stroke-linejoin="round"/>
</g>
<circle cx="641.70" cy="103.80" r="1.26" fill="#ff1a1a"/>
<circle cx="678.60" cy="116.00" r="1.26" fill="#ff1a1a"/>
<circle cx="641.70" cy="103.40" r="1.26" fill="#b04c14"/>
<circle cx="678.60" cy="116.40" r="1.26" fill="#b04c14"/>
<circle cx="641.70" cy="112.90" r="1.26" fill="#00e000"/>
<circle cx="678.60" cy="122.90" r="1.26" fill="#00e000"/>
<path d="M641.70 117.34L642.87 118.80L641.70 120.26L640.53 118.80Z" fill="#ff20ff"/>
<path d="M678.60 127.54L679.77 129.00L678.60 130.46L677.43 129.00Z" fill="#ff20ff"/>
<circle cx="641.70" cy="118.30" r="1.26" fill="#ff1a1a"/>
<circle cx="678.60" cy="129.20" r="1.26" fill="#ff1a1a"/>
<circle cx="641.70" cy="121.00" r="1.26" fill="#2a2aff"/>
<circle cx="678.60" cy="133.80" r="1.26" fill="#2a2aff"/>
<path d="M641.70 121.44L642.87 122.90L641.70 124.36L640.53 122.90Z" fill="none" stroke="#000000" stroke-width="0.6"/>
<path d="M678.60 136.64L679.77 138.10L678.60 139.56L677.43 138.10Z" fill="none" stroke="#000000" stroke-width="0.6"/>
<circle cx="641.70" cy="124.60" r="1.26" fill="#3a3a3a"/>
<circle cx="678.60" cy="140.00" r="1.26" fill="#3a3a3a"/>
<rect x="707.6" y="99.4" width="115.60" height="76.90" fill="none" stroke="#a4a4a4" stroke-width="0.6"/>
<path d="M707.60 176.3v-1.2M707.60 99.4v1.2" stroke="#a4a4a4" stroke-width="0.5"/>
<text x="707.60" y="181.80" font-size="4.3" text-anchor="middle" font-family="Liberation Serif, serif" fill="#1a1a1a">0</text>
<path d="M730.72 176.3v-1.2M730.72 99.4v1.2" stroke="#a4a4a4" stroke-width="0.5"/>
<text x="730.72" y="181.80" font-size="4.3" text-anchor="middle" font-family="Liberation Serif, serif" fill="#1a1a1a">100</text>
<path d="M753.84 176.3v-1.2M753.84 99.4v1.2" stroke="#a4a4a4" stroke-width="0.5"/>
<text x="753.84" y="181.80" font-size="4.3" text-anchor="middle" font-family="Liberation Serif, serif" fill="#1a1a1a">200</text>
<path d="M776.96 176.3v-1.2M776.96 99.4v1.2" stroke="#a4a4a4" stroke-width="0.5"/>
<text x="776.96" y="181.80" font-size="4.3" text-anchor="middle" font-family="Liberation Serif, serif" fill="#1a1a1a">300</text>
<path d="M800.08 176.3v-1.2M800.08 99.4v1.2" stroke="#a4a4a4" stroke-width="0.5"/>
<text x="800.08" y="181.80" font-size="4.3" text-anchor="middle" font-family="Liberation Serif, serif" fill="#1a1a1a">400</text>
<path d="M823.20 176.3v-1.2M823.20 99.4v1.2" stroke="#a4a4a4" stroke-width="0.5"/>
<text x="823.20" y="181.80" font-size="4.3" text-anchor="middle" font-family="Liberation Serif, serif" fill="#1a1a1a">500</text>
<text transform="translate(766.2,185.9) scale(0.8,1)" font-size="5.2" text-anchor="middle" font-family="Liberation Serif, serif" fill="#222">Image index</text>
<text transform="translate(702.6,137.2) rotate(-90)" font-size="5.1" text-anchor="middle" font-family="Liberation Serif, serif" fill="#444">Fluctuation of superpixel number</text>
<path d="M707.60 102.70h1.2M823.20 102.70h-1.2" stroke="#a4a4a4" stroke-width="0.5"/>
<path d="M707.60 102.70H823.20" stroke="#c8825a" stroke-width="1.5"/>
<rect x="812.65" y="101.20" width="8.55" height="3.0" fill="#fff" stroke="#666" stroke-width="0.4"/>
<path d="M813.35 102.70h2.8" stroke="#c8825a" stroke-width="0.6"/>
<text x="816.55" y="103.50" font-size="2.3" font-family="Liberation Serif, serif" fill="#444">ERS</text>
<path d="M707.60 108.60h1.2M823.20 108.60h-1.2" stroke="#a4a4a4" stroke-width="0.5"/>
<path d="M707.60 108.53 L708.18 108.49 L708.76 108.61 L709.33 108.47 L709.91 108.58 L710.49 108.54 L711.07 108.46 L711.65 108.57 L712.22 108.46 L712.80 108.55 L713.38 108.47 L713.96 108.47 L714.54 108.55 L715.11 108.65 L715.69 108.48 L716.27 108.50 L716.85 108.60 L717.43 108.68 L718.00 108.59 L718.58 108.55 L719.16 108.68 L719.74 108.46 L720.32 108.66 L720.89 108.52 L721.47 108.48 L722.05 108.48 L722.63 108.52 L723.21 108.65 L723.78 108.49 L724.36 108.59 L724.94 108.60 L725.52 108.54 L726.10 108.58 L726.67 108.47 L727.25 108.46 L727.83 108.50 L728.41 108.61 L728.99 108.55 L729.56 108.53 L730.14 108.59 L730.72 108.56 L731.30 108.52 L731.88 108.64 L732.45 108.62 L733.03 108.51 L733.61 108.59 L734.19 108.58 L734.77 108.66 L735.34 108.63 L735.92 108.52 L736.50 108.69 L737.08 108.48 L737.66 108.55 L738.23 108.63 L738.81 108.49 L739.39 108.57 L739.97 108.46 L740.55 108.61 L741.12 108.63 L741.70 108.59 L742.28 108.66 L742.86 108.53 L743.44 108.62 L744.01 108.59 L744.59 108.59 L745.17 108.56 L745.75 108.65 L746.33 108.68 L746.90 108.56 L747.48 108.61 L748.06 108.46 L748.64 108.62 L749.22 108.61 L749.79 108.69 L750.37 108.65 L750.95 108.52 L751.53 108.54 L752.11 108.61 L752.68 108.46 L753.26 108.56 L753.84 108.49 L754.42 108.48 L755.00 108.46 L755.57 108.63 L756.15 108.48 L756.73 108.51 L757.31 108.54 L757.89 108.66 L758.46 108.47 L759.04 108.56 L759.62 108.58 L760.20 108.66 L760.78 108.65 L761.35 108.66 L761.93 108.52 L762.51 108.55 L763.09 108.54 L763.67 108.66 L764.24 108.68 L764.82 108.49 L765.40 108.49 L765.98 108.51 L766.56 108.51 L767.13 108.57 L767.71 108.59 L768.29 108.51 L768.87 108.45 L769.45 108.55 L770.02 108.54 L770.60 108.59 L771.18 108.68 L771.76 108.62 L772.34 108.57 L772.91 108.60 L773.49 108.61 L774.07 108.46 L774.65 108.67 L775.23 108.64 L775.80 108.66 L776.38 108.64 L776.96 108.54 L777.54 108.55 L778.12 108.47 L778.69 108.60 L779.27 108.46 L779.85 108.47 L780.43 108.50 L781.01 108.49 L781.58 108.53 L782.16 108.46 L782.74 108.45 L783.32 108.49 L783.90 108.47 L784.47 108.54 L785.05 108.46 L785.63 108.66 L786.21 108.60 L786.79 108.49 L787.36 108.51 L787.94 108.53 L788.52 108.54 L789.10 108.48 L789.68 108.65 L790.25 108.69 L790.83 108.56 L791.41 108.57 L791.99 108.47 L792.57 108.47 L793.14 108.53 L793.72 108.51 L794.30 108.65 L794.88 108.49 L795.46 108.46 L796.03 108.68 L796.61 108.58 L797.19 108.49 L797.77 108.58 L798.35 108.46 L798.92 108.58 L799.50 108.68 L800.08 108.66 L800.66 108.62 L801.24 108.51 L801.81 108.54 L802.39 108.49 L802.97 108.64 L803.55 108.58 L804.13 108.64 L804.70 108.53 L805.28 108.50 L805.86 108.64 L806.44 108.69 L807.02 108.65 L807.59 108.64 L808.17 108.65 L808.75 108.63 L809.33 108.50 L809.91 108.57 L810.48 108.54 L811.06 108.46 L811.64 108.46 L812.22 108.52 L812.80 108.51 L813.37 108.62 L813.95 108.68 L814.53 108.56 L815.11 108.67 L815.69 108.69 L816.26 108.68 L816.84 108.54 L817.42 108.50 L818.00 108.50 L818.58 108.50 L819.15 108.50 L819.73 108.60 L820.31 108.67 L820.89 108.65 L821.47 108.57 L822.04 108.61 L822.62 108.64 L823.20 108.47" fill="none" stroke="#3a3a3a" stroke-width="1.4"/>
<rect x="803.20" y="107.10" width="18.00" height="3.0" fill="#fff" stroke="#666" stroke-width="0.4"/>
<path d="M803.90 108.60h2.8" stroke="#3a3a3a" stroke-width="0.6"/>
<text x="807.10" y="109.40" font-size="2.3" font-family="Liberation Serif, serif" fill="#444">Fuzzy SLIC</text>
<path d="M707.60 117.50h1.2M823.20 117.50h-1.2" stroke="#a4a4a4" stroke-width="0.5"/>
<path d="M707.60 117.50H823.20" stroke="#000000" stroke-width="1.4"/>
<rect x="800.50" y="116.00" width="20.70" height="3.0" fill="#fff" stroke="#666" stroke-width="0.4"/>
<path d="M801.20 117.50h2.8" stroke="#000000" stroke-width="0.6"/>
<text x="804.40" y="118.30" font-size="2.3" font-family="Liberation Serif, serif" fill="#444">Fuzzy SLICNC</text>
<path d="M707.60 124.00h1.2M823.20 124.00h-1.2" stroke="#a4a4a4" stroke-width="0.5"/>
<path d="M707.60 124.02 L708.18 124.14 L708.76 124.08 L709.33 124.06 L709.91 123.93 L710.49 123.79 L711.07 124.08 L711.65 123.86 L712.22 124.08 L712.80 124.17 L713.38 123.89 L713.96 123.89 L714.54 124.15 L715.11 124.05 L715.69 123.78 L716.27 123.76 L716.85 123.77 L717.43 124.13 L718.00 124.09 L718.58 123.77 L719.16 124.10 L719.74 124.17 L720.32 124.02 L720.89 123.87 L721.47 123.96 L722.05 123.76 L722.63 123.71 L723.21 124.17 L723.78 124.01 L724.36 123.95 L724.94 124.15 L725.52 123.91 L726.10 124.12 L726.67 124.10 L727.25 123.80 L727.83 123.82 L728.41 123.84 L728.99 123.82 L729.56 123.98 L730.14 123.82 L730.72 123.90 L731.30 123.76 L731.88 124.14 L732.45 123.87 L733.03 123.92 L733.61 123.98 L734.19 124.13 L734.77 123.90 L735.34 124.14 L735.92 123.94 L736.50 123.96 L737.08 123.95 L737.66 123.71 L738.23 123.91 L738.81 123.79 L739.39 123.70 L739.97 124.08 L740.55 123.78 L741.12 123.93 L741.70 124.05 L742.28 123.97 L742.86 123.86 L743.44 123.95 L744.01 123.97 L744.59 124.08 L745.17 123.75 L745.75 123.97 L746.33 123.82 L746.90 123.83 L747.48 124.07 L748.06 123.94 L748.64 123.97 L749.22 124.06 L749.79 124.14 L750.37 123.91 L750.95 123.99 L751.53 123.94 L752.11 123.95 L752.68 124.03 L753.26 123.92 L753.84 123.96 L754.42 123.93 L755.00 124.15 L755.57 124.04 L756.15 124.12 L756.73 124.15 L757.31 123.82 L757.89 123.97 L758.46 124.15 L759.04 124.10 L759.62 123.77 L760.20 123.76 L760.78 123.91 L761.35 123.73 L761.93 123.82 L762.51 123.74 L763.09 124.02 L763.67 124.08 L764.24 124.13 L764.82 123.77 L765.40 124.04 L765.98 124.02 L766.56 123.77 L767.13 124.12 L767.71 124.16 L768.29 123.81 L768.87 124.16 L769.45 123.89 L770.02 123.93 L770.60 124.18 L771.18 124.10 L771.76 123.78 L772.34 123.91 L772.91 123.95 L773.49 123.86 L774.07 123.79 L774.65 123.85 L775.23 124.05 L775.80 123.71 L776.38 123.97 L776.96 123.91 L777.54 123.71 L778.12 123.86 L778.69 124.00 L779.27 123.95 L779.85 123.73 L780.43 124.17 L781.01 124.08 L781.58 124.17 L782.16 123.75 L782.74 123.83 L783.32 123.72 L783.90 124.07 L784.47 123.83 L785.05 123.76 L785.63 123.90 L786.21 124.14 L786.79 124.09 L787.36 123.82 L787.94 123.77 L788.52 124.14 L789.10 123.97 L789.68 124.04 L790.25 123.74 L790.83 123.73 L791.41 124.03 L791.99 123.90 L792.57 123.73 L793.14 124.15 L793.72 124.00 L794.30 124.08 L794.88 123.74 L795.46 124.11 L796.03 123.73 L796.61 124.11 L797.19 123.92 L797.77 123.86 L798.35 123.97 L798.92 124.14 L799.50 123.83 L800.08 123.76 L800.66 123.95 L801.24 123.81 L801.81 123.75 L802.39 123.78 L802.97 123.72 L803.55 123.80 L804.13 123.85 L804.70 123.85 L805.28 124.06 L805.86 123.84 L806.44 123.94 L807.02 123.79 L807.59 123.87 L808.17 123.71 L808.75 123.82 L809.33 123.71 L809.91 124.05 L810.48 123.96 L811.06 123.79 L811.64 123.93 L812.22 124.15 L812.80 123.75 L813.37 124.09 L813.95 123.91 L814.53 123.94 L815.11 124.10 L815.69 123.89 L816.26 123.94 L816.84 124.03 L817.42 124.17 L818.00 123.86 L818.58 124.10 L819.15 124.04 L819.73 124.01 L820.31 123.89 L820.89 123.87 L821.47 123.73 L822.04 123.76 L822.62 123.73 L823.20 124.06" fill="none" stroke="#00e000" stroke-width="1.2"/>
<rect x="812.65" y="122.50" width="8.55" height="3.0" fill="#fff" stroke="#666" stroke-width="0.4"/>
<path d="M813.35 124.00h2.8" stroke="#00e000" stroke-width="0.6"/>
<text x="816.55" y="124.80" font-size="2.3" font-family="Liberation Serif, serif" fill="#444">LSC</text>
<path d="M707.60 132.30h1.2M823.20 132.30h-1.2" stroke="#a4a4a4" stroke-width="0.5"/>
<path d="M707.60 132.30H823.20" stroke="#00e000" stroke-width="1.2"/>
<rect x="809.95" y="130.80" width="11.25" height="3.0" fill="#fff" stroke="#666" stroke-width="0.4"/>
<path d="M810.65 132.30h2.8" stroke="#00e000" stroke-width="0.6"/>
<text x="813.85" y="133.10" font-size="2.3" font-family="Liberation Serif, serif" fill="#444">LSCNC</text>
<path d="M707.60 140.60h1.2M823.20 140.60h-1.2" stroke="#a4a4a4" stroke-width="0.5"/>
<path d="M707.60 140.39 L708.18 140.34 L708.76 140.30 L709.33 140.72 L709.91 140.74 L710.49 140.63 L711.07 140.41 L711.65 140.39 L712.22 140.41 L712.80 140.51 L713.38 140.34 L713.96 140.50 L714.54 140.40 L715.11 140.79 L715.69 140.79 L716.27 140.56 L716.85 140.39 L717.43 140.79 L718.00 140.42 L718.58 140.45 L719.16 140.25 L719.74 140.46 L720.32 140.52 L720.89 140.53 L721.47 140.36 L722.05 140.53 L722.63 140.25 L723.21 140.40 L723.78 140.30 L724.36 140.47 L724.94 140.27 L725.52 140.26 L726.10 140.42 L726.67 140.38 L727.25 140.58 L727.83 140.55 L728.41 140.67 L728.99 140.62 L729.56 140.65 L730.14 140.74 L730.72 140.47 L731.30 140.43 L731.88 140.80 L732.45 140.33 L733.03 140.66 L733.61 140.61 L734.19 140.27 L734.77 140.72 L735.34 140.75 L735.92 140.60 L736.50 140.66 L737.08 140.70 L737.66 140.33 L738.23 140.54 L738.81 140.53 L739.39 140.72 L739.97 140.70 L740.55 140.71 L741.12 140.58 L741.70 140.75 L742.28 140.63 L742.86 140.64 L743.44 140.38 L744.01 140.27 L744.59 140.32 L745.17 140.45 L745.75 140.31 L746.33 140.72 L746.90 140.56 L747.48 140.60 L748.06 140.60 L748.64 140.63 L749.22 140.52 L749.79 140.25 L750.37 140.70 L750.95 140.67 L751.53 140.53 L752.11 140.55 L752.68 140.62 L753.26 140.29 L753.84 140.66 L754.42 140.39 L755.00 140.29 L755.57 140.40 L756.15 140.66 L756.73 140.36 L757.31 140.66 L757.89 140.80 L758.46 140.53 L759.04 140.46 L759.62 140.52 L760.20 140.63 L760.78 140.68 L761.35 140.60 L761.93 140.61 L762.51 140.29 L763.09 140.33 L763.67 140.39 L764.24 140.67 L764.82 140.42 L765.40 140.57 L765.98 140.26 L766.56 140.28 L767.13 140.40 L767.71 140.63 L768.29 140.64 L768.87 140.63 L769.45 140.41 L770.02 140.54 L770.60 140.51 L771.18 140.51 L771.76 140.32 L772.34 140.75 L772.91 140.36 L773.49 140.80 L774.07 140.77 L774.65 140.26 L775.23 140.51 L775.80 140.71 L776.38 140.79 L776.96 140.50 L777.54 140.40 L778.12 140.37 L778.69 140.78 L779.27 140.37 L779.85 140.58 L780.43 140.33 L781.01 140.54 L781.58 140.78 L782.16 140.32 L782.74 140.71 L783.32 140.53 L783.90 140.75 L784.47 140.64 L785.05 140.38 L785.63 140.75 L786.21 140.52 L786.79 140.26 L787.36 140.25 L787.94 140.53 L788.52 140.50 L789.10 140.42 L789.68 140.33 L790.25 140.44 L790.83 140.43 L791.41 140.72 L791.99 140.25 L792.57 140.67 L793.14 140.72 L793.72 140.32 L794.30 140.77 L794.88 140.65 L795.46 140.75 L796.03 140.41 L796.61 140.46 L797.19 140.47 L797.77 140.81 L798.35 140.58 L798.92 140.45 L799.50 140.49 L800.08 140.40 L800.66 140.28 L801.24 140.31 L801.81 140.72 L802.39 140.41 L802.97 140.77 L803.55 140.39 L804.13 140.40 L804.70 140.54 L805.28 140.36 L805.86 140.46 L806.44 140.79 L807.02 140.75 L807.59 140.70 L808.17 140.60 L808.75 140.76 L809.33 140.78 L809.91 140.56 L810.48 140.65 L811.06 140.28 L811.64 140.66 L812.22 140.50 L812.80 140.67 L813.37 140.61 L813.95 140.41 L814.53 140.28 L815.11 140.77 L815.69 140.32 L816.26 140.51 L816.84 140.44 L817.42 140.42 L818.00 140.66 L818.58 140.80 L819.15 140.40 L819.73 140.62 L820.31 140.42 L820.89 140.56 L821.47 140.47 L822.04 140.34 L822.62 140.34 L823.20 140.37" fill="none" stroke="#ff1a1a" stroke-width="1.3"/>
<rect x="809.95" y="139.10" width="11.25" height="3.0" fill="#fff" stroke="#666" stroke-width="0.4"/>
<path d="M810.65 140.60h2.8" stroke="#ff1a1a" stroke-width="0.6"/>
<text x="813.85" y="141.40" font-size="2.3" font-family="Liberation Serif, serif" fill="#444">SCALP</text>
<path d="M707.60 150.30h1.2M823.20 150.30h-1.2" stroke="#a4a4a4" stroke-width="0.5"/>
<path d="M707.60 150.30H823.20" stroke="#ff1a1a" stroke-width="1.2"/>
<rect x="807.25" y="148.80" width="13.95" height="3.0" fill="#fff" stroke="#666" stroke-width="0.4"/>
<path d="M807.95 150.30h2.8" stroke="#ff1a1a" stroke-width="0.6"/>
<text x="811.15" y="151.10" font-size="2.3" font-family="Liberation Serif, serif" fill="#444">SCALPNC</text>
<path d="M707.60 157.70h1.2M823.20 157.70h-1.2" stroke="#a4a4a4" stroke-width="0.5"/>
<path d="M707.60 157.83 L708.18 157.64 L708.76 157.51 L709.33 157.84 L709.91 157.88 L710.49 157.62 L711.07 157.47 L711.65 157.49 L712.22 157.44 L712.80 157.56 L713.38 157.44 L713.96 157.51 L714.54 157.52 L715.11 157.67 L715.69 157.83 L716.27 157.76 L716.85 157.60 L717.43 157.60 L718.00 157.65 L718.58 157.58 L719.16 157.56 L719.74 157.43 L720.32 157.53 L720.89 157.86 L721.47 157.46 L722.05 157.64 L722.63 157.70 L723.21 157.81 L723.78 157.50 L724.36 157.53 L724.94 157.52 L725.52 157.59 L726.10 157.61 L726.67 157.86 L727.25 157.81 L727.83 157.82 L728.41 157.41 L728.99 157.42 L729.56 157.74 L730.14 157.83 L730.72 157.63 L731.30 157.68 L731.88 157.40 L732.45 157.59 L733.03 157.84 L733.61 157.80 L734.19 157.81 L734.77 157.87 L735.34 157.52 L735.92 157.45 L736.50 157.47 L737.08 157.65 L737.66 157.73 L738.23 157.85 L738.81 157.75 L739.39 157.71 L739.97 157.77 L740.55 157.62 L741.12 157.66 L741.70 157.42 L742.28 157.78 L742.86 157.51 L743.44 157.84 L744.01 157.71 L744.59 157.55 L745.17 157.46 L745.75 157.52 L746.33 157.71 L746.90 157.74 L747.48 157.45 L748.06 157.43 L748.64 157.65 L749.22 157.68 L749.79 157.59 L750.37 157.51 L750.95 157.69 L751.53 157.41 L752.11 157.54 L752.68 157.62 L753.26 157.86 L753.84 157.71 L754.42 157.82 L755.00 157.63 L755.57 157.51 L756.15 157.52 L756.73 157.86 L757.31 157.74 L757.89 157.55 L758.46 157.41 L759.04 157.64 L759.62 157.72 L760.20 157.60 L760.78 157.52 L761.35 157.72 L761.93 157.84 L762.51 157.51 L763.09 157.42 L763.67 157.56 L764.24 157.60 L764.82 157.73 L765.40 157.50 L765.98 157.78 L766.56 157.75 L767.13 157.64 L767.71 157.50 L768.29 157.87 L768.87 157.55 L769.45 157.79 L770.02 157.51 L770.60 157.51 L771.18 157.77 L771.76 157.54 L772.34 157.86 L772.91 157.64 L773.49 157.49 L774.07 157.51 L774.65 157.60 L775.23 157.72 L775.80 157.86 L776.38 157.47 L776.96 157.59 L777.54 157.50 L778.12 157.87 L778.69 157.47 L779.27 157.42 L779.85 157.43 L780.43 157.59 L781.01 157.83 L781.58 157.82 L782.16 157.75 L782.74 157.88 L783.32 157.85 L783.90 157.56 L784.47 157.49 L785.05 157.85 L785.63 157.76 L786.21 157.42 L786.79 157.72 L787.36 157.58 L787.94 157.58 L788.52 157.56 L789.10 157.48 L789.68 157.40 L790.25 157.53 L790.83 157.57 L791.41 157.86 L791.99 157.46 L792.57 157.86 L793.14 157.50 L793.72 157.57 L794.30 157.79 L794.88 157.79 L795.46 157.61 L796.03 157.42 L796.61 157.63 L797.19 157.58 L797.77 157.84 L798.35 157.49 L798.92 157.57 L799.50 157.83 L800.08 157.41 L800.66 157.60 L801.24 157.79 L801.81 157.77 L802.39 157.42 L802.97 157.42 L803.55 157.43 L804.13 157.84 L804.70 157.52 L805.28 157.76 L805.86 157.83 L806.44 157.56 L807.02 157.53 L807.59 157.86 L808.17 157.70 L808.75 157.53 L809.33 157.74 L809.91 157.55 L810.48 157.53 L811.06 157.40 L811.64 157.76 L812.22 157.84 L812.80 157.70 L813.37 157.85 L813.95 157.41 L814.53 157.51 L815.11 157.63 L815.69 157.86 L816.26 157.86 L816.84 157.59 L817.42 157.52 L818.00 157.61 L818.58 157.64 L819.15 157.85 L819.73 157.49 L820.31 157.79 L820.89 157.75 L821.47 157.79 L822.04 157.77 L822.62 157.69 L823.20 157.56" fill="none" stroke="#2a2aff" stroke-width="1.3"/>
<rect x="811.30" y="156.20" width="9.90" height="3.0" fill="#fff" stroke="#666" stroke-width="0.4"/>
<path d="M812.00 157.70h2.8" stroke="#2a2aff" stroke-width="0.6"/>
<text x="815.20" y="158.50" font-size="2.3" font-family="Liberation Serif, serif" fill="#444">SLIC</text>
<path d="M707.60 165.20h1.2M823.20 165.20h-1.2" stroke="#a4a4a4" stroke-width="0.5"/>
<path d="M707.60 165.20H823.20" stroke="#2a2aff" stroke-width="1.2"/>
<rect x="808.60" y="163.70" width="12.60" height="3.0" fill="#fff" stroke="#666" stroke-width="0.4"/>
<path d="M809.30 165.20h2.8" stroke="#2a2aff" stroke-width="0.6"/>
<text x="812.50" y="166.00" font-size="2.3" font-family="Liberation Serif, serif" fill="#444">SLICNC</text>
<path d="M707.60 171.50h1.2M823.20 171.50h-1.2" stroke="#a4a4a4" stroke-width="0.5"/>
<path d="M707.60 171.50H823.20" stroke="#ff20ff" stroke-width="1.6"/>
<rect x="811.30" y="170.00" width="9.90" height="3.0" fill="#fff" stroke="#666" stroke-width="0.4"/>
<path d="M812.00 171.50h2.8" stroke="#ff20ff" stroke-width="0.6"/>
<text x="815.20" y="172.30" font-size="2.3" font-family="Liberation Serif, serif" fill="#444">SNIC</text>
<path d="M752.68 108.6v4.5" stroke="#3a3a3a" stroke-width="0.6"/>
<path d="M752.68 124v5" stroke="#00e000" stroke-width="0.6"/>
<path d="M774.65 140.6v3.5" stroke="#ff1a1a" stroke-width="0.6"/>
<path d="M781.58 140.6v5" stroke="#ff1a1a" stroke-width="0.6"/>
<path d="M752.68 157.7v3" stroke="#2a2aff" stroke-width="0.6"/>
<path d="M752.68 140.6v-2" stroke="#ff1a1a" stroke-width="0.6"/>
<path d="M737.66 124v-1.5" stroke="#00e000" stroke-width="0.6"/>
<text x="71.5" y="299.1" font-size="9.2" text-anchor="middle" font-family="Liberation Serif, serif" fill="#000">Non-noise</text>
<text x="209.5" y="299.1" font-size="9.2" text-anchor="middle" font-family="Liberation Serif, serif" fill="#000">Mean filter</text>
<text x="357.8" y="299.1" font-size="9.2" text-anchor="middle" font-family="Liberation Serif, serif" fill="#000">Gaussian</text>
<text x="485.8" y="299.1" font-size="9.2" text-anchor="middle" font-family="Liberation Serif, serif" fill="#000">Multiplicative</text>
<text x="630.4" y="299.1" font-size="9.2" text-anchor="middle" font-family="Liberation Serif, serif" fill="#000">Salt and pepper</text>
<text x="770" y="299.1" font-size="9.2" text-anchor="middle" font-family="Liberation Serif, serif" fill="#000">Non-noise</text>
<rect x="16.50" y="197.50" width="114.30" height="79.00" fill="none" stroke="#a4a4a4" stroke-width="0.85"/>
<path d="M16.50 276.50v-1.2M16.50 197.50v1.2" stroke="#a4a4a4" stroke-width="0.5"/>
<text x="16.50" y="282.20" font-size="4.3" text-anchor="middle" font-family="Liberation Serif, serif" fill="#3a3a3a">100</text>
<path d="M29.20 276.50v-1.2M29.20 197.50v1.2" stroke="#a4a4a4" stroke-width="0.5"/>
<text x="29.20" y="282.20" font-size="4.3" text-anchor="middle" font-family="Liberation Serif, serif" fill="#3a3a3a">200</text>
<path d="M41.90 276.50v-1.2M41.90 197.50v1.2" stroke="#a4a4a4" stroke-width="0.5"/>
<text x="41.90" y="282.20" font-size="4.3" text-anchor="middle" font-family="Liberation Serif, serif" fill="#3a3a3a">300</text>
<path d="M54.60 276.50v-1.2M54.60 197.50v1.2" stroke="#a4a4a4" stroke-width="0.5"/>
<text x="54.60" y="282.20" font-size="4.3" text-anchor="middle" font-family="Liberation Serif, serif" fill="#3a3a3a">400</text>
<path d="M67.30 276.50v-1.2M67.30 197.50v1.2" stroke="#a4a4a4" stroke-width="0.5"/>
<text x="67.30" y="282.20" font-size="4.3" text-anchor="middle" font-family="Liberation Serif, serif" fill="#3a3a3a">500</text>
<path d="M80.00 276.50v-1.2M80.00 197.50v1.2" stroke="#a4a4a4" stroke-width="0.5"/>
<text x="80.00" y="282.20" font-size="4.3" text-anchor="middle" font-family="Liberation Serif, serif" fill="#3a3a3a">600</text>
<path d="M92.70 276.50v-1.2M92.70 197.50v1.2" stroke="#a4a4a4" stroke-width="0.5"/>
<text x="92.70" y="282.20" font-size="4.3" text-anchor="middle" font-family="Liberation Serif, serif" fill="#3a3a3a">700</text>
<path d="M105.40 276.50v-1.2M105.40 197.50v1.2" stroke="#a4a4a4" stroke-width="0.5"/>
<text x="105.40" y="282.20" font-size="4.3" text-anchor="middle" font-family="Liberation Serif, serif" fill="#3a3a3a">800</text>
<path d="M118.10 276.50v-1.2M118.10 197.50v1.2" stroke="#a4a4a4" stroke-width="0.5"/>
<text x="118.10" y="282.20" font-size="4.3" text-anchor="middle" font-family="Liberation Serif, serif" fill="#3a3a3a">900</text>
<path d="M130.80 276.50v-1.2M130.80 197.50v1.2" stroke="#a4a4a4" stroke-width="0.5"/>
<text x="130.80" y="282.20" font-size="4.3" text-anchor="middle" font-family="Liberation Serif, serif" fill="#3a3a3a">1000</text>
<path d="M16.50 276.50h1.2M130.80 276.50h-1.2" stroke="#a4a4a4" stroke-width="0.5"/>
<text x="15.30" y="278.40" font-size="4.3" text-anchor="end" font-family="Liberation Serif, serif" fill="#3a3a3a">0</text>
<path d="M16.50 260.70h1.2M130.80 260.70h-1.2" stroke="#a4a4a4" stroke-width="0.5"/>
<text x="15.30" y="262.60" font-size="4.3" text-anchor="end" font-family="Liberation Serif, serif" fill="#3a3a3a">0.5</text>
<path d="M16.50 244.90h1.2M130.80 244.90h-1.2" stroke="#a4a4a4" stroke-width="0.5"/>
<text x="15.30" y="246.80" font-size="4.3" text-anchor="end" font-family="Liberation Serif, serif" fill="#3a3a3a">1</text>
<path d="M16.50 229.10h1.2M130.80 229.10h-1.2" stroke="#a4a4a4" stroke-width="0.5"/>
<text x="15.30" y="231.00" font-size="4.3" text-anchor="end" font-family="Liberation Serif, serif" fill="#3a3a3a">1.5</text>
<path d="M16.50 213.30h1.2M130.80 213.30h-1.2" stroke="#a4a4a4" stroke-width="0.5"/>
<text x="15.30" y="215.20" font-size="4.3" text-anchor="end" font-family="Liberation Serif, serif" fill="#3a3a3a">2</text>
<path d="M16.50 197.50h1.2M130.80 197.50h-1.2" stroke="#a4a4a4" stroke-width="0.5"/>
<text x="15.30" y="199.40" font-size="4.3" text-anchor="end" font-family="Liberation Serif, serif" fill="#3a3a3a">2.5</text>
<text x="0" y="0" transform="translate(73.65,287.80) scale(0.86,1)" font-size="5.40" text-anchor="middle" font-family="Liberation Serif, serif" fill="#222">Number of superpixels</text>
<text x="0" y="0" transform="translate(8.30,237.00) rotate(-90) scale(0.92,1)" font-size="5.40" text-anchor="middle" font-family="Liberation Serif, serif" fill="#222">OR</text>
<path d="M16.50 270.34 L29.20 264.04 L41.90 256.64 L54.60 249.79 L67.30 242.95 L80.00 235.55 L105.40 221.03 L130.80 205.41" fill="none" stroke="#ff1a1a" stroke-width="0.9" stroke-linejoin="round"/>
<circle cx="16.50" cy="270.34" r="1.40" fill="#ff1a1a"/>
<circle cx="29.20" cy="264.04" r="1.40" fill="#ff1a1a"/>
<circle cx="41.90" cy="256.64" r="1.40" fill="#ff1a1a"/>
<circle cx="54.60" cy="249.79" r="1.40" fill="#ff1a1a"/>
<circle cx="67.30" cy="242.95" r="1.40" fill="#ff1a1a"/>
<circle cx="80.00" cy="235.55" r="1.40" fill="#ff1a1a"/>
<circle cx="105.40" cy="221.03" r="1.40" fill="#ff1a1a"/>
<circle cx="130.80" cy="205.41" r="1.40" fill="#ff1a1a"/>
<path d="M16.50 271.16 L29.20 265.68 L41.90 260.21 L54.60 253.90 L67.30 247.05 L80.00 241.58 L105.40 229.25 L130.80 214.18" fill="none" stroke="#00e000" stroke-width="0.9" stroke-linejoin="round"/>
<circle cx="16.50" cy="271.16" r="1.26" fill="#00e000"/>
<circle cx="29.20" cy="265.68" r="1.26" fill="#00e000"/>
<circle cx="41.90" cy="260.21" r="1.26" fill="#00e000"/>
<circle cx="54.60" cy="253.90" r="1.26" fill="#00e000"/>
<circle cx="67.30" cy="247.05" r="1.26" fill="#00e000"/>
<circle cx="80.00" cy="241.58" r="1.26" fill="#00e000"/>
<circle cx="105.40" cy="229.25" r="1.26" fill="#00e000"/>
<circle cx="130.80" cy="214.18" r="1.26" fill="#00e000"/>
<path d="M16.50 270.89 L29.20 264.86 L41.90 258.56 L54.60 252.53 L67.30 245.68 L80.00 239.38 L105.40 227.33 L130.80 216.37" fill="none" stroke="#ff1a1a" stroke-width="0.9" stroke-dasharray="1.9 1.1" stroke-linejoin="round"/>
<path d="M16.50 271.44 L29.20 266.23 L41.90 260.75 L54.60 254.73 L67.30 248.42 L80.00 242.12 L105.40 230.62 L130.80 215.55" fill="none" stroke="#00e000" stroke-width="0.9" stroke-dasharray="1.9 1.1" stroke-linejoin="round"/>
<path d="M16.50 271.99 L29.20 267.05 L41.90 262.12 L54.60 256.64 L67.30 253.08 L80.00 245.14 L105.40 233.90 L130.80 216.92" fill="none" stroke="#2a2aff" stroke-width="0.9" stroke-linejoin="round"/>
<circle cx="16.50" cy="271.99" r="1.26" fill="#2a2aff"/>
<circle cx="29.20" cy="267.05" r="1.26" fill="#2a2aff"/>
<circle cx="41.90" cy="262.12" r="1.26" fill="#2a2aff"/>
<circle cx="54.60" cy="256.64" r="1.26" fill="#2a2aff"/>
<circle cx="67.30" cy="253.08" r="1.26" fill="#2a2aff"/>
<circle cx="80.00" cy="245.14" r="1.26" fill="#2a2aff"/>
<circle cx="105.40" cy="233.90" r="1.26" fill="#2a2aff"/>
<circle cx="130.80" cy="216.92" r="1.26" fill="#2a2aff"/>
<path d="M16.50 272.26 L29.20 267.60 L41.90 262.95 L54.60 257.47 L67.30 253.90 L80.00 245.68 L105.40 234.73 L130.80 217.47" fill="none" stroke="#3a3a3a" stroke-width="0.9" stroke-linejoin="round"/>
<circle cx="16.50" cy="272.26" r="1.26" fill="#3a3a3a"/>
<circle cx="29.20" cy="267.60" r="1.26" fill="#3a3a3a"/>
<circle cx="41.90" cy="262.95" r="1.26" fill="#3a3a3a"/>
<circle cx="54.60" cy="257.47" r="1.26" fill="#3a3a3a"/>
<circle cx="67.30" cy="253.90" r="1.26" fill="#3a3a3a"/>
<circle cx="80.00" cy="245.68" r="1.26" fill="#3a3a3a"/>
<circle cx="105.40" cy="234.73" r="1.26" fill="#3a3a3a"/>
<circle cx="130.80" cy="217.47" r="1.26" fill="#3a3a3a"/>
<path d="M16.50 272.53 L29.20 267.88 L41.90 263.49 L54.60 258.01 L67.30 254.73 L80.00 246.23 L105.40 236.10 L130.80 218.29" fill="none" stroke="#2a2aff" stroke-width="0.9" stroke-dasharray="1.9 1.1" stroke-linejoin="round"/>
<path d="M16.50 273.08 L29.20 268.42 L41.90 264.86 L54.60 258.56 L67.30 252.53 L80.00 245.68 L105.40 238.29 L130.80 221.03" fill="none" stroke="#ff20ff" stroke-width="0.9" stroke-linejoin="round"/>
<path d="M16.50 271.45L17.80 273.08L16.50 274.71L15.20 273.08Z" fill="#ff20ff"/>
<path d="M29.20 266.80L30.50 268.42L29.20 270.05L27.90 268.42Z" fill="#ff20ff"/>
<path d="M41.90 263.24L43.20 264.86L41.90 266.49L40.60 264.86Z" fill="#ff20ff"/>
<path d="M54.60 256.93L55.90 258.56L54.60 260.19L53.30 258.56Z" fill="#ff20ff"/>
<path d="M67.30 250.91L68.60 252.53L67.30 254.16L66.00 252.53Z" fill="#ff20ff"/>
<path d="M80.00 244.06L81.30 245.68L80.00 247.31L78.70 245.68Z" fill="#ff20ff"/>
<path d="M105.40 236.66L106.70 238.29L105.40 239.92L104.10 238.29Z" fill="#ff20ff"/>
<path d="M130.80 219.40L132.10 221.03L130.80 222.65L129.50 221.03Z" fill="#ff20ff"/>
<path d="M16.50 274.45 L29.20 272.53 L41.90 268.97 L54.60 266.78 L67.30 264.86 L80.00 263.49 L105.40 260.21 L130.80 255.82" fill="none" stroke="#b04c14" stroke-width="0.9" stroke-linejoin="round"/>
<circle cx="16.50" cy="274.45" r="1.12" fill="#b04c14"/>
<circle cx="29.20" cy="272.53" r="1.12" fill="#b04c14"/>
<circle cx="41.90" cy="268.97" r="1.12" fill="#b04c14"/>
<circle cx="54.60" cy="266.78" r="1.12" fill="#b04c14"/>
<circle cx="67.30" cy="264.86" r="1.12" fill="#b04c14"/>
<circle cx="80.00" cy="263.49" r="1.12" fill="#b04c14"/>
<circle cx="105.40" cy="260.21" r="1.12" fill="#b04c14"/>
<circle cx="130.80" cy="255.82" r="1.12" fill="#b04c14"/>
<rect x="79.20" y="219.70" width="26.00" height="26.00" fill="none" stroke="#555" stroke-width="0.5"/>
<rect x="20.80" y="203.20" width="42.00" height="35.60" fill="#fff" stroke="#444" stroke-width="0.6"/>
<clipPath id="c1561"><rect x="20.80" y="203.20" width="42.00" height="35.60"/></clipPath>
<g clip-path="url(#c1561)">
<path d="M20.80 222.40 L62.80 203.80" fill="none" stroke="#ff1a1a" stroke-width="0.8" stroke-linejoin="round"/>
<path d="M20.80 230.10 L62.80 214.20" fill="none" stroke="#00e000" stroke-width="0.8" stroke-linejoin="round"/>
<path d="M20.80 230.60 L62.80 216.90" fill="none" stroke="#ff1a1a" stroke-width="0.8" stroke-dasharray="1.9 1.1" stroke-linejoin="round"/>
<path d="M20.80 233.40 L62.80 221.00" fill="none" stroke="#2a2aff" stroke-width="0.8" stroke-linejoin="round"/>
<path d="M20.80 234.70 L62.80 222.40" fill="none" stroke="#3a3a3a" stroke-width="0.8" stroke-linejoin="round"/>
<path d="M20.80 235.50 L62.80 224.60" fill="none" stroke="#2a2aff" stroke-width="0.8" stroke-dasharray="1.9 1.1" stroke-linejoin="round"/>
<path d="M20.80 236.10 L62.80 227.30" fill="none" stroke="#ff20ff" stroke-width="0.8" stroke-linejoin="round"/>
</g>
<circle cx="20.80" cy="222.40" r="1.26" fill="#ff1a1a"/>
<circle cx="62.80" cy="203.80" r="1.26" fill="#ff1a1a"/>
<circle cx="20.80" cy="230.10" r="1.26" fill="#00e000"/>
<circle cx="62.80" cy="214.20" r="1.26" fill="#00e000"/>
<rect x="19.61" y="229.41" width="2.37" height="2.37" fill="none" stroke="#ff1a1a" stroke-width="0.55"/>
<rect x="61.61" y="215.71" width="2.37" height="2.37" fill="none" stroke="#ff1a1a" stroke-width="0.55"/>
<circle cx="20.80" cy="233.40" r="1.26" fill="#2a2aff"/>
<circle cx="62.80" cy="221.00" r="1.26" fill="#2a2aff"/>
<circle cx="20.80" cy="234.70" r="1.26" fill="#3a3a3a"/>
<circle cx="62.80" cy="222.40" r="1.26" fill="#3a3a3a"/>
<circle cx="20.80" cy="235.50" r="1.26" fill="#2a2aff"/>
<circle cx="62.80" cy="224.60" r="1.26" fill="#2a2aff"/>
<path d="M20.80 234.64L21.97 236.10L20.80 237.56L19.63 236.10Z" fill="#ff20ff"/>
<path d="M62.80 225.84L63.97 227.30L62.80 228.76L61.63 227.30Z" fill="#ff20ff"/>
<rect x="155.20" y="197.50" width="114.10" height="79.00" fill="none" stroke="#a4a4a4" stroke-width="0.85"/>
<path d="M155.20 276.50v-1.2M155.20 197.50v1.2" stroke="#a4a4a4" stroke-width="0.5"/>
<text x="155.20" y="282.20" font-size="4.3" text-anchor="middle" font-family="Liberation Serif, serif" fill="#3a3a3a">100</text>
<path d="M167.88 276.50v-1.2M167.88 197.50v1.2" stroke="#a4a4a4" stroke-width="0.5"/>
<text x="167.88" y="282.20" font-size="4.3" text-anchor="middle" font-family="Liberation Serif, serif" fill="#3a3a3a">200</text>
<path d="M180.56 276.50v-1.2M180.56 197.50v1.2" stroke="#a4a4a4" stroke-width="0.5"/>
<text x="180.56" y="282.20" font-size="4.3" text-anchor="middle" font-family="Liberation Serif, serif" fill="#3a3a3a">300</text>
<path d="M193.23 276.50v-1.2M193.23 197.50v1.2" stroke="#a4a4a4" stroke-width="0.5"/>
<text x="193.23" y="282.20" font-size="4.3" text-anchor="middle" font-family="Liberation Serif, serif" fill="#3a3a3a">400</text>
<path d="M205.91 276.50v-1.2M205.91 197.50v1.2" stroke="#a4a4a4" stroke-width="0.5"/>
<text x="205.91" y="282.20" font-size="4.3" text-anchor="middle" font-family="Liberation Serif, serif" fill="#3a3a3a">500</text>
<path d="M218.59 276.50v-1.2M218.59 197.50v1.2" stroke="#a4a4a4" stroke-width="0.5"/>
<text x="218.59" y="282.20" font-size="4.3" text-anchor="middle" font-family="Liberation Serif, serif" fill="#3a3a3a">600</text>
<path d="M231.27 276.50v-1.2M231.27 197.50v1.2" stroke="#a4a4a4" stroke-width="0.5"/>
<text x="231.27" y="282.20" font-size="4.3" text-anchor="middle" font-family="Liberation Serif, serif" fill="#3a3a3a">700</text>
<path d="M243.94 276.50v-1.2M243.94 197.50v1.2" stroke="#a4a4a4" stroke-width="0.5"/>
<text x="243.94" y="282.20" font-size="4.3" text-anchor="middle" font-family="Liberation Serif, serif" fill="#3a3a3a">800</text>
<path d="M256.62 276.50v-1.2M256.62 197.50v1.2" stroke="#a4a4a4" stroke-width="0.5"/>
<text x="256.62" y="282.20" font-size="4.3" text-anchor="middle" font-family="Liberation Serif, serif" fill="#3a3a3a">900</text>
<path d="M269.30 276.50v-1.2M269.30 197.50v1.2" stroke="#a4a4a4" stroke-width="0.5"/>
<text x="269.30" y="282.20" font-size="4.3" text-anchor="middle" font-family="Liberation Serif, serif" fill="#3a3a3a">1000</text>
<path d="M155.20 276.50h1.2M269.30 276.50h-1.2" stroke="#a4a4a4" stroke-width="0.5"/>
<text x="154.00" y="278.40" font-size="4.3" text-anchor="end" font-family="Liberation Serif, serif" fill="#3a3a3a">0</text>
<path d="M155.20 260.70h1.2M269.30 260.70h-1.2" stroke="#a4a4a4" stroke-width="0.5"/>
<text x="154.00" y="262.60" font-size="4.3" text-anchor="end" font-family="Liberation Serif, serif" fill="#3a3a3a">0.5</text>
<path d="M155.20 244.90h1.2M269.30 244.90h-1.2" stroke="#a4a4a4" stroke-width="0.5"/>
<text x="154.00" y="246.80" font-size="4.3" text-anchor="end" font-family="Liberation Serif, serif" fill="#3a3a3a">1</text>
<path d="M155.20 229.10h1.2M269.30 229.10h-1.2" stroke="#a4a4a4" stroke-width="0.5"/>
<text x="154.00" y="231.00" font-size="4.3" text-anchor="end" font-family="Liberation Serif, serif" fill="#3a3a3a">1.5</text>
<path d="M155.20 213.30h1.2M269.30 213.30h-1.2" stroke="#a4a4a4" stroke-width="0.5"/>
<text x="154.00" y="215.20" font-size="4.3" text-anchor="end" font-family="Liberation Serif, serif" fill="#3a3a3a">2</text>
<path d="M155.20 197.50h1.2M269.30 197.50h-1.2" stroke="#a4a4a4" stroke-width="0.5"/>
<text x="154.00" y="199.40" font-size="4.3" text-anchor="end" font-family="Liberation Serif, serif" fill="#3a3a3a">2.5</text>
<text x="0" y="0" transform="translate(212.25,287.80) scale(0.86,1)" font-size="5.40" text-anchor="middle" font-family="Liberation Serif, serif" fill="#222">Number of superpixels</text>
<text x="0" y="0" transform="translate(147.00,237.00) rotate(-90) scale(0.92,1)" font-size="5.40" text-anchor="middle" font-family="Liberation Serif, serif" fill="#222">OR</text>
<path d="M155.20 269.52 L167.88 263.49 L180.56 255.82 L193.23 247.60 L205.91 241.03 L218.59 232.81 L243.94 218.29 L269.30 201.03" fill="none" stroke="#ff1a1a" stroke-width="0.9" stroke-linejoin="round"/>
<circle cx="155.20" cy="269.52" r="1.40" fill="#ff1a1a"/>
<circle cx="167.88" cy="263.49" r="1.40" fill="#ff1a1a"/>
<circle cx="180.56" cy="255.82" r="1.40" fill="#ff1a1a"/>
<circle cx="193.23" cy="247.60" r="1.40" fill="#ff1a1a"/>
<circle cx="205.91" cy="241.03" r="1.40" fill="#ff1a1a"/>
<circle cx="218.59" cy="232.81" r="1.40" fill="#ff1a1a"/>
<circle cx="243.94" cy="218.29" r="1.40" fill="#ff1a1a"/>
<circle cx="269.30" cy="201.03" r="1.40" fill="#ff1a1a"/>
<path d="M155.20 270.62 L167.88 265.14 L180.56 258.01 L193.23 251.16 L205.91 245.68 L218.59 237.47 L243.94 225.68 L269.30 208.70" fill="none" stroke="#00e000" stroke-width="0.9" stroke-linejoin="round"/>
<circle cx="155.20" cy="270.62" r="1.26" fill="#00e000"/>
<circle cx="167.88" cy="265.14" r="1.26" fill="#00e000"/>
<circle cx="180.56" cy="258.01" r="1.26" fill="#00e000"/>
<circle cx="193.23" cy="251.16" r="1.26" fill="#00e000"/>
<circle cx="205.91" cy="245.68" r="1.26" fill="#00e000"/>
<circle cx="218.59" cy="237.47" r="1.26" fill="#00e000"/>
<circle cx="243.94" cy="225.68" r="1.26" fill="#00e000"/>
<circle cx="269.30" cy="208.70" r="1.26" fill="#00e000"/>
<path d="M155.20 270.89 L167.88 265.68 L180.56 258.56 L193.23 251.99 L205.91 246.51 L218.59 238.29 L243.94 225.68 L269.30 210.07" fill="none" stroke="#ff1a1a" stroke-width="0.9" stroke-dasharray="1.9 1.1" stroke-linejoin="round"/>
<path d="M155.20 271.16 L167.88 266.23 L180.56 259.38 L193.23 253.08 L205.91 247.60 L218.59 239.66 L243.94 227.88 L269.30 210.89" fill="none" stroke="#00e000" stroke-width="0.9" stroke-dasharray="1.9 1.1" stroke-linejoin="round"/>
<path d="M155.20 271.71 L167.88 266.78 L180.56 261.30 L193.23 255.27 L205.91 249.79 L218.59 241.58 L243.94 230.62 L269.30 211.99" fill="none" stroke="#2a2aff" stroke-width="0.9" stroke-linejoin="round"/>
<circle cx="155.20" cy="271.71" r="1.26" fill="#2a2aff"/>
<circle cx="167.88" cy="266.78" r="1.26" fill="#2a2aff"/>
<circle cx="180.56" cy="261.30" r="1.26" fill="#2a2aff"/>
<circle cx="193.23" cy="255.27" r="1.26" fill="#2a2aff"/>
<circle cx="205.91" cy="249.79" r="1.26" fill="#2a2aff"/>
<circle cx="218.59" cy="241.58" r="1.26" fill="#2a2aff"/>
<circle cx="243.94" cy="230.62" r="1.26" fill="#2a2aff"/>
<circle cx="269.30" cy="211.99" r="1.26" fill="#2a2aff"/>
<path d="M155.20 271.99 L167.88 267.33 L180.56 262.12 L193.23 256.10 L205.91 251.16 L218.59 242.95 L243.94 231.99 L269.30 212.81" fill="none" stroke="#3a3a3a" stroke-width="0.9" stroke-linejoin="round"/>
<circle cx="155.20" cy="271.99" r="1.26" fill="#3a3a3a"/>
<circle cx="167.88" cy="267.33" r="1.26" fill="#3a3a3a"/>
<circle cx="180.56" cy="262.12" r="1.26" fill="#3a3a3a"/>
<circle cx="193.23" cy="256.10" r="1.26" fill="#3a3a3a"/>
<circle cx="205.91" cy="251.16" r="1.26" fill="#3a3a3a"/>
<circle cx="218.59" cy="242.95" r="1.26" fill="#3a3a3a"/>
<circle cx="243.94" cy="231.99" r="1.26" fill="#3a3a3a"/>
<circle cx="269.30" cy="212.81" r="1.26" fill="#3a3a3a"/>
<path d="M155.20 272.26 L167.88 267.60 L180.56 262.95 L193.23 256.92 L205.91 252.53 L218.59 243.77 L243.94 233.36 L269.30 214.18" fill="none" stroke="#2a2aff" stroke-width="0.9" stroke-dasharray="1.9 1.1" stroke-linejoin="round"/>
<path d="M155.20 272.53 L167.88 268.42 L180.56 263.49 L193.23 257.47 L205.91 251.99 L218.59 244.32 L243.94 235.55 L269.30 215.55" fill="none" stroke="#ff20ff" stroke-width="0.9" stroke-linejoin="round"/>
<path d="M155.20 270.91L156.50 272.53L155.20 274.16L153.90 272.53Z" fill="#ff20ff"/>
<path d="M167.88 266.80L169.18 268.42L167.88 270.05L166.58 268.42Z" fill="#ff20ff"/>
<path d="M180.56 261.87L181.86 263.49L180.56 265.12L179.25 263.49Z" fill="#ff20ff"/>
<path d="M193.23 255.84L194.54 257.47L193.23 259.09L191.93 257.47Z" fill="#ff20ff"/>
<path d="M205.91 250.36L207.21 251.99L205.91 253.61L204.61 251.99Z" fill="#ff20ff"/>
<path d="M218.59 242.69L219.89 244.32L218.59 245.94L217.29 244.32Z" fill="#ff20ff"/>
<path d="M243.94 233.92L245.25 235.55L243.94 237.18L242.64 235.55Z" fill="#ff20ff"/>
<path d="M269.30 213.92L270.60 215.55L269.30 217.18L268.00 215.55Z" fill="#ff20ff"/>
<path d="M155.20 274.45 L167.88 272.26 L180.56 268.97 L193.23 266.78 L205.91 264.86 L218.59 263.49 L243.94 259.38 L269.30 255.27" fill="none" stroke="#b04c14" stroke-width="0.9" stroke-linejoin="round"/>
<circle cx="155.20" cy="274.45" r="1.12" fill="#b04c14"/>
<circle cx="167.88" cy="272.26" r="1.12" fill="#b04c14"/>
<circle cx="180.56" cy="268.97" r="1.12" fill="#b04c14"/>
<circle cx="193.23" cy="266.78" r="1.12" fill="#b04c14"/>
<circle cx="205.91" cy="264.86" r="1.12" fill="#b04c14"/>
<circle cx="218.59" cy="263.49" r="1.12" fill="#b04c14"/>
<circle cx="243.94" cy="259.38" r="1.12" fill="#b04c14"/>
<circle cx="269.30" cy="255.27" r="1.12" fill="#b04c14"/>
<rect x="205.10" y="231.20" width="13.10" height="24.10" fill="none" stroke="#555" stroke-width="0.5"/>
<rect x="158.50" y="199.90" width="30.10" height="47.20" fill="#fff" stroke="#444" stroke-width="0.6"/>
<clipPath id="c1679"><rect x="158.50" y="199.90" width="30.10" height="47.20"/></clipPath>
<g clip-path="url(#c1679)">
<path d="M158.50 219.10 L188.60 201.00" fill="none" stroke="#ff1a1a" stroke-width="0.8" stroke-linejoin="round"/>
<path d="M158.50 227.30 L188.60 212.00" fill="none" stroke="#b04c14" stroke-width="0.8" stroke-linejoin="round"/>
<path d="M158.50 232.00 L188.60 215.50" fill="none" stroke="#00e000" stroke-width="0.8" stroke-linejoin="round"/>
<path d="M158.50 229.00 L188.60 213.50" fill="none" stroke="#00e000" stroke-width="0.8" stroke-dasharray="1.9 1.1" stroke-linejoin="round"/>
<path d="M158.50 237.50 L188.60 218.30" fill="none" stroke="#2a2aff" stroke-width="0.8" stroke-linejoin="round"/>
<path d="M158.50 238.30 L188.60 222.40" fill="none" stroke="#ff20ff" stroke-width="0.8" stroke-linejoin="round"/>
<path d="M158.50 243.00 L188.60 221.00" fill="none" stroke="#2a2aff" stroke-width="0.8" stroke-dasharray="1.9 1.1" stroke-linejoin="round"/>
<path d="M158.50 247.10 L188.60 225.70" fill="none" stroke="#000000" stroke-width="0.8" stroke-dasharray="1.9 1.1" stroke-linejoin="round"/>
</g>
<circle cx="158.50" cy="219.10" r="1.26" fill="#ff1a1a"/>
<circle cx="188.60" cy="201.00" r="1.26" fill="#ff1a1a"/>
<circle cx="158.50" cy="227.30" r="1.26" fill="#b04c14"/>
<circle cx="188.60" cy="212.00" r="1.26" fill="#b04c14"/>
<circle cx="158.50" cy="232.00" r="1.26" fill="#00e000"/>
<circle cx="188.60" cy="215.50" r="1.26" fill="#00e000"/>
<circle cx="158.50" cy="229.00" r="1.26" fill="#00e000"/>
<circle cx="188.60" cy="213.50" r="1.26" fill="#00e000"/>
<circle cx="158.50" cy="237.50" r="1.26" fill="#2a2aff"/>
<circle cx="188.60" cy="218.30" r="1.26" fill="#2a2aff"/>
<path d="M158.50 236.84L159.67 238.30L158.50 239.76L157.33 238.30Z" fill="#ff20ff"/>
<path d="M188.60 220.94L189.77 222.40L188.60 223.86L187.43 222.40Z" fill="#ff20ff"/>
<circle cx="158.50" cy="243.00" r="1.26" fill="#2a2aff"/>
<circle cx="188.60" cy="221.00" r="1.26" fill="#2a2aff"/>
<path d="M158.50 245.64L159.67 247.10L158.50 248.56L157.33 247.10Z" fill="none" stroke="#000000" stroke-width="0.6"/>
<path d="M188.60 224.24L189.77 225.70L188.60 227.16L187.43 225.70Z" fill="none" stroke="#000000" stroke-width="0.6"/>
<rect x="293.20" y="197.50" width="114.10" height="79.00" fill="none" stroke="#a4a4a4" stroke-width="0.85"/>
<path d="M293.20 276.50v-1.2M293.20 197.50v1.2" stroke="#a4a4a4" stroke-width="0.5"/>
<text x="293.20" y="282.20" font-size="4.3" text-anchor="middle" font-family="Liberation Serif, serif" fill="#3a3a3a">100</text>
<path d="M305.88 276.50v-1.2M305.88 197.50v1.2" stroke="#a4a4a4" stroke-width="0.5"/>
<text x="305.88" y="282.20" font-size="4.3" text-anchor="middle" font-family="Liberation Serif, serif" fill="#3a3a3a">200</text>
<path d="M318.56 276.50v-1.2M318.56 197.50v1.2" stroke="#a4a4a4" stroke-width="0.5"/>
<text x="318.56" y="282.20" font-size="4.3" text-anchor="middle" font-family="Liberation Serif, serif" fill="#3a3a3a">300</text>
<path d="M331.23 276.50v-1.2M331.23 197.50v1.2" stroke="#a4a4a4" stroke-width="0.5"/>
<text x="331.23" y="282.20" font-size="4.3" text-anchor="middle" font-family="Liberation Serif, serif" fill="#3a3a3a">400</text>
<path d="M343.91 276.50v-1.2M343.91 197.50v1.2" stroke="#a4a4a4" stroke-width="0.5"/>
<text x="343.91" y="282.20" font-size="4.3" text-anchor="middle" font-family="Liberation Serif, serif" fill="#3a3a3a">500</text>
<path d="M356.59 276.50v-1.2M356.59 197.50v1.2" stroke="#a4a4a4" stroke-width="0.5"/>
<text x="356.59" y="282.20" font-size="4.3" text-anchor="middle" font-family="Liberation Serif, serif" fill="#3a3a3a">600</text>
<path d="M369.27 276.50v-1.2M369.27 197.50v1.2" stroke="#a4a4a4" stroke-width="0.5"/>
<text x="369.27" y="282.20" font-size="4.3" text-anchor="middle" font-family="Liberation Serif, serif" fill="#3a3a3a">700</text>
<path d="M381.94 276.50v-1.2M381.94 197.50v1.2" stroke="#a4a4a4" stroke-width="0.5"/>
<text x="381.94" y="282.20" font-size="4.3" text-anchor="middle" font-family="Liberation Serif, serif" fill="#3a3a3a">800</text>
<path d="M394.62 276.50v-1.2M394.62 197.50v1.2" stroke="#a4a4a4" stroke-width="0.5"/>
<text x="394.62" y="282.20" font-size="4.3" text-anchor="middle" font-family="Liberation Serif, serif" fill="#3a3a3a">900</text>
<path d="M407.30 276.50v-1.2M407.30 197.50v1.2" stroke="#a4a4a4" stroke-width="0.5"/>
<text x="407.30" y="282.20" font-size="4.3" text-anchor="middle" font-family="Liberation Serif, serif" fill="#3a3a3a">1000</text>
<path d="M293.20 276.50h1.2M407.30 276.50h-1.2" stroke="#a4a4a4" stroke-width="0.5"/>
<text x="292.00" y="278.40" font-size="4.3" text-anchor="end" font-family="Liberation Serif, serif" fill="#3a3a3a">0</text>
<path d="M293.20 265.21h1.2M407.30 265.21h-1.2" stroke="#a4a4a4" stroke-width="0.5"/>
<text x="292.00" y="267.11" font-size="4.3" text-anchor="end" font-family="Liberation Serif, serif" fill="#3a3a3a">0.2</text>
<path d="M293.20 253.93h1.2M407.30 253.93h-1.2" stroke="#a4a4a4" stroke-width="0.5"/>
<text x="292.00" y="255.83" font-size="4.3" text-anchor="end" font-family="Liberation Serif, serif" fill="#3a3a3a">0.4</text>
<path d="M293.20 242.64h1.2M407.30 242.64h-1.2" stroke="#a4a4a4" stroke-width="0.5"/>
<text x="292.00" y="244.54" font-size="4.3" text-anchor="end" font-family="Liberation Serif, serif" fill="#3a3a3a">0.6</text>
<path d="M293.20 231.36h1.2M407.30 231.36h-1.2" stroke="#a4a4a4" stroke-width="0.5"/>
<text x="292.00" y="233.26" font-size="4.3" text-anchor="end" font-family="Liberation Serif, serif" fill="#3a3a3a">0.8</text>
<path d="M293.20 220.07h1.2M407.30 220.07h-1.2" stroke="#a4a4a4" stroke-width="0.5"/>
<text x="292.00" y="221.97" font-size="4.3" text-anchor="end" font-family="Liberation Serif, serif" fill="#3a3a3a">1</text>
<path d="M293.20 208.79h1.2M407.30 208.79h-1.2" stroke="#a4a4a4" stroke-width="0.5"/>
<text x="292.00" y="210.69" font-size="4.3" text-anchor="end" font-family="Liberation Serif, serif" fill="#3a3a3a">1.2</text>
<path d="M293.20 197.50h1.2M407.30 197.50h-1.2" stroke="#a4a4a4" stroke-width="0.5"/>
<text x="292.00" y="199.40" font-size="4.3" text-anchor="end" font-family="Liberation Serif, serif" fill="#3a3a3a">1.4</text>
<text x="0" y="0" transform="translate(350.25,287.80) scale(0.86,1)" font-size="5.40" text-anchor="middle" font-family="Liberation Serif, serif" fill="#222">Number of superpixels</text>
<text x="0" y="0" transform="translate(285.00,237.00) rotate(-90) scale(0.92,1)" font-size="5.40" text-anchor="middle" font-family="Liberation Serif, serif" fill="#222">OR</text>
<path d="M293.20 271.71 L305.88 265.68 L318.56 258.56 L331.23 251.99 L343.91 244.86 L356.59 237.47 L381.94 223.77 L407.30 208.15" fill="none" stroke="#ff1a1a" stroke-width="0.9" stroke-linejoin="round"/>
<circle cx="293.20" cy="271.71" r="1.40" fill="#ff1a1a"/>
<circle cx="305.88" cy="265.68" r="1.40" fill="#ff1a1a"/>
<circle cx="318.56" cy="258.56" r="1.40" fill="#ff1a1a"/>
<circle cx="331.23" cy="251.99" r="1.40" fill="#ff1a1a"/>
<circle cx="343.91" cy="244.86" r="1.40" fill="#ff1a1a"/>
<circle cx="356.59" cy="237.47" r="1.40" fill="#ff1a1a"/>
<circle cx="381.94" cy="223.77" r="1.40" fill="#ff1a1a"/>
<circle cx="407.30" cy="208.15" r="1.40" fill="#ff1a1a"/>
<path d="M293.20 272.53 L305.88 267.60 L318.56 262.12 L331.23 256.64 L343.91 251.99 L356.59 243.77 L381.94 230.07 L407.30 219.11" fill="none" stroke="#ff1a1a" stroke-width="0.9" stroke-dasharray="1.9 1.1" stroke-linejoin="round"/>
<path d="M293.20 272.53 L305.88 267.60 L318.56 262.95 L331.23 257.47 L343.91 253.90 L356.59 246.51 L381.94 234.73 L407.30 222.95" fill="none" stroke="#000000" stroke-width="0.9" stroke-dasharray="1.9 1.1" stroke-linejoin="round"/>
<path d="M293.20 270.91L294.50 272.53L293.20 274.16L291.90 272.53Z" fill="none" stroke="#000000" stroke-width="0.6"/>
<path d="M305.88 265.98L307.18 267.60L305.88 269.23L304.58 267.60Z" fill="none" stroke="#000000" stroke-width="0.6"/>
<path d="M318.56 261.32L319.86 262.95L318.56 264.57L317.25 262.95Z" fill="none" stroke="#000000" stroke-width="0.6"/>
<path d="M331.23 255.84L332.54 257.47L331.23 259.09L329.93 257.47Z" fill="none" stroke="#000000" stroke-width="0.6"/>
<path d="M343.91 252.28L345.21 253.90L343.91 255.53L342.61 253.90Z" fill="none" stroke="#000000" stroke-width="0.6"/>
<path d="M356.59 244.88L357.89 246.51L356.59 248.13L355.29 246.51Z" fill="none" stroke="#000000" stroke-width="0.6"/>
<path d="M381.94 233.10L383.25 234.73L381.94 236.35L380.64 234.73Z" fill="none" stroke="#000000" stroke-width="0.6"/>
<path d="M407.30 221.32L408.60 222.95L407.30 224.57L406.00 222.95Z" fill="none" stroke="#000000" stroke-width="0.6"/>
<path d="M293.20 272.53 L305.88 268.42 L318.56 263.49 L331.23 258.01 L343.91 254.73 L356.59 249.79 L381.94 237.47 L407.30 226.51" fill="none" stroke="#3a3a3a" stroke-width="0.9" stroke-linejoin="round"/>
<circle cx="293.20" cy="272.53" r="1.26" fill="#3a3a3a"/>
<circle cx="305.88" cy="268.42" r="1.26" fill="#3a3a3a"/>
<circle cx="318.56" cy="263.49" r="1.26" fill="#3a3a3a"/>
<circle cx="331.23" cy="258.01" r="1.26" fill="#3a3a3a"/>
<circle cx="343.91" cy="254.73" r="1.26" fill="#3a3a3a"/>
<circle cx="356.59" cy="249.79" r="1.26" fill="#3a3a3a"/>
<circle cx="381.94" cy="237.47" r="1.26" fill="#3a3a3a"/>
<circle cx="407.30" cy="226.51" r="1.26" fill="#3a3a3a"/>
<path d="M293.20 273.08 L305.88 270.34 L318.56 265.68 L331.23 262.12 L343.91 260.21 L356.59 252.53 L381.94 242.95 L407.30 227.88" fill="none" stroke="#2a2aff" stroke-width="0.9" stroke-dasharray="1.9 1.1" stroke-linejoin="round"/>
<circle cx="293.20" cy="273.08" r="1.12" fill="#2a2aff"/>
<circle cx="305.88" cy="270.34" r="1.12" fill="#2a2aff"/>
<circle cx="318.56" cy="265.68" r="1.12" fill="#2a2aff"/>
<circle cx="331.23" cy="262.12" r="1.12" fill="#2a2aff"/>
<circle cx="343.91" cy="260.21" r="1.12" fill="#2a2aff"/>
<circle cx="356.59" cy="252.53" r="1.12" fill="#2a2aff"/>
<circle cx="381.94" cy="242.95" r="1.12" fill="#2a2aff"/>
<circle cx="407.30" cy="227.88" r="1.12" fill="#2a2aff"/>
<path d="M293.20 273.08 L305.88 268.97 L318.56 264.86 L331.23 260.21 L343.91 256.64 L356.59 252.53 L381.94 247.05 L407.30 236.10" fill="none" stroke="#ff20ff" stroke-width="0.9" stroke-linejoin="round"/>
<path d="M293.20 271.45L294.50 273.08L293.20 274.71L291.90 273.08Z" fill="#ff20ff"/>
<path d="M305.88 267.35L307.18 268.97L305.88 270.60L304.58 268.97Z" fill="#ff20ff"/>
<path d="M318.56 263.24L319.86 264.86L318.56 266.49L317.25 264.86Z" fill="#ff20ff"/>
<path d="M331.23 258.58L332.54 260.21L331.23 261.83L329.93 260.21Z" fill="#ff20ff"/>
<path d="M343.91 255.02L345.21 256.64L343.91 258.27L342.61 256.64Z" fill="#ff20ff"/>
<path d="M356.59 250.91L357.89 252.53L356.59 254.16L355.29 252.53Z" fill="#ff20ff"/>
<path d="M381.94 245.43L383.25 247.05L381.94 248.68L380.64 247.05Z" fill="#ff20ff"/>
<path d="M407.30 234.47L408.60 236.10L407.30 237.72L406.00 236.10Z" fill="#ff20ff"/>
<path d="M293.20 273.90 L305.88 273.08 L318.56 271.71 L331.23 270.34 L343.91 267.60 L356.59 264.86 L381.94 259.38 L407.30 252.53" fill="none" stroke="#00e000" stroke-width="0.9" stroke-dasharray="1.9 1.1" stroke-linejoin="round"/>
<path d="M293.20 274.45 L305.88 273.08 L318.56 271.71 L331.23 269.52 L343.91 268.42 L356.59 264.86 L381.94 260.21 L407.30 254.73" fill="none" stroke="#00e000" stroke-width="0.9" stroke-linejoin="round"/>
<circle cx="293.20" cy="274.45" r="1.26" fill="#00e000"/>
<circle cx="305.88" cy="273.08" r="1.26" fill="#00e000"/>
<circle cx="318.56" cy="271.71" r="1.26" fill="#00e000"/>
<circle cx="331.23" cy="269.52" r="1.26" fill="#00e000"/>
<circle cx="343.91" cy="268.42" r="1.26" fill="#00e000"/>
<circle cx="356.59" cy="264.86" r="1.26" fill="#00e000"/>
<circle cx="381.94" cy="260.21" r="1.26" fill="#00e000"/>
<circle cx="407.30" cy="254.73" r="1.26" fill="#00e000"/>
<path d="M293.20 275.00 L305.88 274.45 L318.56 273.08 L331.23 272.26 L343.91 271.16 L356.59 270.34 L381.94 266.23 L407.30 261.30" fill="none" stroke="#b04c14" stroke-width="0.9" stroke-linejoin="round"/>
<circle cx="293.20" cy="275.00" r="1.12" fill="#b04c14"/>
<circle cx="305.88" cy="274.45" r="1.12" fill="#b04c14"/>
<circle cx="318.56" cy="273.08" r="1.12" fill="#b04c14"/>
<circle cx="331.23" cy="272.26" r="1.12" fill="#b04c14"/>
<circle cx="343.91" cy="271.16" r="1.12" fill="#b04c14"/>
<circle cx="356.59" cy="270.34" r="1.12" fill="#b04c14"/>
<circle cx="381.94" cy="266.23" r="1.12" fill="#b04c14"/>
<circle cx="407.30" cy="261.30" r="1.12" fill="#b04c14"/>
<path d="M293.20 275.82 L305.88 275.00 L318.56 274.45 L331.23 274.45 L343.91 273.90 L356.59 273.08 L381.94 271.71 L407.30 269.52" fill="none" stroke="#2a2aff" stroke-width="0.9" stroke-linejoin="round"/>
<circle cx="293.20" cy="275.82" r="1.12" fill="#2a2aff"/>
<circle cx="305.88" cy="275.00" r="1.12" fill="#2a2aff"/>
<circle cx="318.56" cy="274.45" r="1.12" fill="#2a2aff"/>
<circle cx="331.23" cy="274.45" r="1.12" fill="#2a2aff"/>
<circle cx="343.91" cy="273.90" r="1.12" fill="#2a2aff"/>
<circle cx="356.59" cy="273.08" r="1.12" fill="#2a2aff"/>
<circle cx="381.94" cy="271.71" r="1.12" fill="#2a2aff"/>
<circle cx="407.30" cy="269.52" r="1.12" fill="#2a2aff"/>
<rect x="343.90" y="237.50" width="12.90" height="23.30" fill="none" stroke="#555" stroke-width="0.5"/>
<rect x="297.00" y="201.00" width="33.70" height="46.10" fill="#fff" stroke="#444" stroke-width="0.6"/>
<clipPath id="c1821"><rect x="297.00" y="201.00" width="33.70" height="46.10"/></clipPath>
<g clip-path="url(#c1821)">
<path d="M297.00 214.20 L330.70 201.00" fill="none" stroke="#ff1a1a" stroke-width="0.8" stroke-linejoin="round"/>
<path d="M297.00 228.40 L330.70 213.60" fill="none" stroke="#ff1a1a" stroke-width="0.8" stroke-dasharray="1.9 1.1" stroke-linejoin="round"/>
<path d="M297.00 233.40 L330.70 218.30" fill="none" stroke="#000000" stroke-width="0.8" stroke-dasharray="1.9 1.1" stroke-linejoin="round"/>
<path d="M297.00 234.70 L330.70 226.50" fill="none" stroke="#3a3a3a" stroke-width="0.8" stroke-linejoin="round"/>
<path d="M297.00 236.10 L330.70 226.00" fill="none" stroke="#2a2aff" stroke-width="0.8" stroke-linejoin="round"/>
<path d="M297.00 236.60 L330.70 230.10" fill="none" stroke="#ff20ff" stroke-width="0.8" stroke-linejoin="round"/>
<path d="M297.00 244.90 L330.70 226.50" fill="none" stroke="#2a2aff" stroke-width="0.8" stroke-dasharray="1.9 1.1" stroke-linejoin="round"/>
</g>
<circle cx="297.00" cy="214.20" r="1.26" fill="#ff1a1a"/>
<circle cx="330.70" cy="201.00" r="1.26" fill="#ff1a1a"/>
<rect x="295.81" y="227.21" width="2.37" height="2.37" fill="none" stroke="#ff1a1a" stroke-width="0.55"/>
<rect x="329.51" y="212.41" width="2.37" height="2.37" fill="none" stroke="#ff1a1a" stroke-width="0.55"/>
<path d="M297.00 231.94L298.17 233.40L297.00 234.86L295.83 233.40Z" fill="none" stroke="#000000" stroke-width="0.6"/>
<path d="M330.70 216.84L331.87 218.30L330.70 219.76L329.53 218.30Z" fill="none" stroke="#000000" stroke-width="0.6"/>
<circle cx="297.00" cy="234.70" r="1.26" fill="#3a3a3a"/>
<circle cx="330.70" cy="226.50" r="1.26" fill="#3a3a3a"/>
<circle cx="297.00" cy="236.10" r="1.26" fill="#2a2aff"/>
<circle cx="330.70" cy="226.00" r="1.26" fill="#2a2aff"/>
<path d="M297.00 235.14L298.17 236.60L297.00 238.06L295.83 236.60Z" fill="#ff20ff"/>
<path d="M330.70 228.64L331.87 230.10L330.70 231.56L329.53 230.10Z" fill="#ff20ff"/>
<circle cx="297.00" cy="244.90" r="1.26" fill="#2a2aff"/>
<circle cx="330.70" cy="226.50" r="1.26" fill="#2a2aff"/>
<rect x="431.30" y="197.50" width="114.20" height="79.00" fill="none" stroke="#a4a4a4" stroke-width="0.85"/>
<path d="M431.30 276.50v-1.2M431.30 197.50v1.2" stroke="#a4a4a4" stroke-width="0.5"/>
<text x="431.30" y="282.20" font-size="4.3" text-anchor="middle" font-family="Liberation Serif, serif" fill="#3a3a3a">100</text>
<path d="M443.99 276.50v-1.2M443.99 197.50v1.2" stroke="#a4a4a4" stroke-width="0.5"/>
<text x="443.99" y="282.20" font-size="4.3" text-anchor="middle" font-family="Liberation Serif, serif" fill="#3a3a3a">200</text>
<path d="M456.68 276.50v-1.2M456.68 197.50v1.2" stroke="#a4a4a4" stroke-width="0.5"/>
<text x="456.68" y="282.20" font-size="4.3" text-anchor="middle" font-family="Liberation Serif, serif" fill="#3a3a3a">300</text>
<path d="M469.37 276.50v-1.2M469.37 197.50v1.2" stroke="#a4a4a4" stroke-width="0.5"/>
<text x="469.37" y="282.20" font-size="4.3" text-anchor="middle" font-family="Liberation Serif, serif" fill="#3a3a3a">400</text>
<path d="M482.06 276.50v-1.2M482.06 197.50v1.2" stroke="#a4a4a4" stroke-width="0.5"/>
<text x="482.06" y="282.20" font-size="4.3" text-anchor="middle" font-family="Liberation Serif, serif" fill="#3a3a3a">500</text>
<path d="M494.74 276.50v-1.2M494.74 197.50v1.2" stroke="#a4a4a4" stroke-width="0.5"/>
<text x="494.74" y="282.20" font-size="4.3" text-anchor="middle" font-family="Liberation Serif, serif" fill="#3a3a3a">600</text>
<path d="M507.43 276.50v-1.2M507.43 197.50v1.2" stroke="#a4a4a4" stroke-width="0.5"/>
<text x="507.43" y="282.20" font-size="4.3" text-anchor="middle" font-family="Liberation Serif, serif" fill="#3a3a3a">700</text>
<path d="M520.12 276.50v-1.2M520.12 197.50v1.2" stroke="#a4a4a4" stroke-width="0.5"/>
<text x="520.12" y="282.20" font-size="4.3" text-anchor="middle" font-family="Liberation Serif, serif" fill="#3a3a3a">800</text>
<path d="M532.81 276.50v-1.2M532.81 197.50v1.2" stroke="#a4a4a4" stroke-width="0.5"/>
<text x="532.81" y="282.20" font-size="4.3" text-anchor="middle" font-family="Liberation Serif, serif" fill="#3a3a3a">900</text>
<path d="M545.50 276.50v-1.2M545.50 197.50v1.2" stroke="#a4a4a4" stroke-width="0.5"/>
<text x="545.50" y="282.20" font-size="4.3" text-anchor="middle" font-family="Liberation Serif, serif" fill="#3a3a3a">1000</text>
<path d="M431.30 276.50h1.2M545.50 276.50h-1.2" stroke="#a4a4a4" stroke-width="0.5"/>
<text x="430.10" y="278.40" font-size="4.3" text-anchor="end" font-family="Liberation Serif, serif" fill="#3a3a3a">0</text>
<path d="M431.30 256.75h1.2M545.50 256.75h-1.2" stroke="#a4a4a4" stroke-width="0.5"/>
<text x="430.10" y="258.65" font-size="4.3" text-anchor="end" font-family="Liberation Serif, serif" fill="#3a3a3a">0.5</text>
<path d="M431.30 237.00h1.2M545.50 237.00h-1.2" stroke="#a4a4a4" stroke-width="0.5"/>
<text x="430.10" y="238.90" font-size="4.3" text-anchor="end" font-family="Liberation Serif, serif" fill="#3a3a3a">1</text>
<path d="M431.30 217.25h1.2M545.50 217.25h-1.2" stroke="#a4a4a4" stroke-width="0.5"/>
<text x="430.10" y="219.15" font-size="4.3" text-anchor="end" font-family="Liberation Serif, serif" fill="#3a3a3a">1.5</text>
<path d="M431.30 197.50h1.2M545.50 197.50h-1.2" stroke="#a4a4a4" stroke-width="0.5"/>
<text x="430.10" y="199.40" font-size="4.3" text-anchor="end" font-family="Liberation Serif, serif" fill="#3a3a3a">2</text>
<text x="0" y="0" transform="translate(488.40,287.80) scale(0.86,1)" font-size="5.40" text-anchor="middle" font-family="Liberation Serif, serif" fill="#222">Number of superpixels</text>
<text x="0" y="0" transform="translate(423.10,237.00) rotate(-90) scale(0.92,1)" font-size="5.40" text-anchor="middle" font-family="Liberation Serif, serif" fill="#222">OR</text>
<path d="M431.30 271.16 L443.99 264.86 L456.68 256.64 L469.37 249.25 L482.06 242.12 L494.74 234.73 L520.12 219.66 L545.50 203.22" fill="none" stroke="#ff1a1a" stroke-width="0.9" stroke-linejoin="round"/>
<circle cx="431.30" cy="271.16" r="1.40" fill="#ff1a1a"/>
<circle cx="443.99" cy="264.86" r="1.40" fill="#ff1a1a"/>
<circle cx="456.68" cy="256.64" r="1.40" fill="#ff1a1a"/>
<circle cx="469.37" cy="249.25" r="1.40" fill="#ff1a1a"/>
<circle cx="482.06" cy="242.12" r="1.40" fill="#ff1a1a"/>
<circle cx="494.74" cy="234.73" r="1.40" fill="#ff1a1a"/>
<circle cx="520.12" cy="219.66" r="1.40" fill="#ff1a1a"/>
<circle cx="545.50" cy="203.22" r="1.40" fill="#ff1a1a"/>
<path d="M431.30 271.71 L443.99 266.78 L456.68 260.21 L469.37 253.90 L482.06 249.25 L494.74 242.12 L520.12 231.16 L545.50 218.29" fill="none" stroke="#ff1a1a" stroke-width="0.9" stroke-dasharray="1.9 1.1" stroke-linejoin="round"/>
<rect x="429.98" y="270.39" width="2.63" height="2.63" fill="none" stroke="#ff1a1a" stroke-width="0.55"/>
<rect x="442.67" y="265.46" width="2.63" height="2.63" fill="none" stroke="#ff1a1a" stroke-width="0.55"/>
<rect x="455.36" y="258.89" width="2.63" height="2.63" fill="none" stroke="#ff1a1a" stroke-width="0.55"/>
<rect x="468.05" y="252.59" width="2.63" height="2.63" fill="none" stroke="#ff1a1a" stroke-width="0.55"/>
<rect x="480.74" y="247.93" width="2.63" height="2.63" fill="none" stroke="#ff1a1a" stroke-width="0.55"/>
<rect x="493.43" y="240.81" width="2.63" height="2.63" fill="none" stroke="#ff1a1a" stroke-width="0.55"/>
<rect x="518.80" y="229.85" width="2.63" height="2.63" fill="none" stroke="#ff1a1a" stroke-width="0.55"/>
<rect x="544.18" y="216.97" width="2.63" height="2.63" fill="none" stroke="#ff1a1a" stroke-width="0.55"/>
<path d="M431.30 272.26 L443.99 268.42 L456.68 264.86 L469.37 260.75 L482.06 257.47 L494.74 251.16 L520.12 244.32 L545.50 229.25" fill="none" stroke="#3a3a3a" stroke-width="0.9" stroke-linejoin="round"/>
<circle cx="431.30" cy="272.26" r="1.53" fill="#3a3a3a"/>
<circle cx="443.99" cy="268.42" r="1.53" fill="#3a3a3a"/>
<circle cx="456.68" cy="264.86" r="1.53" fill="#3a3a3a"/>
<circle cx="469.37" cy="260.75" r="1.53" fill="#3a3a3a"/>
<circle cx="482.06" cy="257.47" r="1.53" fill="#3a3a3a"/>
<circle cx="494.74" cy="251.16" r="1.53" fill="#3a3a3a"/>
<circle cx="520.12" cy="244.32" r="1.53" fill="#3a3a3a"/>
<circle cx="545.50" cy="229.25" r="1.53" fill="#3a3a3a"/>
<path d="M431.30 272.26 L443.99 268.97 L456.68 265.68 L469.37 262.12 L482.06 258.56 L494.74 253.08 L520.12 245.41 L545.50 231.16" fill="none" stroke="#000000" stroke-width="0.9" stroke-dasharray="1.9 1.1" stroke-linejoin="round"/>
<path d="M431.30 270.63L432.60 272.26L431.30 273.89L430.00 272.26Z" fill="none" stroke="#000000" stroke-width="0.6"/>
<path d="M443.99 267.35L445.29 268.97L443.99 270.60L442.69 268.97Z" fill="none" stroke="#000000" stroke-width="0.6"/>
<path d="M456.68 264.06L457.98 265.68L456.68 267.31L455.38 265.68Z" fill="none" stroke="#000000" stroke-width="0.6"/>
<path d="M469.37 260.50L470.67 262.12L469.37 263.75L468.06 262.12Z" fill="none" stroke="#000000" stroke-width="0.6"/>
<path d="M482.06 256.93L483.36 258.56L482.06 260.19L480.75 258.56Z" fill="none" stroke="#000000" stroke-width="0.6"/>
<path d="M494.74 251.45L496.05 253.08L494.74 254.71L493.44 253.08Z" fill="none" stroke="#000000" stroke-width="0.6"/>
<path d="M520.12 243.78L521.42 245.41L520.12 247.04L518.82 245.41Z" fill="none" stroke="#000000" stroke-width="0.6"/>
<path d="M545.50 229.54L546.80 231.16L545.50 232.79L544.20 231.16Z" fill="none" stroke="#000000" stroke-width="0.6"/>
<path d="M431.30 273.08 L443.99 271.16 L456.68 268.42 L469.37 266.23 L482.06 263.49 L494.74 260.75 L520.12 251.71 L545.50 238.01" fill="none" stroke="#2a2aff" stroke-width="0.9" stroke-dasharray="1.9 1.1" stroke-linejoin="round"/>
<path d="M431.30 273.08 L443.99 270.34 L456.68 267.60 L469.37 264.86 L482.06 262.12 L494.74 256.64 L520.12 251.99 L545.50 242.12" fill="none" stroke="#ff20ff" stroke-width="0.9" stroke-linejoin="round"/>
<path d="M431.30 271.45L432.60 273.08L431.30 274.71L430.00 273.08Z" fill="#ff20ff"/>
<path d="M443.99 268.71L445.29 270.34L443.99 271.97L442.69 270.34Z" fill="#ff20ff"/>
<path d="M456.68 265.98L457.98 267.60L456.68 269.23L455.38 267.60Z" fill="#ff20ff"/>
<path d="M469.37 263.24L470.67 264.86L469.37 266.49L468.06 264.86Z" fill="#ff20ff"/>
<path d="M482.06 260.50L483.36 262.12L482.06 263.75L480.75 262.12Z" fill="#ff20ff"/>
<path d="M494.74 255.02L496.05 256.64L494.74 258.27L493.44 256.64Z" fill="#ff20ff"/>
<path d="M520.12 250.36L521.42 251.99L520.12 253.61L518.82 251.99Z" fill="#ff20ff"/>
<path d="M545.50 240.50L546.80 242.12L545.50 243.75L544.20 242.12Z" fill="#ff20ff"/>
<path d="M431.30 273.63 L443.99 272.53 L456.68 271.16 L469.37 269.25 L482.06 267.88 L494.74 265.68 L520.12 260.75 L545.50 254.73" fill="none" stroke="#00e000" stroke-width="0.9" stroke-dasharray="1.9 1.1" stroke-linejoin="round"/>
<path d="M431.30 273.90 L443.99 273.08 L456.68 271.71 L469.37 269.79 L482.06 268.70 L494.74 266.51 L520.12 261.58 L545.50 255.82" fill="none" stroke="#00e000" stroke-width="0.9" stroke-linejoin="round"/>
<circle cx="431.30" cy="273.90" r="1.26" fill="#00e000"/>
<circle cx="443.99" cy="273.08" r="1.26" fill="#00e000"/>
<circle cx="456.68" cy="271.71" r="1.26" fill="#00e000"/>
<circle cx="469.37" cy="269.79" r="1.26" fill="#00e000"/>
<circle cx="482.06" cy="268.70" r="1.26" fill="#00e000"/>
<circle cx="494.74" cy="266.51" r="1.26" fill="#00e000"/>
<circle cx="520.12" cy="261.58" r="1.26" fill="#00e000"/>
<circle cx="545.50" cy="255.82" r="1.26" fill="#00e000"/>
<path d="M431.30 274.45 L443.99 273.08 L456.68 272.26 L469.37 271.16 L482.06 269.52 L494.74 267.60 L520.12 263.49 L545.50 259.38" fill="none" stroke="#b04c14" stroke-width="0.9" stroke-linejoin="round"/>
<circle cx="431.30" cy="274.45" r="1.12" fill="#b04c14"/>
<circle cx="443.99" cy="273.08" r="1.12" fill="#b04c14"/>
<circle cx="456.68" cy="272.26" r="1.12" fill="#b04c14"/>
<circle cx="469.37" cy="271.16" r="1.12" fill="#b04c14"/>
<circle cx="482.06" cy="269.52" r="1.12" fill="#b04c14"/>
<circle cx="494.74" cy="267.60" r="1.12" fill="#b04c14"/>
<circle cx="520.12" cy="263.49" r="1.12" fill="#b04c14"/>
<circle cx="545.50" cy="259.38" r="1.12" fill="#b04c14"/>
<path d="M431.30 275.00 L443.99 274.45 L456.68 273.90 L469.37 273.08 L482.06 271.71 L494.74 270.34 L520.12 267.60 L545.50 263.49" fill="none" stroke="#2a2aff" stroke-width="0.9" stroke-linejoin="round"/>
<circle cx="431.30" cy="275.00" r="1.12" fill="#2a2aff"/>
<circle cx="443.99" cy="274.45" r="1.12" fill="#2a2aff"/>
<circle cx="456.68" cy="273.90" r="1.12" fill="#2a2aff"/>
<circle cx="469.37" cy="273.08" r="1.12" fill="#2a2aff"/>
<circle cx="482.06" cy="271.71" r="1.12" fill="#2a2aff"/>
<circle cx="494.74" cy="270.34" r="1.12" fill="#2a2aff"/>
<circle cx="520.12" cy="267.60" r="1.12" fill="#2a2aff"/>
<circle cx="545.50" cy="263.49" r="1.12" fill="#2a2aff"/>
<rect x="481.90" y="250.80" width="12.90" height="11.70" fill="none" stroke="#555" stroke-width="0.5"/>
<rect x="435.00" y="199.10" width="34.50" height="48.50" fill="#fff" stroke="#444" stroke-width="0.6"/>
<clipPath id="c1954"><rect x="435.00" y="199.10" width="34.50" height="48.50"/></clipPath>
<g clip-path="url(#c1954)">
<path d="M435.00 214.70 L469.50 200.50" fill="none" stroke="#3a3a3a" stroke-width="0.8" stroke-linejoin="round"/>
<path d="M435.00 219.70 L469.50 202.70" fill="none" stroke="#000000" stroke-width="0.8" stroke-dasharray="1.9 1.1" stroke-linejoin="round"/>
<path d="M435.00 222.40 L469.50 214.20" fill="none" stroke="#ff20ff" stroke-width="0.8" stroke-linejoin="round"/>
<path d="M435.00 232.00 L469.50 218.30" fill="none" stroke="#2a2aff" stroke-width="0.8" stroke-dasharray="1.9 1.1" stroke-linejoin="round"/>
<path d="M435.00 240.20 L469.50 234.70" fill="none" stroke="#00e000" stroke-width="0.8" stroke-linejoin="round"/>
<path d="M435.00 242.10 L469.50 236.60" fill="none" stroke="#00e000" stroke-width="0.8" stroke-dasharray="1.9 1.1" stroke-linejoin="round"/>
<path d="M435.00 244.90 L469.50 239.40" fill="none" stroke="#b04c14" stroke-width="0.8" stroke-linejoin="round"/>
</g>
<circle cx="435.00" cy="214.70" r="1.26" fill="#3a3a3a"/>
<circle cx="469.50" cy="200.50" r="1.26" fill="#3a3a3a"/>
<path d="M435.00 218.24L436.17 219.70L435.00 221.16L433.83 219.70Z" fill="none" stroke="#000000" stroke-width="0.6"/>
<path d="M469.50 201.24L470.67 202.70L469.50 204.16L468.33 202.70Z" fill="none" stroke="#000000" stroke-width="0.6"/>
<path d="M435.00 220.94L436.17 222.40L435.00 223.86L433.83 222.40Z" fill="#ff20ff"/>
<path d="M469.50 212.74L470.67 214.20L469.50 215.66L468.33 214.20Z" fill="#ff20ff"/>
<circle cx="435.00" cy="232.00" r="1.26" fill="#2a2aff"/>
<circle cx="469.50" cy="218.30" r="1.26" fill="#2a2aff"/>
<circle cx="435.00" cy="240.20" r="1.26" fill="#00e000"/>
<circle cx="469.50" cy="234.70" r="1.26" fill="#00e000"/>
<circle cx="435.00" cy="242.10" r="1.26" fill="#00e000"/>
<circle cx="469.50" cy="236.60" r="1.26" fill="#00e000"/>
<circle cx="435.00" cy="244.90" r="1.26" fill="#b04c14"/>
<circle cx="469.50" cy="239.40" r="1.26" fill="#b04c14"/>
<rect x="570.30" y="197.50" width="113.70" height="79.00" fill="none" stroke="#a4a4a4" stroke-width="0.85"/>
<path d="M570.30 276.50v-1.2M570.30 197.50v1.2" stroke="#a4a4a4" stroke-width="0.5"/>
<text x="570.30" y="282.20" font-size="4.3" text-anchor="middle" font-family="Liberation Serif, serif" fill="#3a3a3a">100</text>
<path d="M582.93 276.50v-1.2M582.93 197.50v1.2" stroke="#a4a4a4" stroke-width="0.5"/>
<text x="582.93" y="282.20" font-size="4.3" text-anchor="middle" font-family="Liberation Serif, serif" fill="#3a3a3a">200</text>
<path d="M595.57 276.50v-1.2M595.57 197.50v1.2" stroke="#a4a4a4" stroke-width="0.5"/>
<text x="595.57" y="282.20" font-size="4.3" text-anchor="middle" font-family="Liberation Serif, serif" fill="#3a3a3a">300</text>
<path d="M608.20 276.50v-1.2M608.20 197.50v1.2" stroke="#a4a4a4" stroke-width="0.5"/>
<text x="608.20" y="282.20" font-size="4.3" text-anchor="middle" font-family="Liberation Serif, serif" fill="#3a3a3a">400</text>
<path d="M620.83 276.50v-1.2M620.83 197.50v1.2" stroke="#a4a4a4" stroke-width="0.5"/>
<text x="620.83" y="282.20" font-size="4.3" text-anchor="middle" font-family="Liberation Serif, serif" fill="#3a3a3a">500</text>
<path d="M633.47 276.50v-1.2M633.47 197.50v1.2" stroke="#a4a4a4" stroke-width="0.5"/>
<text x="633.47" y="282.20" font-size="4.3" text-anchor="middle" font-family="Liberation Serif, serif" fill="#3a3a3a">600</text>
<path d="M646.10 276.50v-1.2M646.10 197.50v1.2" stroke="#a4a4a4" stroke-width="0.5"/>
<text x="646.10" y="282.20" font-size="4.3" text-anchor="middle" font-family="Liberation Serif, serif" fill="#3a3a3a">700</text>
<path d="M658.73 276.50v-1.2M658.73 197.50v1.2" stroke="#a4a4a4" stroke-width="0.5"/>
<text x="658.73" y="282.20" font-size="4.3" text-anchor="middle" font-family="Liberation Serif, serif" fill="#3a3a3a">800</text>
<path d="M671.37 276.50v-1.2M671.37 197.50v1.2" stroke="#a4a4a4" stroke-width="0.5"/>
<text x="671.37" y="282.20" font-size="4.3" text-anchor="middle" font-family="Liberation Serif, serif" fill="#3a3a3a">900</text>
<path d="M684.00 276.50v-1.2M684.00 197.50v1.2" stroke="#a4a4a4" stroke-width="0.5"/>
<text x="684.00" y="282.20" font-size="4.3" text-anchor="middle" font-family="Liberation Serif, serif" fill="#3a3a3a">1000</text>
<path d="M570.30 276.50h1.2M684.00 276.50h-1.2" stroke="#a4a4a4" stroke-width="0.5"/>
<text x="569.10" y="278.40" font-size="4.3" text-anchor="end" font-family="Liberation Serif, serif" fill="#3a3a3a">0</text>
<path d="M570.30 263.33h1.2M684.00 263.33h-1.2" stroke="#a4a4a4" stroke-width="0.5"/>
<text x="569.10" y="265.23" font-size="4.3" text-anchor="end" font-family="Liberation Serif, serif" fill="#3a3a3a">0.2</text>
<path d="M570.30 250.17h1.2M684.00 250.17h-1.2" stroke="#a4a4a4" stroke-width="0.5"/>
<text x="569.10" y="252.07" font-size="4.3" text-anchor="end" font-family="Liberation Serif, serif" fill="#3a3a3a">0.4</text>
<path d="M570.30 237.00h1.2M684.00 237.00h-1.2" stroke="#a4a4a4" stroke-width="0.5"/>
<text x="569.10" y="238.90" font-size="4.3" text-anchor="end" font-family="Liberation Serif, serif" fill="#3a3a3a">0.6</text>
<path d="M570.30 223.83h1.2M684.00 223.83h-1.2" stroke="#a4a4a4" stroke-width="0.5"/>
<text x="569.10" y="225.73" font-size="4.3" text-anchor="end" font-family="Liberation Serif, serif" fill="#3a3a3a">0.8</text>
<path d="M570.30 210.67h1.2M684.00 210.67h-1.2" stroke="#a4a4a4" stroke-width="0.5"/>
<text x="569.10" y="212.57" font-size="4.3" text-anchor="end" font-family="Liberation Serif, serif" fill="#3a3a3a">1</text>
<path d="M570.30 197.50h1.2M684.00 197.50h-1.2" stroke="#a4a4a4" stroke-width="0.5"/>
<text x="569.10" y="199.40" font-size="4.3" text-anchor="end" font-family="Liberation Serif, serif" fill="#3a3a3a">1.2</text>
<text x="0" y="0" transform="translate(627.15,287.80) scale(0.86,1)" font-size="5.40" text-anchor="middle" font-family="Liberation Serif, serif" fill="#222">Number of superpixels</text>
<text x="0" y="0" transform="translate(562.10,237.00) rotate(-90) scale(0.92,1)" font-size="5.40" text-anchor="middle" font-family="Liberation Serif, serif" fill="#222">OR</text>
<path d="M570.30 269.52 L582.93 264.04 L595.57 258.01 L608.20 249.79 L620.83 242.12 L633.47 234.73 L658.73 222.40 L684.00 201.85" fill="none" stroke="#2a2aff" stroke-width="0.9" stroke-dasharray="1.9 1.1" stroke-linejoin="round"/>
<circle cx="570.30" cy="269.52" r="1.12" fill="#2a2aff"/>
<circle cx="582.93" cy="264.04" r="1.12" fill="#2a2aff"/>
<circle cx="595.57" cy="258.01" r="1.12" fill="#2a2aff"/>
<circle cx="608.20" cy="249.79" r="1.12" fill="#2a2aff"/>
<circle cx="620.83" cy="242.12" r="1.12" fill="#2a2aff"/>
<circle cx="633.47" cy="234.73" r="1.12" fill="#2a2aff"/>
<circle cx="658.73" cy="222.40" r="1.12" fill="#2a2aff"/>
<circle cx="684.00" cy="201.85" r="1.12" fill="#2a2aff"/>
<path d="M570.30 270.34 L582.93 265.68 L595.57 260.75 L608.20 253.90 L620.83 249.79 L633.47 241.03 L658.73 230.07 L684.00 211.44" fill="none" stroke="#3a3a3a" stroke-width="0.9" stroke-linejoin="round"/>
<circle cx="570.30" cy="270.34" r="1.53" fill="#3a3a3a"/>
<circle cx="582.93" cy="265.68" r="1.53" fill="#3a3a3a"/>
<circle cx="595.57" cy="260.75" r="1.53" fill="#3a3a3a"/>
<circle cx="608.20" cy="253.90" r="1.53" fill="#3a3a3a"/>
<circle cx="620.83" cy="249.79" r="1.53" fill="#3a3a3a"/>
<circle cx="633.47" cy="241.03" r="1.53" fill="#3a3a3a"/>
<circle cx="658.73" cy="230.07" r="1.53" fill="#3a3a3a"/>
<circle cx="684.00" cy="211.44" r="1.53" fill="#3a3a3a"/>
<path d="M570.30 270.34 L582.93 265.68 L595.57 261.30 L608.20 255.27 L620.83 251.16 L633.47 242.95 L658.73 231.99 L684.00 217.47" fill="none" stroke="#00e000" stroke-width="0.9" stroke-dasharray="1.9 1.1" stroke-linejoin="round"/>
<path d="M570.30 271.16 L582.93 267.60 L595.57 264.04 L608.20 259.38 L620.83 254.73 L633.47 249.79 L658.73 238.84 L684.00 227.33" fill="none" stroke="#ff1a1a" stroke-width="0.9" stroke-linejoin="round"/>
<circle cx="570.30" cy="271.16" r="1.40" fill="#ff1a1a"/>
<circle cx="582.93" cy="267.60" r="1.40" fill="#ff1a1a"/>
<circle cx="595.57" cy="264.04" r="1.40" fill="#ff1a1a"/>
<circle cx="608.20" cy="259.38" r="1.40" fill="#ff1a1a"/>
<circle cx="620.83" cy="254.73" r="1.40" fill="#ff1a1a"/>
<circle cx="633.47" cy="249.79" r="1.40" fill="#ff1a1a"/>
<circle cx="658.73" cy="238.84" r="1.40" fill="#ff1a1a"/>
<circle cx="684.00" cy="227.33" r="1.40" fill="#ff1a1a"/>
<path d="M570.30 271.71 L582.93 268.97 L595.57 265.68 L608.20 260.75 L620.83 257.47 L633.47 253.90 L658.73 245.68 L684.00 233.90" fill="none" stroke="#ff20ff" stroke-width="0.9" stroke-linejoin="round"/>
<path d="M570.30 270.08L571.60 271.71L570.30 273.34L569.00 271.71Z" fill="#ff20ff"/>
<path d="M582.93 267.35L584.24 268.97L582.93 270.60L581.63 268.97Z" fill="#ff20ff"/>
<path d="M595.57 264.06L596.87 265.68L595.57 267.31L594.26 265.68Z" fill="#ff20ff"/>
<path d="M608.20 259.13L609.50 260.75L608.20 262.38L606.90 260.75Z" fill="#ff20ff"/>
<path d="M620.83 255.84L622.14 257.47L620.83 259.09L619.53 257.47Z" fill="#ff20ff"/>
<path d="M633.47 252.28L634.77 253.90L633.47 255.53L632.16 253.90Z" fill="#ff20ff"/>
<path d="M658.73 244.06L660.04 245.68L658.73 247.31L657.43 245.68Z" fill="#ff20ff"/>
<path d="M684.00 232.28L685.30 233.90L684.00 235.53L682.70 233.90Z" fill="#ff20ff"/>
<path d="M570.30 271.99 L582.93 269.52 L595.57 266.78 L608.20 262.12 L620.83 258.56 L633.47 254.73 L658.73 247.05 L684.00 235.55" fill="none" stroke="#ff1a1a" stroke-width="0.9" stroke-dasharray="1.9 1.1" stroke-linejoin="round"/>
<path d="M570.30 272.53 L582.93 270.34 L595.57 268.42 L608.20 265.68 L620.83 262.95 L633.47 259.38 L658.73 252.53 L684.00 246.51" fill="none" stroke="#00e000" stroke-width="0.9" stroke-linejoin="round"/>
<circle cx="570.30" cy="272.53" r="1.26" fill="#00e000"/>
<circle cx="582.93" cy="270.34" r="1.26" fill="#00e000"/>
<circle cx="595.57" cy="268.42" r="1.26" fill="#00e000"/>
<circle cx="608.20" cy="265.68" r="1.26" fill="#00e000"/>
<circle cx="620.83" cy="262.95" r="1.26" fill="#00e000"/>
<circle cx="633.47" cy="259.38" r="1.26" fill="#00e000"/>
<circle cx="658.73" cy="252.53" r="1.26" fill="#00e000"/>
<circle cx="684.00" cy="246.51" r="1.26" fill="#00e000"/>
<path d="M570.30 273.08 L582.93 270.34 L595.57 267.60 L608.20 264.86 L620.83 262.12 L633.47 259.38 L658.73 253.08 L684.00 245.68" fill="none" stroke="#2a2aff" stroke-width="0.9" stroke-linejoin="round"/>
<circle cx="570.30" cy="273.08" r="1.12" fill="#2a2aff"/>
<circle cx="582.93" cy="270.34" r="1.12" fill="#2a2aff"/>
<circle cx="595.57" cy="267.60" r="1.12" fill="#2a2aff"/>
<circle cx="608.20" cy="264.86" r="1.12" fill="#2a2aff"/>
<circle cx="620.83" cy="262.12" r="1.12" fill="#2a2aff"/>
<circle cx="633.47" cy="259.38" r="1.12" fill="#2a2aff"/>
<circle cx="658.73" cy="253.08" r="1.12" fill="#2a2aff"/>
<circle cx="684.00" cy="245.68" r="1.12" fill="#2a2aff"/>
<path d="M570.30 275.00 L582.93 274.45 L595.57 273.08 L608.20 271.16 L620.83 269.52 L633.47 267.60 L658.73 263.49 L684.00 258.56" fill="none" stroke="#b04c14" stroke-width="0.9" stroke-linejoin="round"/>
<circle cx="570.30" cy="275.00" r="1.12" fill="#b04c14"/>
<circle cx="582.93" cy="274.45" r="1.12" fill="#b04c14"/>
<circle cx="595.57" cy="273.08" r="1.12" fill="#b04c14"/>
<circle cx="608.20" cy="271.16" r="1.12" fill="#b04c14"/>
<circle cx="620.83" cy="269.52" r="1.12" fill="#b04c14"/>
<circle cx="633.47" cy="267.60" r="1.12" fill="#b04c14"/>
<circle cx="658.73" cy="263.49" r="1.12" fill="#b04c14"/>
<circle cx="684.00" cy="258.56" r="1.12" fill="#b04c14"/>
<rect x="620.10" y="239.70" width="13.70" height="23.20" fill="none" stroke="#555" stroke-width="0.5"/>
<rect x="574.00" y="199.90" width="34.50" height="48.50" fill="#fff" stroke="#444" stroke-width="0.6"/>
<clipPath id="c2082"><rect x="574.00" y="199.90" width="34.50" height="48.50"/></clipPath>
<g clip-path="url(#c2082)">
<path d="M574.00 212.00 L608.50 197.00" fill="none" stroke="#2a2aff" stroke-width="0.8" stroke-dasharray="1.9 1.1" stroke-linejoin="round"/>
<path d="M574.00 214.20 L608.50 201.80" fill="none" stroke="#00e000" stroke-width="0.8" stroke-dasharray="1.9 1.1" stroke-linejoin="round"/>
<path d="M574.00 220.20 L608.50 202.70" fill="none" stroke="#000000" stroke-width="0.8" stroke-dasharray="1.9 1.1" stroke-linejoin="round"/>
<path d="M574.00 221.80 L608.50 204.60" fill="none" stroke="#3a3a3a" stroke-width="0.8" stroke-linejoin="round"/>
<path d="M574.00 230.10 L608.50 219.70" fill="none" stroke="#ff1a1a" stroke-width="0.8" stroke-linejoin="round"/>
<path d="M574.00 232.00 L608.50 223.80" fill="none" stroke="#ff20ff" stroke-width="0.8" stroke-linejoin="round"/>
<path d="M574.00 237.50 L608.50 226.50" fill="none" stroke="#ff1a1a" stroke-width="0.8" stroke-dasharray="1.9 1.1" stroke-linejoin="round"/>
<path d="M574.00 244.30 L608.50 240.20" fill="none" stroke="#00e000" stroke-width="0.8" stroke-linejoin="round"/>
<path d="M574.00 246.50 L608.50 241.00" fill="none" stroke="#2a2aff" stroke-width="0.8" stroke-linejoin="round"/>
</g>
<circle cx="574.00" cy="212.00" r="1.26" fill="#2a2aff"/>
<circle cx="608.50" cy="197.00" r="1.26" fill="#2a2aff"/>
<circle cx="574.00" cy="214.20" r="1.26" fill="#00e000"/>
<circle cx="608.50" cy="201.80" r="1.26" fill="#00e000"/>
<path d="M574.00 218.74L575.17 220.20L574.00 221.66L572.83 220.20Z" fill="none" stroke="#000000" stroke-width="0.6"/>
<path d="M608.50 201.24L609.67 202.70L608.50 204.16L607.33 202.70Z" fill="none" stroke="#000000" stroke-width="0.6"/>
<circle cx="574.00" cy="221.80" r="1.26" fill="#3a3a3a"/>
<circle cx="608.50" cy="204.60" r="1.26" fill="#3a3a3a"/>
<circle cx="574.00" cy="230.10" r="1.26" fill="#ff1a1a"/>
<circle cx="608.50" cy="219.70" r="1.26" fill="#ff1a1a"/>
<path d="M574.00 230.54L575.17 232.00L574.00 233.46L572.83 232.00Z" fill="#ff20ff"/>
<path d="M608.50 222.34L609.67 223.80L608.50 225.26L607.33 223.80Z" fill="#ff20ff"/>
<rect x="572.81" y="236.31" width="2.37" height="2.37" fill="none" stroke="#ff1a1a" stroke-width="0.55"/>
<rect x="607.31" y="225.31" width="2.37" height="2.37" fill="none" stroke="#ff1a1a" stroke-width="0.55"/>
<circle cx="574.00" cy="244.30" r="1.26" fill="#00e000"/>
<circle cx="608.50" cy="240.20" r="1.26" fill="#00e000"/>
<circle cx="574.00" cy="246.50" r="1.26" fill="#2a2aff"/>
<circle cx="608.50" cy="241.00" r="1.26" fill="#2a2aff"/>
<rect x="708.40" y="197.40" width="114.30" height="79.10" fill="none" stroke="#a4a4a4" stroke-width="0.85"/>
<path d="M727.45 276.50v-1.2M727.45 197.40v1.2" stroke="#a4a4a4" stroke-width="0.5"/>
<text x="727.45" y="282.20" font-size="4.3" text-anchor="middle" font-family="Liberation Serif, serif" fill="#3a3a3a">500</text>
<path d="M751.26 276.50v-1.2M751.26 197.40v1.2" stroke="#a4a4a4" stroke-width="0.5"/>
<text x="751.26" y="282.20" font-size="4.3" text-anchor="middle" font-family="Liberation Serif, serif" fill="#3a3a3a">1000</text>
<path d="M775.08 276.50v-1.2M775.08 197.40v1.2" stroke="#a4a4a4" stroke-width="0.5"/>
<text x="775.08" y="282.20" font-size="4.3" text-anchor="middle" font-family="Liberation Serif, serif" fill="#3a3a3a">1500</text>
<path d="M798.89 276.50v-1.2M798.89 197.40v1.2" stroke="#a4a4a4" stroke-width="0.5"/>
<text x="798.89" y="282.20" font-size="4.3" text-anchor="middle" font-family="Liberation Serif, serif" fill="#3a3a3a">2000</text>
<path d="M822.70 276.50v-1.2M822.70 197.40v1.2" stroke="#a4a4a4" stroke-width="0.5"/>
<text x="822.70" y="282.20" font-size="4.3" text-anchor="middle" font-family="Liberation Serif, serif" fill="#3a3a3a">2500</text>
<path d="M708.40 276.50h1.2M822.70 276.50h-1.2" stroke="#a4a4a4" stroke-width="0.5"/>
<text x="707.20" y="278.40" font-size="4.3" text-anchor="end" font-family="Liberation Serif, serif" fill="#3a3a3a">0</text>
<path d="M708.40 266.61h1.2M822.70 266.61h-1.2" stroke="#a4a4a4" stroke-width="0.5"/>
<text x="707.20" y="268.51" font-size="4.3" text-anchor="end" font-family="Liberation Serif, serif" fill="#3a3a3a">0.1</text>
<path d="M708.40 256.73h1.2M822.70 256.73h-1.2" stroke="#a4a4a4" stroke-width="0.5"/>
<text x="707.20" y="258.62" font-size="4.3" text-anchor="end" font-family="Liberation Serif, serif" fill="#3a3a3a">0.2</text>
<path d="M708.40 246.84h1.2M822.70 246.84h-1.2" stroke="#a4a4a4" stroke-width="0.5"/>
<text x="707.20" y="248.74" font-size="4.3" text-anchor="end" font-family="Liberation Serif, serif" fill="#3a3a3a">0.3</text>
<path d="M708.40 236.95h1.2M822.70 236.95h-1.2" stroke="#a4a4a4" stroke-width="0.5"/>
<text x="707.20" y="238.85" font-size="4.3" text-anchor="end" font-family="Liberation Serif, serif" fill="#3a3a3a">0.4</text>
<path d="M708.40 227.06h1.2M822.70 227.06h-1.2" stroke="#a4a4a4" stroke-width="0.5"/>
<text x="707.20" y="228.96" font-size="4.3" text-anchor="end" font-family="Liberation Serif, serif" fill="#3a3a3a">0.5</text>
<path d="M708.40 217.18h1.2M822.70 217.18h-1.2" stroke="#a4a4a4" stroke-width="0.5"/>
<text x="707.20" y="219.08" font-size="4.3" text-anchor="end" font-family="Liberation Serif, serif" fill="#3a3a3a">0.6</text>
<path d="M708.40 207.29h1.2M822.70 207.29h-1.2" stroke="#a4a4a4" stroke-width="0.5"/>
<text x="707.20" y="209.19" font-size="4.3" text-anchor="end" font-family="Liberation Serif, serif" fill="#3a3a3a">0.7</text>
<path d="M708.40 197.40h1.2M822.70 197.40h-1.2" stroke="#a4a4a4" stroke-width="0.5"/>
<text x="707.20" y="199.30" font-size="4.3" text-anchor="end" font-family="Liberation Serif, serif" fill="#3a3a3a">0.8</text>
<text x="0" y="0" transform="translate(765.55,287.80) scale(0.86,1)" font-size="5.40" text-anchor="middle" font-family="Liberation Serif, serif" fill="#222">Number of superpixels</text>
<text x="0" y="0" transform="translate(699.10,236.95) rotate(-90) scale(0.92,1)" font-size="5.40" text-anchor="middle" font-family="Liberation Serif, serif" fill="#222">Time(s)</text>
<path d="M708.40 216.37 L713.16 212.81 L717.92 210.89 L722.69 209.25 L727.45 208.15 L732.21 206.78 L741.74 205.41 L751.26 203.77 L779.84 199.93 L798.89 199.93 L822.70 199.93" fill="none" stroke="#b04c14" stroke-width="0.9" stroke-linejoin="round"/>
<circle cx="708.40" cy="216.37" r="1.26" fill="#b04c14"/>
<circle cx="713.16" cy="212.81" r="1.26" fill="#b04c14"/>
<circle cx="717.92" cy="210.89" r="1.26" fill="#b04c14"/>
<circle cx="722.69" cy="209.25" r="1.26" fill="#b04c14"/>
<circle cx="727.45" cy="208.15" r="1.26" fill="#b04c14"/>
<circle cx="732.21" cy="206.78" r="1.26" fill="#b04c14"/>
<circle cx="741.74" cy="205.41" r="1.26" fill="#b04c14"/>
<circle cx="751.26" cy="203.77" r="1.26" fill="#b04c14"/>
<circle cx="779.84" cy="199.93" r="1.26" fill="#b04c14"/>
<circle cx="798.89" cy="199.93" r="1.26" fill="#b04c14"/>
<circle cx="822.70" cy="199.93" r="1.26" fill="#b04c14"/>
<path d="M708.40 227.33 L713.16 226.51 L717.92 226.51 L722.69 225.96 L727.45 227.33 L732.21 225.68 L741.74 222.95 L751.26 225.68 L779.84 224.59 L798.89 224.59 L822.70 215.55" fill="none" stroke="#ff1a1a" stroke-width="0.9" stroke-dasharray="1.9 1.1" stroke-linejoin="round"/>
<rect x="706.95" y="225.88" width="2.90" height="2.90" fill="none" stroke="#ff1a1a" stroke-width="0.55"/>
<rect x="711.71" y="225.06" width="2.90" height="2.90" fill="none" stroke="#ff1a1a" stroke-width="0.55"/>
<rect x="716.48" y="225.06" width="2.90" height="2.90" fill="none" stroke="#ff1a1a" stroke-width="0.55"/>
<rect x="721.24" y="224.51" width="2.90" height="2.90" fill="none" stroke="#ff1a1a" stroke-width="0.55"/>
<rect x="726.00" y="225.88" width="2.90" height="2.90" fill="none" stroke="#ff1a1a" stroke-width="0.55"/>
<rect x="730.76" y="224.24" width="2.90" height="2.90" fill="none" stroke="#ff1a1a" stroke-width="0.55"/>
<rect x="740.29" y="221.50" width="2.90" height="2.90" fill="none" stroke="#ff1a1a" stroke-width="0.55"/>
<rect x="749.81" y="224.24" width="2.90" height="2.90" fill="none" stroke="#ff1a1a" stroke-width="0.55"/>
<rect x="778.39" y="223.14" width="2.90" height="2.90" fill="none" stroke="#ff1a1a" stroke-width="0.55"/>
<rect x="797.44" y="223.14" width="2.90" height="2.90" fill="none" stroke="#ff1a1a" stroke-width="0.55"/>
<rect x="821.25" y="214.10" width="2.90" height="2.90" fill="none" stroke="#ff1a1a" stroke-width="0.55"/>
<path d="M708.40 239.38 L713.16 240.21 L717.92 240.21 L722.69 241.03 L727.45 242.12 L732.21 243.77 L741.74 243.77 L751.26 242.12 L779.84 244.32 L798.89 245.68 L822.70 245.68" fill="none" stroke="#ff1a1a" stroke-width="0.9" stroke-linejoin="round"/>
<circle cx="708.40" cy="239.38" r="1.40" fill="#ff1a1a"/>
<circle cx="713.16" cy="240.21" r="1.40" fill="#ff1a1a"/>
<circle cx="717.92" cy="240.21" r="1.40" fill="#ff1a1a"/>
<circle cx="722.69" cy="241.03" r="1.40" fill="#ff1a1a"/>
<circle cx="727.45" cy="242.12" r="1.40" fill="#ff1a1a"/>
<circle cx="732.21" cy="243.77" r="1.40" fill="#ff1a1a"/>
<circle cx="741.74" cy="243.77" r="1.40" fill="#ff1a1a"/>
<circle cx="751.26" cy="242.12" r="1.40" fill="#ff1a1a"/>
<circle cx="779.84" cy="244.32" r="1.40" fill="#ff1a1a"/>
<circle cx="798.89" cy="245.68" r="1.40" fill="#ff1a1a"/>
<circle cx="822.70" cy="245.68" r="1.40" fill="#ff1a1a"/>
<path d="M708.40 248.42 L713.16 247.60 L717.92 246.51 L722.69 245.68 L727.45 247.05 L732.21 245.68 L741.74 244.86 L751.26 241.03 L779.84 241.58 L798.89 241.58 L822.70 240.21" fill="none" stroke="#000000" stroke-width="0.9" stroke-dasharray="1.9 1.1" stroke-linejoin="round"/>
<path d="M708.40 246.63L709.83 248.42L708.40 250.21L706.97 248.42Z" fill="none" stroke="#000000" stroke-width="0.6"/>
<path d="M713.16 245.81L714.59 247.60L713.16 249.39L711.73 247.60Z" fill="none" stroke="#000000" stroke-width="0.6"/>
<path d="M717.92 244.72L719.36 246.51L717.92 248.30L716.49 246.51Z" fill="none" stroke="#000000" stroke-width="0.6"/>
<path d="M722.69 243.89L724.12 245.68L722.69 247.48L721.26 245.68Z" fill="none" stroke="#000000" stroke-width="0.6"/>
<path d="M727.45 245.26L728.88 247.05L727.45 248.85L726.02 247.05Z" fill="none" stroke="#000000" stroke-width="0.6"/>
<path d="M732.21 243.89L733.64 245.68L732.21 247.48L730.78 245.68Z" fill="none" stroke="#000000" stroke-width="0.6"/>
<path d="M741.74 243.07L743.17 244.86L741.74 246.65L740.31 244.86Z" fill="none" stroke="#000000" stroke-width="0.6"/>
<path d="M751.26 239.24L752.69 241.03L751.26 242.82L749.83 241.03Z" fill="none" stroke="#000000" stroke-width="0.6"/>
<path d="M779.84 239.79L781.27 241.58L779.84 243.37L778.41 241.58Z" fill="none" stroke="#000000" stroke-width="0.6"/>
<path d="M798.89 239.79L800.32 241.58L798.89 243.37L797.46 241.58Z" fill="none" stroke="#000000" stroke-width="0.6"/>
<path d="M822.70 238.42L824.13 240.21L822.70 242.00L821.27 240.21Z" fill="none" stroke="#000000" stroke-width="0.6"/>
<path d="M708.40 245.68 L713.16 249.25 L717.92 249.79 L722.69 249.25 L727.45 248.42 L732.21 248.42 L741.74 248.42 L751.26 247.60 L779.84 245.68 L798.89 244.86 L822.70 244.86" fill="none" stroke="#3a3a3a" stroke-width="0.9" stroke-linejoin="round"/>
<circle cx="708.40" cy="245.68" r="1.40" fill="#3a3a3a"/>
<circle cx="713.16" cy="249.25" r="1.40" fill="#3a3a3a"/>
<circle cx="717.92" cy="249.79" r="1.40" fill="#3a3a3a"/>
<circle cx="722.69" cy="249.25" r="1.40" fill="#3a3a3a"/>
<circle cx="727.45" cy="248.42" r="1.40" fill="#3a3a3a"/>
<circle cx="732.21" cy="248.42" r="1.40" fill="#3a3a3a"/>
<circle cx="741.74" cy="248.42" r="1.40" fill="#3a3a3a"/>
<circle cx="751.26" cy="247.60" r="1.40" fill="#3a3a3a"/>
<circle cx="779.84" cy="245.68" r="1.40" fill="#3a3a3a"/>
<circle cx="798.89" cy="244.86" r="1.40" fill="#3a3a3a"/>
<circle cx="822.70" cy="244.86" r="1.40" fill="#3a3a3a"/>
<path d="M708.40 252.53 L713.16 251.16 L717.92 251.16 L722.69 245.68 L727.45 249.79 L732.21 248.42 L741.74 248.42 L751.26 247.05 L779.84 251.16 L798.89 249.25 L822.70 240.21" fill="none" stroke="#00e000" stroke-width="0.9" stroke-dasharray="1.9 1.1" stroke-linejoin="round"/>
<circle cx="708.40" cy="252.53" r="1.26" fill="#00e000"/>
<circle cx="713.16" cy="251.16" r="1.26" fill="#00e000"/>
<circle cx="717.92" cy="251.16" r="1.26" fill="#00e000"/>
<circle cx="722.69" cy="245.68" r="1.26" fill="#00e000"/>
<circle cx="727.45" cy="249.79" r="1.26" fill="#00e000"/>
<circle cx="732.21" cy="248.42" r="1.26" fill="#00e000"/>
<circle cx="741.74" cy="248.42" r="1.26" fill="#00e000"/>
<circle cx="751.26" cy="247.05" r="1.26" fill="#00e000"/>
<circle cx="779.84" cy="251.16" r="1.26" fill="#00e000"/>
<circle cx="798.89" cy="249.25" r="1.26" fill="#00e000"/>
<circle cx="822.70" cy="240.21" r="1.26" fill="#00e000"/>
<path d="M708.40 255.82 L713.16 255.82 L717.92 255.82 L722.69 253.90 L727.45 252.53 L732.21 254.73 L741.74 254.73 L751.26 252.53 L779.84 254.73 L798.89 255.82 L822.70 255.82" fill="none" stroke="#00e000" stroke-width="0.9" stroke-linejoin="round"/>
<circle cx="708.40" cy="255.82" r="1.12" fill="#00e000"/>
<circle cx="713.16" cy="255.82" r="1.12" fill="#00e000"/>
<circle cx="717.92" cy="255.82" r="1.12" fill="#00e000"/>
<circle cx="722.69" cy="253.90" r="1.12" fill="#00e000"/>
<circle cx="727.45" cy="252.53" r="1.12" fill="#00e000"/>
<circle cx="732.21" cy="254.73" r="1.12" fill="#00e000"/>
<circle cx="741.74" cy="254.73" r="1.12" fill="#00e000"/>
<circle cx="751.26" cy="252.53" r="1.12" fill="#00e000"/>
<circle cx="779.84" cy="254.73" r="1.12" fill="#00e000"/>
<circle cx="798.89" cy="255.82" r="1.12" fill="#00e000"/>
<circle cx="822.70" cy="255.82" r="1.12" fill="#00e000"/>
<path d="M708.40 268.97 L713.16 268.97 L717.92 268.97 L722.69 268.42 L727.45 267.60 L732.21 266.78 L741.74 266.78 L751.26 266.78 L779.84 266.78 L798.89 266.78 L822.70 266.23" fill="none" stroke="#2a2aff" stroke-width="0.9" stroke-dasharray="1.9 1.1" stroke-linejoin="round"/>
<circle cx="708.40" cy="268.97" r="1.12" fill="#2a2aff"/>
<circle cx="713.16" cy="268.97" r="1.12" fill="#2a2aff"/>
<circle cx="717.92" cy="268.97" r="1.12" fill="#2a2aff"/>
<circle cx="722.69" cy="268.42" r="1.12" fill="#2a2aff"/>
<circle cx="727.45" cy="267.60" r="1.12" fill="#2a2aff"/>
<circle cx="732.21" cy="266.78" r="1.12" fill="#2a2aff"/>
<circle cx="741.74" cy="266.78" r="1.12" fill="#2a2aff"/>
<circle cx="751.26" cy="266.78" r="1.12" fill="#2a2aff"/>
<circle cx="779.84" cy="266.78" r="1.12" fill="#2a2aff"/>
<circle cx="798.89" cy="266.78" r="1.12" fill="#2a2aff"/>
<circle cx="822.70" cy="266.23" r="1.12" fill="#2a2aff"/>
<path d="M708.40 269.52 L713.16 269.52 L717.92 269.52 L722.69 269.52 L727.45 269.52 L732.21 269.52 L741.74 269.52 L751.26 269.52 L779.84 269.52 L798.89 269.52 L822.70 269.52" fill="none" stroke="#ff20ff" stroke-width="0.9" stroke-linejoin="round"/>
<path d="M708.40 267.89L709.70 269.52L708.40 271.15L707.10 269.52Z" fill="#ff20ff"/>
<path d="M713.16 267.89L714.46 269.52L713.16 271.15L711.86 269.52Z" fill="#ff20ff"/>
<path d="M717.92 267.89L719.23 269.52L717.92 271.15L716.62 269.52Z" fill="#ff20ff"/>
<path d="M722.69 267.89L723.99 269.52L722.69 271.15L721.39 269.52Z" fill="#ff20ff"/>
<path d="M727.45 267.89L728.75 269.52L727.45 271.15L726.15 269.52Z" fill="#ff20ff"/>
<path d="M732.21 267.89L733.51 269.52L732.21 271.15L730.91 269.52Z" fill="#ff20ff"/>
<path d="M741.74 267.89L743.04 269.52L741.74 271.15L740.44 269.52Z" fill="#ff20ff"/>
<path d="M751.26 267.89L752.56 269.52L751.26 271.15L749.96 269.52Z" fill="#ff20ff"/>
<path d="M779.84 267.89L781.14 269.52L779.84 271.15L778.54 269.52Z" fill="#ff20ff"/>
<path d="M798.89 267.89L800.19 269.52L798.89 271.15L797.59 269.52Z" fill="#ff20ff"/>
<path d="M822.70 267.89L824.00 269.52L822.70 271.15L821.40 269.52Z" fill="#ff20ff"/>
<path d="M708.40 270.34 L713.16 270.34 L717.92 270.34 L722.69 270.34 L727.45 270.34 L732.21 270.34 L741.74 270.34 L751.26 270.34 L779.84 270.34 L798.89 270.34 L822.70 270.34" fill="none" stroke="#2a2aff" stroke-width="0.9" stroke-linejoin="round"/>
<circle cx="708.40" cy="270.34" r="0.98" fill="#2a2aff"/>
<circle cx="713.16" cy="270.34" r="0.98" fill="#2a2aff"/>
<circle cx="717.92" cy="270.34" r="0.98" fill="#2a2aff"/>
<circle cx="722.69" cy="270.34" r="0.98" fill="#2a2aff"/>
<circle cx="727.45" cy="270.34" r="0.98" fill="#2a2aff"/>
<circle cx="732.21" cy="270.34" r="0.98" fill="#2a2aff"/>
<circle cx="741.74" cy="270.34" r="0.98" fill="#2a2aff"/>
<circle cx="751.26" cy="270.34" r="0.98" fill="#2a2aff"/>
<circle cx="779.84" cy="270.34" r="0.98" fill="#2a2aff"/>
<circle cx="798.89" cy="270.34" r="0.98" fill="#2a2aff"/>
<circle cx="822.70" cy="270.34" r="0.98" fill="#2a2aff"/>
</svg></body></html>
